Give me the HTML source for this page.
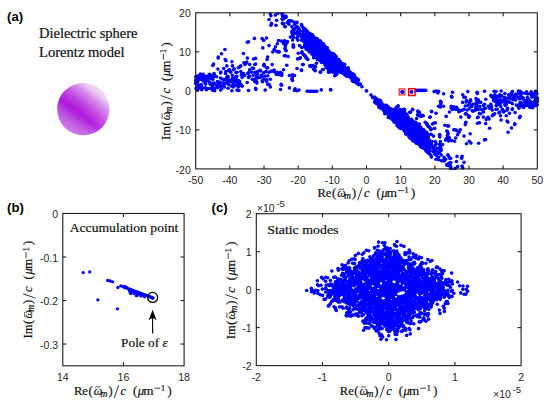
<!DOCTYPE html>
<html><head><meta charset="utf-8">
<style>
html,body{margin:0;padding:0;background:#fff;width:550px;height:406px;overflow:hidden}
svg{position:absolute;left:0;top:0}
.sans{font-family:"Liberation Sans",sans-serif}
.serif{font-family:"Liberation Serif",serif;stroke:#111;stroke-width:0.2px}
</style></head><body>
<svg width="550" height="406" viewBox="0 0 550 406">
<defs>
<linearGradient id="sph" x1="0.2" y1="1" x2="0.8" y2="0.2">
<stop offset="0.08" stop-color="#cd82e6"/>
<stop offset="0.28" stop-color="#c05ce2"/>
<stop offset="0.47" stop-color="#b41ade"/>
<stop offset="0.66" stop-color="#c450e2"/>
<stop offset="0.86" stop-color="#da98ec"/>
<stop offset="1.06" stop-color="#f2dcf5"/>
</linearGradient>
<radialGradient id="sphr" cx="0.3" cy="0.42" r="0.75">
<stop offset="0" stop-color="#9000c0" stop-opacity="0.18"/>
<stop offset="0.5" stop-color="#9000c0" stop-opacity="0.05"/>
<stop offset="1" stop-color="#ffffff" stop-opacity="0.15"/>
</radialGradient>
<clipPath id="clipA"><rect x="193" y="12.6" width="347" height="157.5"/></clipPath>
</defs>
<rect x="0" y="0" width="550" height="406" fill="#fff"/>
<!-- (a) text -->
<text class="sans" x="7" y="21.4" font-size="13.2" font-weight="bold" fill="#000">(a)</text>
<text class="serif" x="39" y="37.5" font-size="13.6" fill="#111" textLength="98.5" lengthAdjust="spacingAndGlyphs">Dielectric sphere</text>
<text class="serif" x="39" y="56.5" font-size="13.6" fill="#111" textLength="85.5" lengthAdjust="spacingAndGlyphs">Lorentz model</text>
<circle cx="83.3" cy="109.1" r="26.2" fill="url(#sph)"/><circle cx="83.3" cy="109.1" r="26.2" fill="url(#sphr)"/>

<!-- Panel (a) axes -->
<g fill="#0000ff" clip-path="url(#clipA)"><path d="M310.0 34.0 L327.3 48.7 L343.2 63.5 L348.7 68.5 L353.0 73.0 L357.0 78.0 L360.0 83.5 L348.7 76.8 L337.3 73.0 L329.1 69.5 L317.6 56.5 L311.0 51.0 L306.0 45.0 L306.0 38.0Z M423.0 147.7 L405.7 133.0 L389.8 118.2 L384.3 113.2 L380.0 108.7 L376.0 103.7 L373.0 98.2 L384.3 104.9 L395.7 108.7 L403.9 112.2 L415.4 125.2 L422.0 130.7 L427.0 136.7 L427.0 143.7Z"/><circle cx="224.9" cy="49.5" r="1.8"/><circle cx="221.5" cy="53.7" r="1.8"/><circle cx="218.3" cy="57.1" r="1.8"/><circle cx="225.2" cy="59.6" r="1.8"/><circle cx="247.4" cy="42.2" r="1.8"/><circle cx="248.5" cy="41.8" r="1.8"/><circle cx="254.4" cy="38.4" r="1.8"/><circle cx="262.1" cy="38.6" r="1.8"/><circle cx="263.7" cy="40.5" r="1.8"/><circle cx="262.8" cy="47.9" r="1.8"/><circle cx="243.4" cy="53.5" r="1.8"/><circle cx="247.4" cy="58.1" r="1.8"/><circle cx="253.5" cy="59.0" r="1.8"/><circle cx="255.5" cy="58.4" r="1.8"/><circle cx="270.3" cy="13.8" r="1.8"/><circle cx="270.9" cy="15.7" r="1.8"/><circle cx="275.4" cy="15.1" r="1.8"/><circle cx="277.9" cy="13.2" r="1.8"/><circle cx="281.7" cy="13.2" r="1.8"/><circle cx="282.4" cy="15.7" r="1.8"/><circle cx="285.5" cy="16.4" r="1.8"/><circle cx="269.0" cy="19.5" r="1.8"/><circle cx="276.6" cy="20.2" r="1.8"/><circle cx="282.4" cy="19.2" r="1.8"/><circle cx="271.5" cy="23.4" r="1.8"/><circle cx="270.9" cy="25.3" r="1.8"/><circle cx="276.0" cy="25.3" r="1.8"/><circle cx="282.4" cy="23.4" r="1.8"/><circle cx="284.9" cy="26.5" r="1.8"/><circle cx="288.7" cy="20.8" r="1.8"/><circle cx="266.5" cy="38.0" r="1.8"/><circle cx="269.0" cy="45.6" r="1.8"/><circle cx="278.5" cy="40.5" r="1.8"/><circle cx="277.3" cy="43.7" r="1.8"/><circle cx="284.3" cy="41.2" r="1.8"/><circle cx="285.5" cy="44.4" r="1.8"/><circle cx="275.4" cy="46.9" r="1.8"/><circle cx="274.1" cy="49.5" r="1.8"/><circle cx="272.8" cy="52.0" r="1.8"/><circle cx="277.9" cy="52.0" r="1.8"/><circle cx="284.9" cy="48.2" r="1.8"/><circle cx="286.2" cy="50.7" r="1.8"/><circle cx="293.2" cy="46.9" r="1.8"/><circle cx="285.5" cy="55.8" r="1.8"/><circle cx="288.1" cy="56.5" r="1.8"/><circle cx="267.7" cy="57.1" r="1.8"/><circle cx="298.3" cy="53.3" r="1.8"/><circle cx="299.5" cy="58.4" r="1.8"/><circle cx="303.4" cy="54.5" r="1.8"/><circle cx="311.3" cy="65.6" r="1.8"/><circle cx="315.1" cy="70.7" r="1.8"/><circle cx="320.2" cy="72.0" r="1.8"/><circle cx="322.7" cy="69.5" r="1.8"/><circle cx="334.8" cy="75.8" r="1.8"/><circle cx="328.3" cy="72.1" r="1.8"/><circle cx="321.3" cy="89.9" r="1.8"/><circle cx="330.8" cy="89.9" r="1.8"/><circle cx="362.0" cy="86.7" r="1.8"/><circle cx="366.4" cy="90.7" r="1.8"/><circle cx="231.9" cy="61.7" r="1.8"/><circle cx="213.5" cy="64.0" r="1.8"/><circle cx="212.8" cy="65.5" r="1.8"/><circle cx="226.8" cy="65.9" r="1.8"/><circle cx="232.5" cy="65.9" r="1.8"/><circle cx="244.0" cy="62.7" r="1.8"/><circle cx="245.9" cy="63.4" r="1.8"/><circle cx="249.7" cy="64.6" r="1.8"/><circle cx="254.8" cy="64.6" r="1.8"/><circle cx="263.7" cy="65.3" r="1.8"/><circle cx="217.9" cy="69.1" r="1.8"/><circle cx="223.6" cy="68.5" r="1.8"/><circle cx="228.7" cy="70.4" r="1.8"/><circle cx="233.2" cy="69.7" r="1.8"/><circle cx="238.3" cy="67.8" r="1.8"/><circle cx="240.8" cy="65.9" r="1.8"/><circle cx="253.5" cy="68.5" r="1.8"/><circle cx="259.9" cy="70.4" r="1.8"/><circle cx="214.1" cy="73.5" r="1.8"/><circle cx="220.5" cy="72.9" r="1.8"/><circle cx="225.5" cy="73.5" r="1.8"/><circle cx="230.6" cy="72.3" r="1.8"/><circle cx="237.0" cy="72.3" r="1.8"/><circle cx="240.8" cy="71.6" r="1.8"/><circle cx="243.4" cy="73.5" r="1.8"/><circle cx="248.5" cy="72.9" r="1.8"/><circle cx="254.8" cy="72.3" r="1.8"/><circle cx="257.4" cy="74.2" r="1.8"/><circle cx="263.7" cy="72.9" r="1.8"/><circle cx="276.6" cy="51.3" r="1.8"/><circle cx="279.2" cy="51.9" r="1.8"/><circle cx="285.5" cy="50.0" r="1.8"/><circle cx="267.1" cy="59.5" r="1.8"/><circle cx="284.3" cy="55.7" r="1.8"/><circle cx="302.1" cy="51.9" r="1.8"/><circle cx="304.6" cy="55.1" r="1.8"/><circle cx="305.9" cy="57.6" r="1.8"/><circle cx="307.8" cy="59.5" r="1.8"/><circle cx="297.6" cy="58.9" r="1.8"/><circle cx="264.5" cy="65.9" r="1.8"/><circle cx="272.2" cy="64.6" r="1.8"/><circle cx="286.8" cy="65.3" r="1.8"/><circle cx="302.7" cy="64.6" r="1.8"/><circle cx="309.7" cy="65.9" r="1.8"/><circle cx="297.0" cy="68.5" r="1.8"/><circle cx="301.5" cy="70.4" r="1.8"/><circle cx="313.5" cy="69.1" r="1.8"/><circle cx="255.6" cy="64.0" r="1.8"/><circle cx="267.7" cy="67.8" r="1.8"/><circle cx="256.3" cy="72.3" r="1.8"/><circle cx="260.7" cy="71.0" r="1.8"/><circle cx="269.0" cy="72.3" r="1.8"/><circle cx="272.8" cy="71.0" r="1.8"/><circle cx="275.4" cy="72.3" r="1.8"/><circle cx="277.9" cy="73.5" r="1.8"/><circle cx="280.5" cy="72.3" r="1.8"/><circle cx="283.6" cy="69.7" r="1.8"/><circle cx="281.7" cy="75.5" r="1.8"/><circle cx="279.2" cy="74.8" r="1.8"/><circle cx="289.4" cy="75.5" r="1.8"/><circle cx="292.5" cy="74.8" r="1.8"/><circle cx="294.5" cy="75.5" r="1.8"/><circle cx="291.9" cy="79.3" r="1.8"/><circle cx="292.5" cy="80.5" r="1.8"/><circle cx="256.3" cy="75.5" r="1.8"/><circle cx="257.5" cy="78.0" r="1.8"/><circle cx="262.0" cy="76.7" r="1.8"/><circle cx="263.9" cy="79.3" r="1.8"/><circle cx="266.5" cy="81.2" r="1.8"/><circle cx="270.3" cy="79.3" r="1.8"/><circle cx="256.3" cy="81.2" r="1.8"/><circle cx="256.9" cy="83.1" r="1.8"/><circle cx="269.0" cy="84.4" r="1.8"/><circle cx="270.3" cy="86.9" r="1.8"/><circle cx="281.1" cy="84.4" r="1.8"/><circle cx="255.6" cy="88.2" r="1.8"/><circle cx="265.2" cy="90.1" r="1.8"/><circle cx="280.5" cy="89.5" r="1.8"/><circle cx="289.4" cy="87.9" r="1.8"/><circle cx="295.1" cy="88.8" r="1.8"/><circle cx="297.0" cy="90.7" r="1.8"/><circle cx="298.9" cy="90.1" r="1.8"/><circle cx="294.5" cy="90.4" r="1.8"/><circle cx="281.5" cy="85.3" r="1.8"/><circle cx="212.8" cy="79.3" r="1.8"/><circle cx="216.6" cy="76.7" r="1.8"/><circle cx="220.5" cy="78.0" r="1.8"/><circle cx="224.3" cy="79.9" r="1.8"/><circle cx="228.1" cy="77.4" r="1.8"/><circle cx="231.9" cy="79.3" r="1.8"/><circle cx="235.7" cy="76.7" r="1.8"/><circle cx="238.3" cy="80.5" r="1.8"/><circle cx="242.1" cy="77.4" r="1.8"/><circle cx="244.6" cy="75.5" r="1.8"/><circle cx="248.5" cy="77.4" r="1.8"/><circle cx="252.3" cy="79.3" r="1.8"/><circle cx="256.1" cy="78.0" r="1.8"/><circle cx="259.9" cy="77.4" r="1.8"/><circle cx="214.1" cy="83.1" r="1.8"/><circle cx="219.2" cy="83.7" r="1.8"/><circle cx="223.0" cy="83.1" r="1.8"/><circle cx="228.1" cy="82.5" r="1.8"/><circle cx="233.2" cy="84.4" r="1.8"/><circle cx="237.0" cy="83.1" r="1.8"/><circle cx="240.8" cy="84.4" r="1.8"/><circle cx="247.2" cy="82.5" r="1.8"/><circle cx="254.8" cy="81.8" r="1.8"/><circle cx="262.5" cy="81.8" r="1.8"/><circle cx="212.8" cy="86.9" r="1.8"/><circle cx="217.9" cy="85.6" r="1.8"/><circle cx="224.3" cy="86.9" r="1.8"/><circle cx="228.1" cy="88.2" r="1.8"/><circle cx="233.2" cy="86.9" r="1.8"/><circle cx="238.3" cy="86.9" r="1.8"/><circle cx="242.1" cy="86.3" r="1.8"/><circle cx="212.8" cy="90.5" r="1.8"/><circle cx="214.7" cy="90.7" r="1.8"/><circle cx="220.5" cy="90.1" r="1.8"/><circle cx="221.7" cy="88.8" r="1.8"/><circle cx="231.9" cy="90.7" r="1.8"/><circle cx="237.0" cy="90.1" r="1.8"/><circle cx="238.9" cy="90.5" r="1.8"/><circle cx="248.5" cy="90.5" r="1.8"/><circle cx="307.2" cy="91.3" r="1.8"/><circle cx="308.8" cy="91.3" r="1.8"/><circle cx="310.4" cy="91.3" r="1.8"/><circle cx="312.0" cy="91.3" r="1.8"/><circle cx="313.6" cy="91.3" r="1.8"/><circle cx="315.2" cy="91.3" r="1.8"/><circle cx="316.8" cy="91.3" r="1.8"/><circle cx="200.6" cy="78.6" r="1.8"/><circle cx="213.4" cy="84.3" r="1.8"/><circle cx="204.3" cy="78.8" r="1.8"/><circle cx="209.0" cy="76.5" r="1.8"/><circle cx="210.6" cy="88.6" r="1.8"/><circle cx="201.1" cy="88.7" r="1.8"/><circle cx="210.5" cy="75.0" r="1.8"/><circle cx="205.4" cy="87.7" r="1.8"/><circle cx="211.2" cy="78.7" r="1.8"/><circle cx="212.0" cy="77.0" r="1.8"/><circle cx="197.3" cy="76.1" r="1.8"/><circle cx="203.2" cy="80.9" r="1.8"/><circle cx="201.5" cy="86.6" r="1.8"/><circle cx="199.8" cy="75.6" r="1.8"/><circle cx="197.6" cy="83.1" r="1.8"/><circle cx="216.5" cy="85.1" r="1.8"/><circle cx="214.9" cy="88.4" r="1.8"/><circle cx="207.8" cy="88.5" r="1.8"/><circle cx="206.6" cy="77.9" r="1.8"/><circle cx="205.7" cy="84.1" r="1.8"/><circle cx="202.9" cy="88.0" r="1.8"/><circle cx="201.3" cy="79.2" r="1.8"/><circle cx="195.6" cy="83.6" r="1.8"/><circle cx="201.9" cy="74.6" r="1.8"/><circle cx="198.9" cy="77.0" r="1.8"/><circle cx="206.2" cy="81.1" r="1.8"/><circle cx="201.8" cy="77.7" r="1.8"/><circle cx="206.4" cy="76.9" r="1.8"/><circle cx="214.4" cy="76.4" r="1.8"/><circle cx="212.4" cy="83.3" r="1.8"/><circle cx="200.2" cy="85.7" r="1.8"/><circle cx="209.4" cy="82.1" r="1.8"/><circle cx="201.1" cy="84.5" r="1.8"/><circle cx="197.3" cy="87.5" r="1.8"/><circle cx="205.1" cy="83.4" r="1.8"/><circle cx="202.5" cy="76.4" r="1.8"/><circle cx="195.7" cy="76.9" r="1.8"/><circle cx="205.4" cy="79.6" r="1.8"/><circle cx="196.8" cy="80.0" r="1.8"/><circle cx="213.1" cy="76.8" r="1.8"/><circle cx="207.9" cy="79.4" r="1.8"/><circle cx="206.9" cy="78.8" r="1.8"/><circle cx="197.4" cy="81.2" r="1.8"/><circle cx="196.1" cy="88.2" r="1.8"/><circle cx="198.2" cy="85.5" r="1.8"/><circle cx="215.7" cy="76.2" r="1.8"/><circle cx="203.0" cy="79.6" r="1.8"/><circle cx="195.7" cy="80.3" r="1.8"/><circle cx="213.1" cy="88.9" r="1.8"/><circle cx="217.5" cy="87.4" r="1.8"/><circle cx="196.5" cy="78.1" r="1.8"/><circle cx="203.2" cy="74.4" r="1.8"/><circle cx="197.6" cy="89.4" r="1.8"/><circle cx="207.5" cy="80.3" r="1.8"/><circle cx="217.7" cy="84.8" r="1.8"/><circle cx="211.8" cy="85.2" r="1.8"/><circle cx="207.1" cy="76.3" r="1.8"/><circle cx="217.5" cy="81.6" r="1.8"/><circle cx="198.1" cy="78.6" r="1.8"/><circle cx="196.0" cy="82.1" r="1.8"/><circle cx="199.2" cy="87.5" r="1.8"/><circle cx="198.7" cy="80.3" r="1.8"/><circle cx="209.4" cy="74.2" r="1.8"/><circle cx="200.4" cy="76.8" r="1.8"/><circle cx="200.3" cy="74.0" r="1.8"/><circle cx="209.9" cy="84.0" r="1.8"/><circle cx="205.3" cy="76.2" r="1.8"/><circle cx="222.9" cy="85.3" r="1.8"/><circle cx="233.2" cy="81.2" r="1.8"/><circle cx="226.8" cy="77.2" r="1.8"/><circle cx="231.3" cy="81.5" r="1.8"/><circle cx="235.8" cy="85.5" r="1.8"/><circle cx="228.9" cy="80.1" r="1.8"/><circle cx="236.0" cy="77.7" r="1.8"/><circle cx="231.2" cy="86.0" r="1.8"/><circle cx="222.9" cy="79.2" r="1.8"/><circle cx="239.2" cy="83.1" r="1.8"/><circle cx="238.9" cy="85.1" r="1.8"/><circle cx="232.8" cy="78.1" r="1.8"/><circle cx="225.3" cy="83.6" r="1.8"/><circle cx="227.6" cy="81.1" r="1.8"/><circle cx="219.6" cy="82.9" r="1.8"/><circle cx="235.1" cy="81.6" r="1.8"/><circle cx="228.5" cy="84.5" r="1.8"/><circle cx="220.1" cy="82.0" r="1.8"/><circle cx="234.5" cy="80.0" r="1.8"/><circle cx="237.3" cy="81.0" r="1.8"/><circle cx="220.5" cy="86.7" r="1.8"/><circle cx="219.7" cy="84.9" r="1.8"/><circle cx="225.9" cy="60.7" r="1.8"/><circle cx="246.8" cy="62.1" r="1.8"/><circle cx="245.0" cy="64.4" r="1.8"/><circle cx="264.1" cy="64.4" r="1.8"/><circle cx="229.5" cy="69.8" r="1.8"/><circle cx="234.1" cy="68.9" r="1.8"/><circle cx="239.5" cy="67.1" r="1.8"/><circle cx="249.5" cy="69.8" r="1.8"/><circle cx="252.3" cy="68.0" r="1.8"/><circle cx="266.8" cy="68.0" r="1.8"/><circle cx="225.9" cy="71.6" r="1.8"/><circle cx="235.9" cy="72.5" r="1.8"/><circle cx="247.7" cy="73.5" r="1.8"/><circle cx="251.4" cy="72.1" r="1.8"/><circle cx="257.7" cy="71.6" r="1.8"/><circle cx="265.9" cy="71.6" r="1.8"/><circle cx="274.1" cy="71.6" r="1.8"/><circle cx="227.7" cy="76.2" r="1.8"/><circle cx="232.3" cy="75.3" r="1.8"/><circle cx="236.8" cy="76.2" r="1.8"/><circle cx="241.4" cy="74.8" r="1.8"/><circle cx="249.5" cy="76.2" r="1.8"/><circle cx="253.2" cy="75.3" r="1.8"/><circle cx="256.8" cy="77.1" r="1.8"/><circle cx="261.4" cy="75.3" r="1.8"/><circle cx="265.0" cy="76.2" r="1.8"/><circle cx="267.7" cy="75.7" r="1.8"/><circle cx="225.9" cy="79.8" r="1.8"/><circle cx="233.2" cy="79.8" r="1.8"/><circle cx="236.8" cy="79.8" r="1.8"/><circle cx="239.5" cy="81.2" r="1.8"/><circle cx="254.1" cy="79.8" r="1.8"/><circle cx="262.3" cy="80.7" r="1.8"/><circle cx="266.8" cy="79.8" r="1.8"/><circle cx="228.6" cy="83.5" r="1.8"/><circle cx="233.2" cy="85.3" r="1.8"/><circle cx="237.7" cy="83.9" r="1.8"/><circle cx="241.4" cy="85.3" r="1.8"/><circle cx="267.7" cy="84.4" r="1.8"/><circle cx="255.9" cy="89.4" r="1.8"/><circle cx="305.5" cy="56.4" r="1.8"/><circle cx="306.8" cy="58.6" r="1.8"/><circle cx="313.6" cy="57.7" r="1.8"/><circle cx="317.3" cy="59.5" r="1.8"/><circle cx="316.4" cy="63.2" r="1.8"/><circle cx="312.7" cy="65.5" r="1.8"/><circle cx="315.5" cy="66.8" r="1.8"/><circle cx="270.9" cy="71.4" r="1.8"/><circle cx="274.1" cy="70.0" r="1.8"/><circle cx="277.3" cy="72.3" r="1.8"/><circle cx="276.4" cy="74.5" r="1.8"/><circle cx="281.8" cy="73.6" r="1.8"/><circle cx="292.3" cy="77.7" r="1.8"/><circle cx="218.2" cy="58.0" r="1.8"/><circle cx="220.9" cy="72.1" r="1.8"/><circle cx="214.1" cy="74.8" r="1.8"/><circle cx="197.3" cy="90.3" r="1.8"/><circle cx="201.8" cy="89.8" r="1.8"/><circle cx="206.4" cy="89.8" r="1.8"/><circle cx="298.4" cy="28.3" r="1.8"/><circle cx="307.7" cy="48.4" r="1.8"/><circle cx="323.3" cy="48.6" r="1.8"/><circle cx="292.0" cy="31.3" r="1.8"/><circle cx="314.5" cy="43.5" r="1.8"/><circle cx="305.2" cy="36.5" r="1.8"/><circle cx="307.6" cy="39.5" r="1.8"/><circle cx="327.1" cy="52.6" r="1.8"/><circle cx="315.9" cy="45.5" r="1.8"/><circle cx="316.8" cy="48.9" r="1.8"/><circle cx="329.5" cy="57.4" r="1.8"/><circle cx="321.4" cy="60.4" r="1.8"/><circle cx="305.9" cy="31.2" r="1.8"/><circle cx="321.2" cy="46.9" r="1.8"/><circle cx="322.0" cy="59.1" r="1.8"/><circle cx="341.5" cy="63.8" r="1.8"/><circle cx="319.0" cy="43.7" r="1.8"/><circle cx="358.6" cy="84.7" r="1.8"/><circle cx="309.4" cy="50.7" r="1.8"/><circle cx="321.6" cy="62.5" r="1.8"/><circle cx="296.9" cy="26.4" r="1.8"/><circle cx="318.0" cy="50.2" r="1.8"/><circle cx="322.1" cy="56.6" r="1.8"/><circle cx="291.5" cy="21.0" r="1.8"/><circle cx="314.1" cy="52.8" r="1.8"/><circle cx="316.8" cy="44.7" r="1.8"/><circle cx="342.8" cy="63.7" r="1.8"/><circle cx="331.7" cy="69.6" r="1.8"/><circle cx="313.4" cy="36.6" r="1.8"/><circle cx="307.0" cy="35.6" r="1.8"/><circle cx="300.0" cy="34.4" r="1.8"/><circle cx="356.9" cy="79.8" r="1.8"/><circle cx="331.7" cy="56.8" r="1.8"/><circle cx="330.0" cy="66.9" r="1.8"/><circle cx="312.2" cy="36.1" r="1.8"/><circle cx="349.0" cy="75.7" r="1.8"/><circle cx="320.7" cy="57.7" r="1.8"/><circle cx="353.9" cy="80.2" r="1.8"/><circle cx="308.3" cy="34.9" r="1.8"/><circle cx="333.1" cy="59.4" r="1.8"/><circle cx="319.4" cy="56.5" r="1.8"/><circle cx="289.0" cy="24.3" r="1.8"/><circle cx="294.5" cy="33.1" r="1.8"/><circle cx="311.7" cy="50.6" r="1.8"/><circle cx="304.2" cy="46.9" r="1.8"/><circle cx="336.0" cy="59.3" r="1.8"/><circle cx="334.2" cy="69.3" r="1.8"/><circle cx="306.0" cy="41.9" r="1.8"/><circle cx="293.3" cy="37.4" r="1.8"/><circle cx="309.1" cy="45.4" r="1.8"/><circle cx="354.2" cy="74.8" r="1.8"/><circle cx="299.3" cy="33.1" r="1.8"/><circle cx="320.6" cy="50.6" r="1.8"/><circle cx="322.8" cy="50.2" r="1.8"/><circle cx="312.2" cy="40.3" r="1.8"/><circle cx="358.5" cy="79.7" r="1.8"/><circle cx="294.5" cy="24.4" r="1.8"/><circle cx="306.3" cy="37.2" r="1.8"/><circle cx="360.4" cy="84.1" r="1.8"/><circle cx="329.6" cy="63.1" r="1.8"/><circle cx="296.8" cy="38.0" r="1.8"/><circle cx="307.3" cy="36.5" r="1.8"/><circle cx="328.8" cy="59.7" r="1.8"/><circle cx="346.5" cy="70.0" r="1.8"/><circle cx="319.7" cy="58.5" r="1.8"/><circle cx="324.7" cy="63.1" r="1.8"/><circle cx="298.9" cy="29.1" r="1.8"/><circle cx="340.5" cy="64.0" r="1.8"/><circle cx="297.6" cy="31.0" r="1.8"/><circle cx="324.5" cy="58.5" r="1.8"/><circle cx="313.7" cy="51.4" r="1.8"/><circle cx="317.2" cy="56.4" r="1.8"/><circle cx="330.4" cy="62.1" r="1.8"/><circle cx="332.0" cy="53.3" r="1.8"/><circle cx="309.4" cy="36.6" r="1.8"/><circle cx="304.9" cy="42.2" r="1.8"/><circle cx="307.2" cy="43.7" r="1.8"/><circle cx="314.4" cy="54.1" r="1.8"/><circle cx="301.1" cy="40.1" r="1.8"/><circle cx="303.1" cy="27.5" r="1.8"/><circle cx="330.6" cy="71.6" r="1.8"/><circle cx="333.2" cy="62.1" r="1.8"/><circle cx="324.1" cy="60.2" r="1.8"/><circle cx="340.5" cy="61.9" r="1.8"/><circle cx="319.7" cy="60.5" r="1.8"/><circle cx="313.2" cy="38.6" r="1.8"/><circle cx="307.7" cy="46.0" r="1.8"/><circle cx="302.8" cy="38.7" r="1.8"/><circle cx="295.8" cy="27.8" r="1.8"/><circle cx="309.3" cy="42.8" r="1.8"/><circle cx="316.1" cy="52.8" r="1.8"/><circle cx="325.6" cy="47.1" r="1.8"/><circle cx="344.6" cy="74.7" r="1.8"/><circle cx="311.7" cy="45.9" r="1.8"/><circle cx="320.5" cy="56.7" r="1.8"/><circle cx="292.7" cy="35.6" r="1.8"/><circle cx="303.0" cy="33.5" r="1.8"/><circle cx="318.5" cy="57.7" r="1.8"/><circle cx="304.5" cy="34.8" r="1.8"/><circle cx="328.0" cy="56.4" r="1.8"/><circle cx="308.0" cy="37.2" r="1.8"/><circle cx="323.5" cy="59.3" r="1.8"/><circle cx="351.2" cy="78.3" r="1.8"/><circle cx="302.9" cy="36.5" r="1.8"/><circle cx="298.9" cy="30.5" r="1.8"/><circle cx="329.7" cy="71.4" r="1.8"/><circle cx="352.3" cy="80.8" r="1.8"/><circle cx="320.8" cy="55.6" r="1.8"/><circle cx="310.4" cy="35.2" r="1.8"/><circle cx="293.0" cy="34.2" r="1.8"/><circle cx="327.9" cy="61.6" r="1.8"/><circle cx="327.0" cy="66.7" r="1.8"/><circle cx="351.7" cy="73.4" r="1.8"/><circle cx="294.2" cy="30.1" r="1.8"/><circle cx="312.6" cy="51.0" r="1.8"/><circle cx="304.0" cy="29.1" r="1.8"/><circle cx="347.6" cy="71.1" r="1.8"/><circle cx="356.9" cy="78.5" r="1.8"/><circle cx="318.4" cy="49.4" r="1.8"/><circle cx="309.9" cy="37.6" r="1.8"/><circle cx="338.4" cy="66.9" r="1.8"/><circle cx="341.9" cy="72.3" r="1.8"/><circle cx="335.5" cy="74.4" r="1.8"/><circle cx="322.4" cy="61.8" r="1.8"/><circle cx="336.8" cy="72.2" r="1.8"/><circle cx="335.9" cy="69.2" r="1.8"/><circle cx="342.7" cy="67.9" r="1.8"/><circle cx="322.4" cy="53.3" r="1.8"/><circle cx="316.7" cy="53.7" r="1.8"/><circle cx="331.4" cy="68.7" r="1.8"/><circle cx="324.2" cy="45.9" r="1.8"/><circle cx="326.6" cy="51.4" r="1.8"/><circle cx="333.8" cy="56.5" r="1.8"/><circle cx="320.2" cy="46.8" r="1.8"/><circle cx="333.2" cy="61.0" r="1.8"/><circle cx="357.6" cy="81.2" r="1.8"/><circle cx="338.0" cy="61.6" r="1.8"/><circle cx="338.0" cy="63.3" r="1.8"/><circle cx="355.8" cy="81.1" r="1.8"/><circle cx="328.1" cy="63.1" r="1.8"/><circle cx="313.5" cy="45.5" r="1.8"/><circle cx="335.9" cy="56.3" r="1.8"/><circle cx="327.3" cy="55.3" r="1.8"/><circle cx="323.5" cy="58.4" r="1.8"/><circle cx="326.0" cy="62.9" r="1.8"/><circle cx="310.3" cy="40.3" r="1.8"/><circle cx="347.2" cy="75.1" r="1.8"/><circle cx="313.0" cy="42.5" r="1.8"/><circle cx="319.7" cy="42.8" r="1.8"/><circle cx="324.3" cy="49.9" r="1.8"/><circle cx="310.1" cy="49.9" r="1.8"/><circle cx="326.9" cy="59.1" r="1.8"/><circle cx="331.1" cy="58.5" r="1.8"/><circle cx="323.1" cy="47.3" r="1.8"/><circle cx="318.9" cy="54.1" r="1.8"/><circle cx="312.1" cy="54.3" r="1.8"/><circle cx="340.6" cy="69.7" r="1.8"/><circle cx="345.0" cy="68.0" r="1.8"/><circle cx="318.2" cy="40.2" r="1.8"/><circle cx="345.8" cy="71.9" r="1.8"/><circle cx="332.2" cy="58.6" r="1.8"/><circle cx="315.7" cy="39.0" r="1.8"/><circle cx="322.5" cy="44.6" r="1.8"/><circle cx="308.2" cy="50.3" r="1.8"/><circle cx="326.0" cy="50.1" r="1.8"/><circle cx="354.8" cy="77.0" r="1.8"/><circle cx="328.8" cy="50.8" r="1.8"/><circle cx="329.8" cy="54.5" r="1.8"/><circle cx="347.9" cy="70.2" r="1.8"/><circle cx="303.5" cy="41.3" r="1.8"/><circle cx="310.1" cy="44.8" r="1.8"/><circle cx="342.7" cy="65.6" r="1.8"/><circle cx="317.7" cy="41.6" r="1.8"/><circle cx="315.0" cy="53.3" r="1.8"/><circle cx="347.5" cy="74.1" r="1.8"/><circle cx="312.2" cy="47.8" r="1.8"/><circle cx="343.5" cy="72.1" r="1.8"/><circle cx="331.5" cy="62.4" r="1.8"/><circle cx="317.5" cy="51.9" r="1.8"/><circle cx="326.6" cy="58.0" r="1.8"/><circle cx="314.1" cy="39.1" r="1.8"/><circle cx="329.8" cy="60.7" r="1.8"/><circle cx="328.3" cy="54.1" r="1.8"/><circle cx="311.8" cy="38.7" r="1.8"/><circle cx="341.3" cy="69.1" r="1.8"/><circle cx="318.5" cy="56.1" r="1.8"/><circle cx="346.4" cy="74.0" r="1.8"/><circle cx="325.4" cy="48.6" r="1.8"/><circle cx="337.0" cy="73.7" r="1.8"/><circle cx="350.5" cy="75.1" r="1.8"/><circle cx="332.6" cy="54.5" r="1.8"/><circle cx="323.9" cy="44.9" r="1.8"/><circle cx="309.9" cy="38.6" r="1.8"/><circle cx="305.3" cy="46.4" r="1.8"/><circle cx="322.7" cy="52.4" r="1.8"/><circle cx="323.4" cy="61.8" r="1.8"/><circle cx="304.7" cy="38.5" r="1.8"/><circle cx="342.4" cy="69.6" r="1.8"/><circle cx="323.0" cy="43.6" r="1.8"/><circle cx="338.7" cy="59.5" r="1.8"/><circle cx="315.8" cy="41.2" r="1.8"/><circle cx="320.8" cy="52.3" r="1.8"/><circle cx="305.4" cy="37.6" r="1.8"/><circle cx="318.9" cy="47.5" r="1.8"/><circle cx="344.7" cy="73.4" r="1.8"/><circle cx="353.3" cy="78.7" r="1.8"/><circle cx="340.9" cy="68.2" r="1.8"/><circle cx="318.5" cy="45.9" r="1.8"/><circle cx="324.8" cy="52.8" r="1.8"/><circle cx="338.7" cy="60.5" r="1.8"/><circle cx="330.5" cy="68.1" r="1.8"/><circle cx="306.3" cy="49.2" r="1.8"/><circle cx="333.8" cy="66.1" r="1.8"/><circle cx="344.5" cy="69.5" r="1.8"/><circle cx="309.4" cy="51.9" r="1.8"/><circle cx="338.8" cy="69.8" r="1.8"/><circle cx="314.1" cy="56.2" r="1.8"/><circle cx="352.3" cy="76.6" r="1.8"/><circle cx="315.6" cy="46.9" r="1.8"/><circle cx="326.6" cy="49.4" r="1.8"/><circle cx="310.3" cy="51.8" r="1.8"/><circle cx="307.2" cy="41.3" r="1.8"/><circle cx="356.8" cy="83.3" r="1.8"/><circle cx="325.3" cy="56.2" r="1.8"/><circle cx="334.7" cy="60.9" r="1.8"/><circle cx="317.3" cy="39.8" r="1.8"/><circle cx="348.2" cy="76.5" r="1.8"/><circle cx="327.3" cy="64.9" r="1.8"/><circle cx="335.0" cy="68.5" r="1.8"/><circle cx="334.3" cy="64.5" r="1.8"/><circle cx="316.6" cy="50.2" r="1.8"/><circle cx="314.9" cy="48.2" r="1.8"/><circle cx="348.7" cy="71.5" r="1.8"/><circle cx="309.0" cy="48.7" r="1.8"/><circle cx="313.9" cy="47.0" r="1.8"/><circle cx="310.7" cy="44.1" r="1.8"/><circle cx="328.7" cy="51.9" r="1.8"/><circle cx="305.9" cy="47.6" r="1.8"/><circle cx="331.0" cy="65.5" r="1.8"/><circle cx="326.3" cy="54.9" r="1.8"/><circle cx="322.1" cy="55.1" r="1.8"/><circle cx="340.0" cy="71.0" r="1.8"/><circle cx="332.1" cy="60.4" r="1.8"/><circle cx="332.9" cy="68.8" r="1.8"/><circle cx="324.1" cy="55.3" r="1.8"/><circle cx="322.4" cy="60.3" r="1.8"/><circle cx="319.9" cy="52.0" r="1.8"/><circle cx="331.6" cy="66.5" r="1.8"/><circle cx="339.6" cy="63.6" r="1.8"/><circle cx="335.5" cy="65.8" r="1.8"/><circle cx="321.5" cy="54.1" r="1.8"/><circle cx="315.1" cy="38.1" r="1.8"/><circle cx="306.9" cy="47.4" r="1.8"/><circle cx="349.6" cy="71.7" r="1.8"/><circle cx="310.7" cy="48.0" r="1.8"/><circle cx="328.1" cy="69.0" r="1.8"/><circle cx="324.1" cy="47.8" r="1.8"/><circle cx="345.7" cy="69.4" r="1.8"/><circle cx="326.6" cy="61.1" r="1.8"/><circle cx="335.7" cy="71.1" r="1.8"/><circle cx="327.7" cy="60.0" r="1.8"/><circle cx="312.4" cy="34.9" r="1.8"/><circle cx="324.1" cy="54.0" r="1.8"/><circle cx="314.9" cy="57.5" r="1.8"/><circle cx="334.9" cy="63.7" r="1.8"/><circle cx="304.6" cy="44.8" r="1.8"/><circle cx="325.0" cy="51.5" r="1.8"/><circle cx="336.4" cy="74.7" r="1.8"/><circle cx="323.8" cy="50.8" r="1.8"/><circle cx="328.8" cy="70.9" r="1.8"/><circle cx="327.3" cy="47.8" r="1.8"/><circle cx="334.7" cy="57.1" r="1.8"/><circle cx="327.4" cy="50.1" r="1.8"/><circle cx="332.3" cy="62.9" r="1.8"/><circle cx="344.7" cy="64.2" r="1.8"/><circle cx="328.1" cy="64.3" r="1.8"/><circle cx="329.2" cy="64.1" r="1.8"/><circle cx="332.5" cy="65.4" r="1.8"/><circle cx="346.9" cy="69.1" r="1.8"/><circle cx="305.9" cy="40.2" r="1.8"/><circle cx="312.1" cy="43.6" r="1.8"/><circle cx="343.8" cy="65.8" r="1.8"/><circle cx="309.1" cy="49.7" r="1.8"/><circle cx="352.7" cy="73.7" r="1.8"/><circle cx="337.9" cy="70.0" r="1.8"/><circle cx="336.0" cy="70.2" r="1.8"/><circle cx="339.5" cy="61.2" r="1.8"/><circle cx="326.2" cy="67.4" r="1.8"/><circle cx="348.2" cy="67.9" r="1.8"/><circle cx="335.6" cy="61.7" r="1.8"/><circle cx="336.4" cy="62.8" r="1.8"/><circle cx="351.1" cy="77.3" r="1.8"/><circle cx="333.4" cy="53.8" r="1.8"/><circle cx="343.7" cy="73.5" r="1.8"/><circle cx="306.5" cy="38.4" r="1.8"/><circle cx="355.3" cy="77.8" r="1.8"/><circle cx="323.0" cy="55.5" r="1.8"/><circle cx="328.9" cy="62.0" r="1.8"/><circle cx="332.2" cy="67.9" r="1.8"/><circle cx="336.1" cy="64.1" r="1.8"/><circle cx="347.9" cy="69.0" r="1.8"/><circle cx="334.6" cy="54.9" r="1.8"/><circle cx="311.0" cy="34.2" r="1.8"/><circle cx="353.2" cy="81.5" r="1.8"/><circle cx="337.3" cy="59.1" r="1.8"/><circle cx="319.2" cy="49.1" r="1.8"/><circle cx="328.4" cy="67.1" r="1.8"/><circle cx="326.0" cy="52.3" r="1.8"/><circle cx="346.5" cy="76.3" r="1.8"/><circle cx="341.5" cy="65.3" r="1.8"/><circle cx="306.5" cy="43.2" r="1.8"/><circle cx="316.6" cy="55.6" r="1.8"/><circle cx="332.9" cy="72.2" r="1.8"/><circle cx="337.2" cy="65.8" r="1.8"/><circle cx="343.7" cy="67.7" r="1.8"/><circle cx="336.3" cy="66.6" r="1.8"/><circle cx="306.2" cy="44.1" r="1.8"/><circle cx="314.6" cy="45.9" r="1.8"/><circle cx="325.0" cy="64.9" r="1.8"/><circle cx="320.9" cy="41.9" r="1.8"/><circle cx="327.9" cy="51.3" r="1.8"/><circle cx="333.1" cy="69.8" r="1.8"/><circle cx="312.8" cy="41.2" r="1.8"/><circle cx="345.8" cy="74.8" r="1.8"/><circle cx="330.4" cy="53.0" r="1.8"/><circle cx="354.3" cy="81.6" r="1.8"/><circle cx="316.3" cy="40.4" r="1.8"/><circle cx="309.1" cy="40.2" r="1.8"/><circle cx="332.1" cy="56.0" r="1.8"/><circle cx="344.8" cy="71.1" r="1.8"/><circle cx="357.6" cy="82.7" r="1.8"/><circle cx="322.9" cy="54.6" r="1.8"/><circle cx="286.0" cy="16.4" r="1.8"/><circle cx="283.7" cy="18.7" r="1.8"/><circle cx="289.7" cy="20.9" r="1.8"/><circle cx="287.4" cy="22.4" r="1.8"/><circle cx="294.1" cy="22.0" r="1.8"/><circle cx="297.0" cy="22.4" r="1.8"/><circle cx="301.5" cy="24.6" r="1.8"/><circle cx="301.9" cy="26.0" r="1.8"/><circle cx="283.7" cy="23.8" r="1.8"/><circle cx="285.2" cy="26.8" r="1.8"/><circle cx="291.9" cy="26.8" r="1.8"/><circle cx="293.4" cy="29.0" r="1.8"/><circle cx="297.8" cy="27.5" r="1.8"/><circle cx="300.0" cy="30.5" r="1.8"/><circle cx="305.2" cy="29.0" r="1.8"/><circle cx="306.7" cy="30.5" r="1.8"/><circle cx="309.6" cy="33.4" r="1.8"/><circle cx="317.0" cy="38.6" r="1.8"/><circle cx="320.0" cy="40.8" r="1.8"/><circle cx="291.9" cy="32.7" r="1.8"/><circle cx="296.3" cy="33.4" r="1.8"/><circle cx="305.2" cy="34.2" r="1.8"/><circle cx="290.4" cy="37.1" r="1.8"/><circle cx="297.8" cy="36.4" r="1.8"/><circle cx="301.5" cy="37.1" r="1.8"/><circle cx="311.1" cy="39.4" r="1.8"/><circle cx="314.1" cy="40.8" r="1.8"/><circle cx="292.6" cy="40.1" r="1.8"/><circle cx="297.8" cy="40.1" r="1.8"/><circle cx="284.5" cy="40.8" r="1.8"/><circle cx="287.4" cy="41.6" r="1.8"/><circle cx="303.0" cy="31.2" r="1.8"/><circle cx="307.4" cy="32.0" r="1.8"/><circle cx="282.3" cy="13.4" r="1.8"/><circle cx="283.2" cy="15.6" r="1.8"/><circle cx="285.9" cy="17.5" r="1.8"/><circle cx="282.3" cy="18.8" r="1.8"/><circle cx="282.7" cy="23.4" r="1.8"/><circle cx="281.4" cy="41.1" r="1.8"/><circle cx="286.8" cy="42.9" r="1.8"/><circle cx="283.6" cy="43.8" r="1.8"/><circle cx="285.5" cy="46.1" r="1.8"/><circle cx="293.2" cy="44.7" r="1.8"/><circle cx="293.6" cy="47.0" r="1.8"/><circle cx="299.5" cy="45.6" r="1.8"/><circle cx="301.8" cy="47.5" r="1.8"/><circle cx="306.4" cy="45.6" r="1.8"/><circle cx="301.8" cy="52.7" r="1.8"/><circle cx="304.5" cy="55.5" r="1.8"/><circle cx="300.5" cy="57.7" r="1.8"/><circle cx="303.2" cy="64.5" r="1.8"/><circle cx="310.9" cy="66.4" r="1.8"/><circle cx="314.5" cy="66.4" r="1.8"/><circle cx="315.0" cy="70.0" r="1.8"/><circle cx="301.4" cy="70.0" r="1.8"/><circle cx="320.5" cy="72.3" r="1.8"/><circle cx="323.2" cy="69.5" r="1.8"/><circle cx="329.1" cy="72.3" r="1.8"/><circle cx="330.5" cy="89.5" r="1.8"/><circle cx="508.1" cy="132.2" r="1.8"/><circle cx="511.5" cy="128.0" r="1.8"/><circle cx="514.7" cy="124.6" r="1.8"/><circle cx="507.8" cy="122.1" r="1.8"/><circle cx="485.6" cy="139.5" r="1.8"/><circle cx="484.5" cy="139.9" r="1.8"/><circle cx="478.6" cy="143.3" r="1.8"/><circle cx="470.9" cy="143.1" r="1.8"/><circle cx="469.3" cy="141.2" r="1.8"/><circle cx="470.2" cy="133.8" r="1.8"/><circle cx="489.6" cy="128.2" r="1.8"/><circle cx="485.6" cy="123.6" r="1.8"/><circle cx="479.5" cy="122.7" r="1.8"/><circle cx="477.5" cy="123.3" r="1.8"/><circle cx="462.7" cy="167.9" r="1.8"/><circle cx="462.1" cy="166.0" r="1.8"/><circle cx="457.6" cy="166.6" r="1.8"/><circle cx="455.1" cy="168.5" r="1.8"/><circle cx="451.3" cy="168.5" r="1.8"/><circle cx="450.6" cy="166.0" r="1.8"/><circle cx="447.5" cy="165.3" r="1.8"/><circle cx="464.0" cy="162.2" r="1.8"/><circle cx="456.4" cy="161.5" r="1.8"/><circle cx="450.6" cy="162.5" r="1.8"/><circle cx="461.5" cy="158.3" r="1.8"/><circle cx="462.1" cy="156.4" r="1.8"/><circle cx="457.0" cy="156.4" r="1.8"/><circle cx="450.6" cy="158.3" r="1.8"/><circle cx="448.1" cy="155.2" r="1.8"/><circle cx="444.3" cy="160.9" r="1.8"/><circle cx="466.5" cy="143.7" r="1.8"/><circle cx="464.0" cy="136.1" r="1.8"/><circle cx="454.5" cy="141.2" r="1.8"/><circle cx="455.7" cy="138.0" r="1.8"/><circle cx="448.7" cy="140.5" r="1.8"/><circle cx="447.5" cy="137.3" r="1.8"/><circle cx="457.6" cy="134.8" r="1.8"/><circle cx="458.9" cy="132.2" r="1.8"/><circle cx="460.2" cy="129.7" r="1.8"/><circle cx="455.1" cy="129.7" r="1.8"/><circle cx="448.1" cy="133.5" r="1.8"/><circle cx="446.8" cy="131.0" r="1.8"/><circle cx="439.8" cy="134.8" r="1.8"/><circle cx="447.5" cy="125.9" r="1.8"/><circle cx="444.9" cy="125.2" r="1.8"/><circle cx="465.3" cy="124.6" r="1.8"/><circle cx="434.7" cy="128.4" r="1.8"/><circle cx="433.5" cy="123.3" r="1.8"/><circle cx="429.6" cy="127.2" r="1.8"/><circle cx="421.7" cy="116.1" r="1.8"/><circle cx="417.9" cy="111.0" r="1.8"/><circle cx="412.8" cy="109.7" r="1.8"/><circle cx="410.3" cy="112.2" r="1.8"/><circle cx="398.2" cy="105.9" r="1.8"/><circle cx="404.7" cy="109.6" r="1.8"/><circle cx="411.7" cy="91.8" r="1.8"/><circle cx="402.2" cy="91.8" r="1.8"/><circle cx="371.0" cy="95.0" r="1.8"/><circle cx="366.6" cy="91.0" r="1.8"/><circle cx="501.1" cy="120.0" r="1.8"/><circle cx="519.5" cy="117.7" r="1.8"/><circle cx="520.2" cy="116.2" r="1.8"/><circle cx="506.2" cy="115.8" r="1.8"/><circle cx="500.5" cy="115.8" r="1.8"/><circle cx="489.0" cy="119.0" r="1.8"/><circle cx="487.1" cy="118.3" r="1.8"/><circle cx="483.3" cy="117.1" r="1.8"/><circle cx="478.2" cy="117.1" r="1.8"/><circle cx="469.3" cy="116.4" r="1.8"/><circle cx="515.1" cy="112.6" r="1.8"/><circle cx="509.4" cy="113.2" r="1.8"/><circle cx="504.3" cy="111.3" r="1.8"/><circle cx="499.8" cy="112.0" r="1.8"/><circle cx="494.7" cy="113.9" r="1.8"/><circle cx="492.2" cy="115.8" r="1.8"/><circle cx="479.5" cy="113.2" r="1.8"/><circle cx="473.1" cy="111.3" r="1.8"/><circle cx="518.9" cy="108.2" r="1.8"/><circle cx="512.5" cy="108.8" r="1.8"/><circle cx="507.5" cy="108.2" r="1.8"/><circle cx="502.4" cy="109.4" r="1.8"/><circle cx="496.0" cy="109.4" r="1.8"/><circle cx="492.2" cy="110.1" r="1.8"/><circle cx="489.6" cy="108.2" r="1.8"/><circle cx="484.5" cy="108.8" r="1.8"/><circle cx="478.2" cy="109.4" r="1.8"/><circle cx="475.6" cy="107.5" r="1.8"/><circle cx="469.3" cy="108.8" r="1.8"/><circle cx="456.4" cy="130.4" r="1.8"/><circle cx="453.8" cy="129.8" r="1.8"/><circle cx="447.5" cy="131.7" r="1.8"/><circle cx="465.9" cy="122.2" r="1.8"/><circle cx="448.7" cy="126.0" r="1.8"/><circle cx="430.9" cy="129.8" r="1.8"/><circle cx="428.4" cy="126.6" r="1.8"/><circle cx="427.1" cy="124.1" r="1.8"/><circle cx="425.2" cy="122.2" r="1.8"/><circle cx="435.4" cy="122.8" r="1.8"/><circle cx="468.5" cy="115.8" r="1.8"/><circle cx="460.8" cy="117.1" r="1.8"/><circle cx="446.2" cy="116.4" r="1.8"/><circle cx="430.3" cy="117.1" r="1.8"/><circle cx="423.3" cy="115.8" r="1.8"/><circle cx="436.0" cy="113.2" r="1.8"/><circle cx="431.5" cy="111.3" r="1.8"/><circle cx="419.5" cy="112.6" r="1.8"/><circle cx="477.4" cy="117.7" r="1.8"/><circle cx="465.3" cy="113.9" r="1.8"/><circle cx="476.7" cy="109.4" r="1.8"/><circle cx="472.3" cy="110.7" r="1.8"/><circle cx="464.0" cy="109.4" r="1.8"/><circle cx="460.2" cy="110.7" r="1.8"/><circle cx="457.6" cy="109.4" r="1.8"/><circle cx="455.1" cy="108.2" r="1.8"/><circle cx="452.5" cy="109.4" r="1.8"/><circle cx="449.4" cy="112.0" r="1.8"/><circle cx="451.3" cy="106.2" r="1.8"/><circle cx="453.8" cy="106.9" r="1.8"/><circle cx="443.6" cy="106.2" r="1.8"/><circle cx="440.5" cy="106.9" r="1.8"/><circle cx="438.5" cy="106.2" r="1.8"/><circle cx="441.1" cy="102.4" r="1.8"/><circle cx="440.5" cy="101.2" r="1.8"/><circle cx="476.7" cy="106.2" r="1.8"/><circle cx="475.5" cy="103.7" r="1.8"/><circle cx="471.0" cy="105.0" r="1.8"/><circle cx="469.1" cy="102.4" r="1.8"/><circle cx="466.5" cy="100.5" r="1.8"/><circle cx="462.7" cy="102.4" r="1.8"/><circle cx="476.7" cy="100.5" r="1.8"/><circle cx="476.1" cy="98.6" r="1.8"/><circle cx="464.0" cy="97.3" r="1.8"/><circle cx="462.7" cy="94.8" r="1.8"/><circle cx="451.9" cy="97.3" r="1.8"/><circle cx="477.4" cy="93.5" r="1.8"/><circle cx="467.8" cy="91.6" r="1.8"/><circle cx="452.5" cy="92.2" r="1.8"/><circle cx="443.6" cy="93.8" r="1.8"/><circle cx="437.9" cy="92.9" r="1.8"/><circle cx="436.0" cy="91.0" r="1.8"/><circle cx="434.1" cy="91.6" r="1.8"/><circle cx="438.5" cy="91.3" r="1.8"/><circle cx="451.5" cy="96.4" r="1.8"/><circle cx="520.2" cy="102.4" r="1.8"/><circle cx="516.4" cy="105.0" r="1.8"/><circle cx="512.5" cy="103.7" r="1.8"/><circle cx="508.7" cy="101.8" r="1.8"/><circle cx="504.9" cy="104.3" r="1.8"/><circle cx="501.1" cy="102.4" r="1.8"/><circle cx="497.3" cy="105.0" r="1.8"/><circle cx="494.7" cy="101.2" r="1.8"/><circle cx="490.9" cy="104.3" r="1.8"/><circle cx="488.4" cy="106.2" r="1.8"/><circle cx="484.5" cy="104.3" r="1.8"/><circle cx="480.7" cy="102.4" r="1.8"/><circle cx="476.9" cy="103.7" r="1.8"/><circle cx="473.1" cy="104.3" r="1.8"/><circle cx="518.9" cy="98.6" r="1.8"/><circle cx="513.8" cy="98.0" r="1.8"/><circle cx="510.0" cy="98.6" r="1.8"/><circle cx="504.9" cy="99.2" r="1.8"/><circle cx="499.8" cy="97.3" r="1.8"/><circle cx="496.0" cy="98.6" r="1.8"/><circle cx="492.2" cy="97.3" r="1.8"/><circle cx="485.8" cy="99.2" r="1.8"/><circle cx="478.2" cy="99.9" r="1.8"/><circle cx="470.5" cy="99.9" r="1.8"/><circle cx="520.2" cy="94.8" r="1.8"/><circle cx="515.1" cy="96.1" r="1.8"/><circle cx="508.7" cy="94.8" r="1.8"/><circle cx="504.9" cy="93.5" r="1.8"/><circle cx="499.8" cy="94.8" r="1.8"/><circle cx="494.7" cy="94.8" r="1.8"/><circle cx="490.9" cy="95.4" r="1.8"/><circle cx="520.2" cy="91.2" r="1.8"/><circle cx="518.3" cy="91.0" r="1.8"/><circle cx="512.5" cy="91.6" r="1.8"/><circle cx="511.3" cy="92.9" r="1.8"/><circle cx="501.1" cy="91.0" r="1.8"/><circle cx="496.0" cy="91.6" r="1.8"/><circle cx="494.1" cy="91.2" r="1.8"/><circle cx="484.5" cy="91.2" r="1.8"/><circle cx="425.8" cy="90.4" r="1.8"/><circle cx="424.2" cy="90.4" r="1.8"/><circle cx="422.6" cy="90.4" r="1.8"/><circle cx="421.0" cy="90.4" r="1.8"/><circle cx="419.4" cy="90.4" r="1.8"/><circle cx="417.8" cy="90.4" r="1.8"/><circle cx="416.2" cy="90.4" r="1.8"/><circle cx="532.4" cy="103.1" r="1.8"/><circle cx="519.6" cy="97.4" r="1.8"/><circle cx="528.7" cy="102.9" r="1.8"/><circle cx="524.0" cy="105.2" r="1.8"/><circle cx="522.4" cy="93.1" r="1.8"/><circle cx="531.9" cy="93.0" r="1.8"/><circle cx="522.5" cy="106.7" r="1.8"/><circle cx="527.6" cy="94.0" r="1.8"/><circle cx="521.8" cy="103.0" r="1.8"/><circle cx="521.0" cy="104.7" r="1.8"/><circle cx="535.7" cy="105.6" r="1.8"/><circle cx="529.8" cy="100.8" r="1.8"/><circle cx="531.5" cy="95.1" r="1.8"/><circle cx="533.2" cy="106.1" r="1.8"/><circle cx="535.4" cy="98.6" r="1.8"/><circle cx="516.5" cy="96.6" r="1.8"/><circle cx="518.1" cy="93.3" r="1.8"/><circle cx="525.2" cy="93.2" r="1.8"/><circle cx="526.4" cy="103.8" r="1.8"/><circle cx="527.3" cy="97.6" r="1.8"/><circle cx="530.1" cy="93.7" r="1.8"/><circle cx="531.7" cy="102.5" r="1.8"/><circle cx="537.4" cy="98.1" r="1.8"/><circle cx="531.1" cy="107.1" r="1.8"/><circle cx="534.1" cy="104.7" r="1.8"/><circle cx="526.8" cy="100.6" r="1.8"/><circle cx="531.2" cy="104.0" r="1.8"/><circle cx="526.6" cy="104.8" r="1.8"/><circle cx="518.6" cy="105.3" r="1.8"/><circle cx="520.6" cy="98.4" r="1.8"/><circle cx="532.8" cy="96.0" r="1.8"/><circle cx="523.6" cy="99.6" r="1.8"/><circle cx="531.9" cy="97.2" r="1.8"/><circle cx="535.7" cy="94.2" r="1.8"/><circle cx="527.9" cy="98.3" r="1.8"/><circle cx="530.5" cy="105.3" r="1.8"/><circle cx="537.3" cy="104.8" r="1.8"/><circle cx="527.6" cy="102.1" r="1.8"/><circle cx="536.2" cy="101.7" r="1.8"/><circle cx="519.9" cy="104.9" r="1.8"/><circle cx="525.1" cy="102.3" r="1.8"/><circle cx="526.1" cy="102.9" r="1.8"/><circle cx="535.6" cy="100.5" r="1.8"/><circle cx="536.9" cy="93.5" r="1.8"/><circle cx="534.8" cy="96.2" r="1.8"/><circle cx="517.3" cy="105.5" r="1.8"/><circle cx="530.0" cy="102.1" r="1.8"/><circle cx="537.3" cy="101.4" r="1.8"/><circle cx="519.9" cy="92.8" r="1.8"/><circle cx="515.5" cy="94.3" r="1.8"/><circle cx="536.5" cy="103.6" r="1.8"/><circle cx="529.8" cy="107.3" r="1.8"/><circle cx="535.4" cy="92.3" r="1.8"/><circle cx="525.5" cy="101.4" r="1.8"/><circle cx="515.3" cy="96.9" r="1.8"/><circle cx="521.2" cy="96.5" r="1.8"/><circle cx="525.9" cy="105.4" r="1.8"/><circle cx="515.5" cy="100.1" r="1.8"/><circle cx="534.9" cy="103.1" r="1.8"/><circle cx="537.0" cy="99.6" r="1.8"/><circle cx="533.8" cy="94.2" r="1.8"/><circle cx="534.3" cy="101.4" r="1.8"/><circle cx="523.6" cy="107.5" r="1.8"/><circle cx="532.6" cy="104.9" r="1.8"/><circle cx="532.7" cy="107.7" r="1.8"/><circle cx="523.1" cy="97.7" r="1.8"/><circle cx="527.7" cy="105.5" r="1.8"/><circle cx="510.1" cy="96.4" r="1.8"/><circle cx="499.8" cy="100.5" r="1.8"/><circle cx="506.2" cy="104.5" r="1.8"/><circle cx="501.7" cy="100.2" r="1.8"/><circle cx="497.2" cy="96.2" r="1.8"/><circle cx="504.1" cy="101.6" r="1.8"/><circle cx="497.0" cy="104.0" r="1.8"/><circle cx="501.8" cy="95.7" r="1.8"/><circle cx="510.1" cy="102.5" r="1.8"/><circle cx="493.8" cy="98.6" r="1.8"/><circle cx="494.1" cy="96.6" r="1.8"/><circle cx="500.2" cy="103.6" r="1.8"/><circle cx="507.7" cy="98.1" r="1.8"/><circle cx="505.4" cy="100.6" r="1.8"/><circle cx="513.4" cy="98.8" r="1.8"/><circle cx="497.9" cy="100.1" r="1.8"/><circle cx="504.5" cy="97.2" r="1.8"/><circle cx="512.9" cy="99.7" r="1.8"/><circle cx="498.5" cy="101.7" r="1.8"/><circle cx="495.7" cy="100.7" r="1.8"/><circle cx="512.5" cy="95.0" r="1.8"/><circle cx="513.3" cy="96.8" r="1.8"/><circle cx="507.1" cy="121.0" r="1.8"/><circle cx="486.2" cy="119.6" r="1.8"/><circle cx="488.0" cy="117.3" r="1.8"/><circle cx="468.9" cy="117.3" r="1.8"/><circle cx="503.5" cy="111.9" r="1.8"/><circle cx="498.9" cy="112.8" r="1.8"/><circle cx="493.5" cy="114.6" r="1.8"/><circle cx="483.5" cy="111.9" r="1.8"/><circle cx="480.7" cy="113.7" r="1.8"/><circle cx="466.2" cy="113.7" r="1.8"/><circle cx="507.1" cy="110.1" r="1.8"/><circle cx="497.1" cy="109.2" r="1.8"/><circle cx="485.3" cy="108.2" r="1.8"/><circle cx="481.6" cy="109.6" r="1.8"/><circle cx="475.3" cy="110.1" r="1.8"/><circle cx="467.1" cy="110.1" r="1.8"/><circle cx="458.9" cy="110.1" r="1.8"/><circle cx="505.3" cy="105.5" r="1.8"/><circle cx="500.7" cy="106.4" r="1.8"/><circle cx="496.2" cy="105.5" r="1.8"/><circle cx="491.6" cy="106.9" r="1.8"/><circle cx="483.5" cy="105.5" r="1.8"/><circle cx="479.8" cy="106.4" r="1.8"/><circle cx="476.2" cy="104.6" r="1.8"/><circle cx="471.6" cy="106.4" r="1.8"/><circle cx="468.0" cy="105.5" r="1.8"/><circle cx="465.3" cy="106.0" r="1.8"/><circle cx="507.1" cy="101.9" r="1.8"/><circle cx="499.8" cy="101.9" r="1.8"/><circle cx="496.2" cy="101.9" r="1.8"/><circle cx="493.5" cy="100.5" r="1.8"/><circle cx="478.9" cy="101.9" r="1.8"/><circle cx="470.7" cy="101.0" r="1.8"/><circle cx="466.2" cy="101.9" r="1.8"/><circle cx="504.4" cy="98.2" r="1.8"/><circle cx="499.8" cy="96.4" r="1.8"/><circle cx="495.3" cy="97.8" r="1.8"/><circle cx="491.6" cy="96.4" r="1.8"/><circle cx="465.3" cy="97.3" r="1.8"/><circle cx="477.1" cy="92.3" r="1.8"/><circle cx="427.5" cy="125.3" r="1.8"/><circle cx="426.2" cy="123.1" r="1.8"/><circle cx="419.4" cy="124.0" r="1.8"/><circle cx="415.7" cy="122.2" r="1.8"/><circle cx="416.6" cy="118.5" r="1.8"/><circle cx="420.3" cy="116.2" r="1.8"/><circle cx="417.5" cy="114.9" r="1.8"/><circle cx="462.1" cy="110.3" r="1.8"/><circle cx="458.9" cy="111.7" r="1.8"/><circle cx="455.7" cy="109.4" r="1.8"/><circle cx="456.6" cy="107.2" r="1.8"/><circle cx="451.2" cy="108.1" r="1.8"/><circle cx="440.7" cy="104.0" r="1.8"/><circle cx="514.8" cy="123.7" r="1.8"/><circle cx="512.1" cy="109.6" r="1.8"/><circle cx="518.9" cy="106.9" r="1.8"/><circle cx="535.7" cy="91.4" r="1.8"/><circle cx="531.2" cy="91.9" r="1.8"/><circle cx="526.6" cy="91.9" r="1.8"/><circle cx="434.6" cy="153.4" r="1.8"/><circle cx="425.3" cy="133.3" r="1.8"/><circle cx="409.7" cy="133.1" r="1.8"/><circle cx="441.0" cy="150.4" r="1.8"/><circle cx="418.5" cy="138.2" r="1.8"/><circle cx="427.8" cy="145.2" r="1.8"/><circle cx="425.4" cy="142.2" r="1.8"/><circle cx="405.9" cy="129.1" r="1.8"/><circle cx="417.1" cy="136.2" r="1.8"/><circle cx="416.2" cy="132.8" r="1.8"/><circle cx="403.5" cy="124.3" r="1.8"/><circle cx="411.6" cy="121.3" r="1.8"/><circle cx="427.1" cy="150.5" r="1.8"/><circle cx="411.8" cy="134.8" r="1.8"/><circle cx="411.0" cy="122.6" r="1.8"/><circle cx="391.5" cy="117.9" r="1.8"/><circle cx="414.0" cy="138.0" r="1.8"/><circle cx="374.4" cy="97.0" r="1.8"/><circle cx="423.6" cy="131.0" r="1.8"/><circle cx="411.4" cy="119.2" r="1.8"/><circle cx="436.1" cy="155.3" r="1.8"/><circle cx="415.0" cy="131.5" r="1.8"/><circle cx="410.9" cy="125.1" r="1.8"/><circle cx="441.5" cy="160.7" r="1.8"/><circle cx="418.9" cy="128.9" r="1.8"/><circle cx="416.2" cy="137.0" r="1.8"/><circle cx="390.2" cy="118.0" r="1.8"/><circle cx="401.3" cy="112.1" r="1.8"/><circle cx="419.6" cy="145.1" r="1.8"/><circle cx="426.0" cy="146.1" r="1.8"/><circle cx="433.0" cy="147.3" r="1.8"/><circle cx="376.1" cy="101.9" r="1.8"/><circle cx="401.3" cy="124.9" r="1.8"/><circle cx="403.0" cy="114.8" r="1.8"/><circle cx="420.8" cy="145.6" r="1.8"/><circle cx="384.0" cy="106.0" r="1.8"/><circle cx="412.3" cy="124.0" r="1.8"/><circle cx="379.1" cy="101.5" r="1.8"/><circle cx="424.7" cy="146.8" r="1.8"/><circle cx="399.9" cy="122.3" r="1.8"/><circle cx="413.6" cy="125.2" r="1.8"/><circle cx="444.0" cy="157.4" r="1.8"/><circle cx="438.5" cy="148.6" r="1.8"/><circle cx="421.3" cy="131.1" r="1.8"/><circle cx="428.8" cy="134.8" r="1.8"/><circle cx="397.0" cy="122.4" r="1.8"/><circle cx="398.8" cy="112.4" r="1.8"/><circle cx="427.0" cy="139.8" r="1.8"/><circle cx="439.7" cy="144.3" r="1.8"/><circle cx="423.9" cy="136.3" r="1.8"/><circle cx="378.8" cy="106.9" r="1.8"/><circle cx="433.7" cy="148.6" r="1.8"/><circle cx="412.4" cy="131.1" r="1.8"/><circle cx="410.2" cy="131.5" r="1.8"/><circle cx="420.8" cy="141.4" r="1.8"/><circle cx="374.5" cy="102.0" r="1.8"/><circle cx="438.5" cy="157.3" r="1.8"/><circle cx="426.7" cy="144.5" r="1.8"/><circle cx="372.6" cy="97.6" r="1.8"/><circle cx="403.4" cy="118.6" r="1.8"/><circle cx="436.2" cy="143.7" r="1.8"/><circle cx="425.7" cy="145.2" r="1.8"/><circle cx="404.2" cy="122.0" r="1.8"/><circle cx="386.5" cy="111.7" r="1.8"/><circle cx="413.3" cy="123.2" r="1.8"/><circle cx="408.3" cy="118.6" r="1.8"/><circle cx="434.1" cy="152.6" r="1.8"/><circle cx="392.5" cy="117.7" r="1.8"/><circle cx="435.4" cy="150.7" r="1.8"/><circle cx="408.5" cy="123.2" r="1.8"/><circle cx="419.3" cy="130.3" r="1.8"/><circle cx="415.8" cy="125.3" r="1.8"/><circle cx="402.6" cy="119.6" r="1.8"/><circle cx="401.0" cy="128.4" r="1.8"/><circle cx="423.6" cy="145.1" r="1.8"/><circle cx="428.1" cy="139.5" r="1.8"/><circle cx="425.8" cy="138.0" r="1.8"/><circle cx="418.6" cy="127.6" r="1.8"/><circle cx="431.9" cy="141.6" r="1.8"/><circle cx="429.9" cy="154.2" r="1.8"/><circle cx="402.4" cy="110.1" r="1.8"/><circle cx="399.8" cy="119.6" r="1.8"/><circle cx="408.9" cy="121.5" r="1.8"/><circle cx="392.5" cy="119.8" r="1.8"/><circle cx="413.3" cy="121.2" r="1.8"/><circle cx="419.8" cy="143.1" r="1.8"/><circle cx="425.3" cy="135.7" r="1.8"/><circle cx="430.2" cy="143.0" r="1.8"/><circle cx="437.2" cy="153.9" r="1.8"/><circle cx="423.7" cy="138.9" r="1.8"/><circle cx="416.9" cy="128.9" r="1.8"/><circle cx="407.4" cy="134.6" r="1.8"/><circle cx="388.4" cy="107.0" r="1.8"/><circle cx="421.3" cy="135.8" r="1.8"/><circle cx="412.5" cy="125.0" r="1.8"/><circle cx="440.3" cy="146.1" r="1.8"/><circle cx="430.0" cy="148.2" r="1.8"/><circle cx="414.5" cy="124.0" r="1.8"/><circle cx="428.5" cy="146.9" r="1.8"/><circle cx="405.0" cy="125.3" r="1.8"/><circle cx="425.0" cy="144.5" r="1.8"/><circle cx="409.5" cy="122.4" r="1.8"/><circle cx="381.8" cy="103.4" r="1.8"/><circle cx="430.1" cy="145.2" r="1.8"/><circle cx="434.1" cy="151.2" r="1.8"/><circle cx="403.3" cy="110.3" r="1.8"/><circle cx="380.7" cy="100.9" r="1.8"/><circle cx="412.2" cy="126.1" r="1.8"/><circle cx="422.6" cy="146.5" r="1.8"/><circle cx="440.0" cy="147.5" r="1.8"/><circle cx="405.1" cy="120.1" r="1.8"/><circle cx="406.0" cy="115.0" r="1.8"/><circle cx="381.3" cy="108.3" r="1.8"/><circle cx="438.8" cy="151.6" r="1.8"/><circle cx="420.4" cy="130.7" r="1.8"/><circle cx="429.0" cy="152.6" r="1.8"/><circle cx="385.4" cy="110.6" r="1.8"/><circle cx="376.1" cy="103.2" r="1.8"/><circle cx="414.6" cy="132.3" r="1.8"/><circle cx="423.1" cy="144.1" r="1.8"/><circle cx="394.6" cy="114.8" r="1.8"/><circle cx="391.1" cy="109.4" r="1.8"/><circle cx="397.5" cy="107.3" r="1.8"/><circle cx="410.6" cy="119.9" r="1.8"/><circle cx="396.2" cy="109.5" r="1.8"/><circle cx="397.1" cy="112.5" r="1.8"/><circle cx="390.3" cy="113.8" r="1.8"/><circle cx="410.6" cy="128.4" r="1.8"/><circle cx="416.3" cy="128.0" r="1.8"/><circle cx="401.6" cy="113.0" r="1.8"/><circle cx="408.8" cy="135.8" r="1.8"/><circle cx="406.4" cy="130.3" r="1.8"/><circle cx="399.2" cy="125.2" r="1.8"/><circle cx="412.8" cy="134.9" r="1.8"/><circle cx="399.8" cy="120.7" r="1.8"/><circle cx="375.4" cy="100.5" r="1.8"/><circle cx="395.0" cy="120.1" r="1.8"/><circle cx="395.0" cy="118.4" r="1.8"/><circle cx="377.2" cy="100.6" r="1.8"/><circle cx="404.9" cy="118.6" r="1.8"/><circle cx="419.5" cy="136.2" r="1.8"/><circle cx="397.1" cy="125.4" r="1.8"/><circle cx="405.7" cy="126.4" r="1.8"/><circle cx="409.5" cy="123.3" r="1.8"/><circle cx="407.0" cy="118.8" r="1.8"/><circle cx="422.7" cy="141.4" r="1.8"/><circle cx="385.8" cy="106.6" r="1.8"/><circle cx="420.0" cy="139.2" r="1.8"/><circle cx="413.3" cy="138.9" r="1.8"/><circle cx="408.7" cy="131.8" r="1.8"/><circle cx="422.9" cy="131.8" r="1.8"/><circle cx="406.1" cy="122.6" r="1.8"/><circle cx="401.9" cy="123.2" r="1.8"/><circle cx="409.9" cy="134.4" r="1.8"/><circle cx="414.1" cy="127.6" r="1.8"/><circle cx="420.9" cy="127.4" r="1.8"/><circle cx="392.4" cy="112.0" r="1.8"/><circle cx="388.0" cy="113.7" r="1.8"/><circle cx="414.8" cy="141.5" r="1.8"/><circle cx="387.2" cy="109.8" r="1.8"/><circle cx="400.8" cy="123.1" r="1.8"/><circle cx="417.3" cy="142.7" r="1.8"/><circle cx="410.5" cy="137.1" r="1.8"/><circle cx="424.8" cy="131.4" r="1.8"/><circle cx="407.0" cy="131.6" r="1.8"/><circle cx="378.2" cy="104.7" r="1.8"/><circle cx="404.2" cy="130.9" r="1.8"/><circle cx="403.2" cy="127.2" r="1.8"/><circle cx="385.1" cy="111.5" r="1.8"/><circle cx="429.5" cy="140.4" r="1.8"/><circle cx="422.9" cy="136.9" r="1.8"/><circle cx="390.3" cy="116.1" r="1.8"/><circle cx="415.3" cy="140.1" r="1.8"/><circle cx="418.0" cy="128.4" r="1.8"/><circle cx="385.5" cy="107.6" r="1.8"/><circle cx="420.8" cy="133.9" r="1.8"/><circle cx="389.5" cy="109.6" r="1.8"/><circle cx="401.5" cy="119.3" r="1.8"/><circle cx="415.5" cy="129.8" r="1.8"/><circle cx="406.4" cy="123.7" r="1.8"/><circle cx="418.9" cy="142.6" r="1.8"/><circle cx="403.2" cy="121.0" r="1.8"/><circle cx="404.7" cy="127.6" r="1.8"/><circle cx="421.2" cy="143.0" r="1.8"/><circle cx="391.7" cy="112.6" r="1.8"/><circle cx="414.5" cy="125.6" r="1.8"/><circle cx="386.6" cy="107.7" r="1.8"/><circle cx="407.6" cy="133.1" r="1.8"/><circle cx="396.0" cy="108.0" r="1.8"/><circle cx="382.5" cy="106.6" r="1.8"/><circle cx="400.4" cy="127.2" r="1.8"/><circle cx="409.1" cy="136.8" r="1.8"/><circle cx="423.1" cy="143.1" r="1.8"/><circle cx="427.7" cy="135.3" r="1.8"/><circle cx="410.3" cy="129.3" r="1.8"/><circle cx="409.6" cy="119.9" r="1.8"/><circle cx="428.3" cy="143.2" r="1.8"/><circle cx="390.6" cy="112.1" r="1.8"/><circle cx="410.0" cy="138.1" r="1.8"/><circle cx="394.3" cy="122.2" r="1.8"/><circle cx="417.2" cy="140.5" r="1.8"/><circle cx="412.2" cy="129.4" r="1.8"/><circle cx="427.6" cy="144.1" r="1.8"/><circle cx="414.1" cy="134.2" r="1.8"/><circle cx="388.3" cy="108.3" r="1.8"/><circle cx="379.7" cy="103.0" r="1.8"/><circle cx="392.1" cy="113.5" r="1.8"/><circle cx="414.5" cy="135.8" r="1.8"/><circle cx="408.2" cy="128.9" r="1.8"/><circle cx="394.3" cy="121.2" r="1.8"/><circle cx="402.5" cy="113.6" r="1.8"/><circle cx="426.7" cy="132.5" r="1.8"/><circle cx="399.2" cy="115.6" r="1.8"/><circle cx="388.5" cy="112.2" r="1.8"/><circle cx="423.6" cy="129.8" r="1.8"/><circle cx="394.2" cy="111.9" r="1.8"/><circle cx="418.9" cy="125.5" r="1.8"/><circle cx="380.7" cy="105.1" r="1.8"/><circle cx="417.4" cy="134.8" r="1.8"/><circle cx="406.4" cy="132.3" r="1.8"/><circle cx="422.7" cy="129.9" r="1.8"/><circle cx="425.8" cy="140.4" r="1.8"/><circle cx="376.2" cy="98.4" r="1.8"/><circle cx="407.7" cy="125.5" r="1.8"/><circle cx="398.3" cy="120.8" r="1.8"/><circle cx="415.7" cy="141.9" r="1.8"/><circle cx="384.8" cy="105.2" r="1.8"/><circle cx="405.7" cy="116.8" r="1.8"/><circle cx="398.0" cy="113.2" r="1.8"/><circle cx="398.7" cy="117.2" r="1.8"/><circle cx="416.4" cy="131.5" r="1.8"/><circle cx="418.1" cy="133.5" r="1.8"/><circle cx="384.3" cy="110.2" r="1.8"/><circle cx="424.0" cy="133.0" r="1.8"/><circle cx="419.1" cy="134.7" r="1.8"/><circle cx="422.3" cy="137.6" r="1.8"/><circle cx="404.3" cy="129.8" r="1.8"/><circle cx="427.1" cy="134.1" r="1.8"/><circle cx="402.0" cy="116.2" r="1.8"/><circle cx="406.7" cy="126.8" r="1.8"/><circle cx="410.9" cy="126.6" r="1.8"/><circle cx="393.0" cy="110.7" r="1.8"/><circle cx="400.9" cy="121.3" r="1.8"/><circle cx="400.1" cy="112.9" r="1.8"/><circle cx="408.9" cy="126.4" r="1.8"/><circle cx="410.6" cy="121.4" r="1.8"/><circle cx="413.1" cy="129.7" r="1.8"/><circle cx="401.4" cy="115.2" r="1.8"/><circle cx="393.4" cy="118.1" r="1.8"/><circle cx="397.5" cy="115.9" r="1.8"/><circle cx="411.5" cy="127.6" r="1.8"/><circle cx="417.9" cy="143.6" r="1.8"/><circle cx="426.1" cy="134.3" r="1.8"/><circle cx="383.4" cy="110.0" r="1.8"/><circle cx="422.3" cy="133.7" r="1.8"/><circle cx="404.9" cy="112.7" r="1.8"/><circle cx="408.9" cy="133.9" r="1.8"/><circle cx="387.3" cy="112.3" r="1.8"/><circle cx="406.4" cy="120.6" r="1.8"/><circle cx="397.3" cy="110.6" r="1.8"/><circle cx="405.3" cy="121.7" r="1.8"/><circle cx="420.6" cy="146.8" r="1.8"/><circle cx="408.9" cy="127.7" r="1.8"/><circle cx="418.1" cy="124.2" r="1.8"/><circle cx="398.1" cy="118.0" r="1.8"/><circle cx="428.4" cy="136.9" r="1.8"/><circle cx="408.0" cy="130.2" r="1.8"/><circle cx="396.6" cy="107.0" r="1.8"/><circle cx="409.2" cy="130.9" r="1.8"/><circle cx="404.2" cy="110.8" r="1.8"/><circle cx="405.7" cy="133.9" r="1.8"/><circle cx="398.3" cy="124.6" r="1.8"/><circle cx="405.6" cy="131.6" r="1.8"/><circle cx="400.7" cy="118.8" r="1.8"/><circle cx="388.3" cy="117.5" r="1.8"/><circle cx="404.9" cy="117.4" r="1.8"/><circle cx="403.8" cy="117.6" r="1.8"/><circle cx="400.5" cy="116.3" r="1.8"/><circle cx="386.1" cy="112.6" r="1.8"/><circle cx="427.1" cy="141.5" r="1.8"/><circle cx="420.9" cy="138.1" r="1.8"/><circle cx="389.2" cy="115.9" r="1.8"/><circle cx="423.9" cy="132.0" r="1.8"/><circle cx="380.3" cy="108.0" r="1.8"/><circle cx="395.1" cy="111.7" r="1.8"/><circle cx="397.0" cy="111.5" r="1.8"/><circle cx="393.5" cy="120.5" r="1.8"/><circle cx="406.8" cy="114.3" r="1.8"/><circle cx="384.8" cy="113.8" r="1.8"/><circle cx="397.4" cy="120.0" r="1.8"/><circle cx="396.6" cy="118.9" r="1.8"/><circle cx="381.9" cy="104.4" r="1.8"/><circle cx="399.6" cy="127.9" r="1.8"/><circle cx="389.3" cy="108.2" r="1.8"/><circle cx="426.5" cy="143.3" r="1.8"/><circle cx="377.7" cy="103.9" r="1.8"/><circle cx="410.0" cy="126.2" r="1.8"/><circle cx="404.1" cy="119.7" r="1.8"/><circle cx="400.8" cy="113.8" r="1.8"/><circle cx="396.9" cy="117.6" r="1.8"/><circle cx="385.1" cy="112.7" r="1.8"/><circle cx="398.4" cy="126.8" r="1.8"/><circle cx="422.0" cy="147.5" r="1.8"/><circle cx="379.8" cy="100.2" r="1.8"/><circle cx="395.7" cy="122.6" r="1.8"/><circle cx="413.8" cy="132.6" r="1.8"/><circle cx="404.6" cy="114.6" r="1.8"/><circle cx="407.0" cy="129.4" r="1.8"/><circle cx="386.5" cy="105.4" r="1.8"/><circle cx="391.5" cy="116.4" r="1.8"/><circle cx="426.5" cy="138.5" r="1.8"/><circle cx="416.4" cy="126.1" r="1.8"/><circle cx="400.1" cy="109.5" r="1.8"/><circle cx="395.8" cy="115.9" r="1.8"/><circle cx="389.3" cy="114.0" r="1.8"/><circle cx="396.7" cy="115.1" r="1.8"/><circle cx="426.8" cy="137.6" r="1.8"/><circle cx="418.4" cy="135.8" r="1.8"/><circle cx="408.0" cy="116.8" r="1.8"/><circle cx="412.1" cy="139.8" r="1.8"/><circle cx="405.1" cy="130.4" r="1.8"/><circle cx="399.9" cy="111.9" r="1.8"/><circle cx="420.2" cy="140.5" r="1.8"/><circle cx="387.2" cy="106.9" r="1.8"/><circle cx="402.6" cy="128.7" r="1.8"/><circle cx="378.7" cy="100.1" r="1.8"/><circle cx="416.7" cy="141.3" r="1.8"/><circle cx="423.9" cy="141.5" r="1.8"/><circle cx="400.9" cy="125.7" r="1.8"/><circle cx="388.2" cy="110.6" r="1.8"/><circle cx="375.4" cy="99.0" r="1.8"/><circle cx="410.1" cy="127.1" r="1.8"/><circle cx="447.0" cy="165.3" r="1.8"/><circle cx="449.3" cy="163.0" r="1.8"/><circle cx="443.3" cy="160.8" r="1.8"/><circle cx="445.6" cy="159.3" r="1.8"/><circle cx="438.9" cy="159.7" r="1.8"/><circle cx="436.0" cy="159.3" r="1.8"/><circle cx="431.5" cy="157.1" r="1.8"/><circle cx="431.1" cy="155.7" r="1.8"/><circle cx="449.3" cy="157.9" r="1.8"/><circle cx="447.8" cy="154.9" r="1.8"/><circle cx="441.1" cy="154.9" r="1.8"/><circle cx="439.6" cy="152.7" r="1.8"/><circle cx="435.2" cy="154.2" r="1.8"/><circle cx="433.0" cy="151.2" r="1.8"/><circle cx="427.8" cy="152.7" r="1.8"/><circle cx="426.3" cy="151.2" r="1.8"/><circle cx="423.4" cy="148.3" r="1.8"/><circle cx="416.0" cy="143.1" r="1.8"/><circle cx="413.0" cy="140.9" r="1.8"/><circle cx="441.1" cy="149.0" r="1.8"/><circle cx="436.7" cy="148.3" r="1.8"/><circle cx="427.8" cy="147.5" r="1.8"/><circle cx="442.6" cy="144.6" r="1.8"/><circle cx="435.2" cy="145.3" r="1.8"/><circle cx="431.5" cy="144.6" r="1.8"/><circle cx="421.9" cy="142.3" r="1.8"/><circle cx="418.9" cy="140.9" r="1.8"/><circle cx="440.4" cy="141.6" r="1.8"/><circle cx="435.2" cy="141.6" r="1.8"/><circle cx="448.5" cy="140.9" r="1.8"/><circle cx="445.6" cy="140.1" r="1.8"/><circle cx="430.0" cy="150.5" r="1.8"/><circle cx="425.6" cy="149.7" r="1.8"/><circle cx="450.7" cy="168.3" r="1.8"/><circle cx="449.8" cy="166.1" r="1.8"/><circle cx="447.1" cy="164.2" r="1.8"/><circle cx="450.7" cy="162.9" r="1.8"/><circle cx="450.3" cy="158.3" r="1.8"/><circle cx="451.6" cy="140.6" r="1.8"/><circle cx="446.2" cy="138.8" r="1.8"/><circle cx="449.4" cy="137.9" r="1.8"/><circle cx="447.5" cy="135.6" r="1.8"/><circle cx="439.8" cy="137.0" r="1.8"/><circle cx="439.4" cy="134.7" r="1.8"/><circle cx="433.5" cy="136.1" r="1.8"/><circle cx="431.2" cy="134.2" r="1.8"/><circle cx="426.6" cy="136.1" r="1.8"/><circle cx="431.2" cy="129.0" r="1.8"/><circle cx="428.5" cy="126.2" r="1.8"/><circle cx="432.5" cy="124.0" r="1.8"/><circle cx="429.8" cy="117.2" r="1.8"/><circle cx="422.1" cy="115.3" r="1.8"/><circle cx="418.5" cy="115.3" r="1.8"/><circle cx="418.0" cy="111.7" r="1.8"/><circle cx="431.6" cy="111.7" r="1.8"/><circle cx="412.5" cy="109.4" r="1.8"/><circle cx="409.8" cy="112.2" r="1.8"/><circle cx="403.9" cy="109.4" r="1.8"/><circle cx="402.5" cy="92.2" r="1.8"/></g>
<rect x="399.1" y="88.9" width="5.8" height="6.0" fill="none" stroke="#ff0000" stroke-width="1.05"/>
<rect x="408.7" y="88.7" width="6.4" height="6.8" fill="none" stroke="#ff0000" stroke-width="1.5"/>
<circle cx="401.9" cy="91.9" r="1.6" fill="#0000ff"/><circle cx="411.4" cy="92.1" r="1.8" fill="#0000ff"/>
<g fill="none" stroke="#1c1c1c" stroke-width="1.1">
<rect x="195.7" y="12.8" width="341.6" height="156.1"/>
<line x1="229.86" y1="168.9" x2="229.86" y2="165.4"/><line x1="229.86" y1="12.8" x2="229.86" y2="16.3"/><line x1="264.02" y1="168.9" x2="264.02" y2="165.4"/><line x1="264.02" y1="12.8" x2="264.02" y2="16.3"/><line x1="298.18" y1="168.9" x2="298.18" y2="165.4"/><line x1="298.18" y1="12.8" x2="298.18" y2="16.3"/><line x1="332.34" y1="168.9" x2="332.34" y2="165.4"/><line x1="332.34" y1="12.8" x2="332.34" y2="16.3"/><line x1="366.50" y1="168.9" x2="366.50" y2="165.4"/><line x1="366.50" y1="12.8" x2="366.50" y2="16.3"/><line x1="400.66" y1="168.9" x2="400.66" y2="165.4"/><line x1="400.66" y1="12.8" x2="400.66" y2="16.3"/><line x1="434.82" y1="168.9" x2="434.82" y2="165.4"/><line x1="434.82" y1="12.8" x2="434.82" y2="16.3"/><line x1="468.98" y1="168.9" x2="468.98" y2="165.4"/><line x1="468.98" y1="12.8" x2="468.98" y2="16.3"/><line x1="503.14" y1="168.9" x2="503.14" y2="165.4"/><line x1="503.14" y1="12.8" x2="503.14" y2="16.3"/><line x1="195.7" y1="51.83" x2="199.2" y2="51.83"/><line x1="537.3" y1="51.83" x2="533.8" y2="51.83"/><line x1="195.7" y1="90.85" x2="199.2" y2="90.85"/><line x1="537.3" y1="90.85" x2="533.8" y2="90.85"/><line x1="195.7" y1="129.88" x2="199.2" y2="129.88"/><line x1="537.3" y1="129.88" x2="533.8" y2="129.88"/>
</g>
<g class="sans" font-size="10.5" fill="#262626">
<text x="195.70" y="184.2" text-anchor="middle">-50</text><text x="229.86" y="184.2" text-anchor="middle">-40</text><text x="264.02" y="184.2" text-anchor="middle">-30</text><text x="298.18" y="184.2" text-anchor="middle">-20</text><text x="332.34" y="184.2" text-anchor="middle">-10</text><text x="366.50" y="184.2" text-anchor="middle">0</text><text x="400.66" y="184.2" text-anchor="middle">10</text><text x="434.82" y="184.2" text-anchor="middle">20</text><text x="468.98" y="184.2" text-anchor="middle">30</text><text x="503.14" y="184.2" text-anchor="middle">40</text><text x="537.30" y="184.2" text-anchor="middle">50</text><text x="190.8" y="17.40" text-anchor="end">20</text><text x="190.8" y="56.43" text-anchor="end">10</text><text x="190.8" y="95.45" text-anchor="end">0</text><text x="190.8" y="134.47" text-anchor="end">-10</text><text x="190.8" y="173.50" text-anchor="end">-20</text>
</g>
<g class="serif" fill="#111">
<g transform="translate(317.5,197) rotate(0)"><text x="0" y="0" font-size="12.5">Re</text><text x="14.5" y="0" font-size="12.5">(</text><text x="19.8" y="0" font-size="12.0" font-style="italic">ω</text><text x="26.6" y="2.0" font-size="9.6" font-style="italic">m</text><text x="34.5" y="0" font-size="12.5">)</text><text x="46.4" y="0" font-size="12.5" font-style="italic">c</text><text x="59.0" y="0" font-size="12.5">(</text><text x="63.8" y="0" font-size="12.5" font-style="italic">μ</text><text x="69.3" y="0" font-size="13.2">m</text><text x="86.8" y="-3.8" font-size="9.0">1</text><text x="93.5" y="0" font-size="12.5">)</text><path d="M21.2 -7.0 Q22.5 -8.6 24.0 -7.7 Q25.5 -6.8 26.6 -8.3" fill="none" stroke="#111" stroke-width="0.75"/><path d="M80.3 -6.4 H86.3" stroke="#111" stroke-width="0.8"/><path d="M40.2 3.3 L44.6 -9.3" stroke="#111" stroke-width="0.85"/></g><g transform="translate(169.8,140) rotate(-90)"><text x="0" y="0" font-size="12.5">Im</text><text x="14.5" y="0" font-size="12.5">(</text><text x="19.8" y="0" font-size="12.0" font-style="italic">ω</text><text x="26.6" y="2.0" font-size="9.6" font-style="italic">m</text><text x="34.5" y="0" font-size="12.5">)</text><text x="46.4" y="0" font-size="12.5" font-style="italic">c</text><text x="59.0" y="0" font-size="12.5">(</text><text x="63.8" y="0" font-size="12.5" font-style="italic">μ</text><text x="69.3" y="0" font-size="13.2">m</text><text x="86.8" y="-3.8" font-size="9.0">1</text><text x="93.5" y="0" font-size="12.5">)</text><path d="M21.2 -7.0 Q22.5 -8.6 24.0 -7.7 Q25.5 -6.8 26.6 -8.3" fill="none" stroke="#111" stroke-width="0.75"/><path d="M80.3 -6.4 H86.3" stroke="#111" stroke-width="0.8"/><path d="M40.2 3.3 L44.6 -9.3" stroke="#111" stroke-width="0.85"/></g>
</g>

<!-- Panel (b) -->
<text class="sans" x="7" y="212.3" font-size="13.2" font-weight="bold" fill="#000">(b)</text>
<g fill="#0000ff"><circle cx="83.2" cy="272.6" r="1.65"/><circle cx="89.7" cy="271.9" r="1.65"/><circle cx="107.7" cy="280.5" r="1.65"/><circle cx="110.2" cy="281.0" r="1.65"/><circle cx="112.6" cy="281.8" r="1.65"/><circle cx="117.9" cy="287.5" r="1.65"/><circle cx="120.8" cy="285.9" r="1.65"/><circle cx="123.3" cy="286.7" r="1.65"/><circle cx="124.9" cy="287.8" r="1.65"/><circle cx="129.0" cy="289.5" r="1.65"/><circle cx="131.5" cy="290.3" r="1.65"/><circle cx="130.6" cy="293.5" r="1.65"/><circle cx="133.1" cy="291.9" r="1.65"/><circle cx="136.4" cy="292.7" r="1.65"/><circle cx="136.4" cy="295.7" r="1.65"/><circle cx="139.6" cy="293.5" r="1.65"/><circle cx="142.1" cy="294.9" r="1.65"/><circle cx="145.4" cy="295.7" r="1.65"/><circle cx="148.6" cy="296.8" r="1.65"/><circle cx="151.1" cy="297.6" r="1.65"/><circle cx="152.7" cy="298.0" r="1.65"/><circle cx="97.9" cy="299.8" r="1.65"/><circle cx="117.4" cy="308.8" r="1.65"/><circle cx="127.3" cy="288.2" r="1.65"/><circle cx="129.0" cy="288.8" r="1.65"/><circle cx="130.7" cy="289.5" r="1.65"/><circle cx="132.4" cy="290.1" r="1.65"/><circle cx="134.2" cy="290.8" r="1.65"/><circle cx="135.9" cy="291.4" r="1.65"/><circle cx="137.6" cy="292.0" r="1.65"/><circle cx="139.3" cy="292.7" r="1.65"/><circle cx="141.0" cy="293.3" r="1.65"/><circle cx="142.7" cy="294.0" r="1.65"/><circle cx="144.4" cy="294.6" r="1.65"/><circle cx="146.1" cy="295.2" r="1.65"/><circle cx="147.9" cy="295.9" r="1.65"/><circle cx="149.6" cy="296.5" r="1.65"/><circle cx="151.3" cy="297.2" r="1.65"/><circle cx="153.0" cy="297.8" r="1.65"/><circle cx="129.8" cy="291.6" r="1.65"/><circle cx="131.2" cy="292.6" r="1.65"/><circle cx="134.0" cy="293.6" r="1.65"/><circle cx="137.5" cy="295.2" r="1.65"/><circle cx="141.0" cy="296.0" r="1.65"/><circle cx="144.5" cy="296.8" r="1.65"/><circle cx="126.0" cy="287.0" r="1.65"/><circle cx="124.0" cy="286.5" r="1.65"/></g>
<g fill="none" stroke="#1c1c1c" stroke-width="1.1">
<rect x="62.8" y="213.5" width="121.3" height="152.3"/>
<line x1="123.45" y1="365.8" x2="123.45" y2="362.3"/><line x1="123.45" y1="213.5" x2="123.45" y2="217.0"/><line x1="62.8" y1="257.01" x2="66.3" y2="257.01"/><line x1="184.1" y1="257.01" x2="180.6" y2="257.01"/><line x1="62.8" y1="300.53" x2="66.3" y2="300.53"/><line x1="184.1" y1="300.53" x2="180.6" y2="300.53"/><line x1="62.8" y1="344.04" x2="66.3" y2="344.04"/><line x1="184.1" y1="344.04" x2="180.6" y2="344.04"/>
</g>
<g class="sans" font-size="10.5" fill="#262626">
<text x="62.80" y="380.5" text-anchor="middle">14</text><text x="123.45" y="380.5" text-anchor="middle">16</text><text x="184.10" y="380.5" text-anchor="middle">18</text><text x="58" y="218.10" text-anchor="end">0</text><text x="58" y="261.61" text-anchor="end">-0.1</text><text x="58" y="305.13" text-anchor="end">-0.2</text><text x="58" y="348.64" text-anchor="end">-0.3</text>
</g>
<text class="serif" x="69.7" y="231.9" font-size="12.8" fill="#111" textLength="108.7" lengthAdjust="spacingAndGlyphs">Accumulation point</text>
<circle cx="152.6" cy="297.4" r="5" fill="none" stroke="#000" stroke-width="1.3"/>
<line x1="152.6" y1="316" x2="152.6" y2="333.6" stroke="#000" stroke-width="1.1"/>
<path d="M152.6 309.8 L156.6 320.3 L152.6 317.8 L148.6 320.3 Z" fill="#000"/>
<text class="serif" x="121.1" y="347.4" font-size="12.8" fill="#111" textLength="46.6" lengthAdjust="spacingAndGlyphs">Pole of <tspan font-style="italic">ε</tspan></text>
<g class="serif" fill="#111">
<g transform="translate(74,394.6) rotate(0)"><text x="0" y="0" font-size="12.5">Re</text><text x="14.5" y="0" font-size="12.5">(</text><text x="19.8" y="0" font-size="12.0" font-style="italic">ω</text><text x="26.6" y="2.0" font-size="9.6" font-style="italic">m</text><text x="34.5" y="0" font-size="12.5">)</text><text x="46.4" y="0" font-size="12.5" font-style="italic">c</text><text x="59.0" y="0" font-size="12.5">(</text><text x="63.8" y="0" font-size="12.5" font-style="italic">μ</text><text x="69.3" y="0" font-size="13.2">m</text><text x="86.8" y="-3.8" font-size="9.0">1</text><text x="93.5" y="0" font-size="12.5">)</text><path d="M21.2 -7.0 Q22.5 -8.6 24.0 -7.7 Q25.5 -6.8 26.6 -8.3" fill="none" stroke="#111" stroke-width="0.75"/><path d="M80.3 -6.4 H86.3" stroke="#111" stroke-width="0.8"/><path d="M40.2 3.3 L44.6 -9.3" stroke="#111" stroke-width="0.85"/></g><g transform="translate(32.4,338.4) rotate(-90)"><text x="0" y="0" font-size="12.5">Im</text><text x="14.5" y="0" font-size="12.5">(</text><text x="19.8" y="0" font-size="12.0" font-style="italic">ω</text><text x="26.6" y="2.0" font-size="9.6" font-style="italic">m</text><text x="34.5" y="0" font-size="12.5">)</text><text x="46.4" y="0" font-size="12.5" font-style="italic">c</text><text x="59.0" y="0" font-size="12.5">(</text><text x="63.8" y="0" font-size="12.5" font-style="italic">μ</text><text x="69.3" y="0" font-size="13.2">m</text><text x="86.8" y="-3.8" font-size="9.0">1</text><text x="93.5" y="0" font-size="12.5">)</text><path d="M21.2 -7.0 Q22.5 -8.6 24.0 -7.7 Q25.5 -6.8 26.6 -8.3" fill="none" stroke="#111" stroke-width="0.75"/><path d="M80.3 -6.4 H86.3" stroke="#111" stroke-width="0.8"/><path d="M40.2 3.3 L44.6 -9.3" stroke="#111" stroke-width="0.85"/></g>
</g>

<!-- Panel (c) -->
<text class="sans" x="211.5" y="212.3" font-size="13.2" font-weight="bold" fill="#000">(c)</text>
<g fill="#0000ff"><path d="M420.7 289.6 L420.7 289.8 L420.4 290.1 L420.1 290.6 L419.6 291.2 L418.9 291.8 L418.2 292.6 L417.3 293.4 L416.2 294.3 L415.1 295.2 L413.9 296.2 L412.6 297.2 L411.2 298.2 L409.7 299.3 L408.2 300.3 L406.6 301.3 L405.0 302.3 L403.4 303.3 L401.9 304.3 L400.3 305.2 L398.7 306.0 L397.2 306.8 L395.8 307.5 L394.4 308.2 L393.1 308.8 L392.0 309.3 L390.9 309.7 L390.1 310.0 L389.3 310.3 L388.8 310.4 L388.6 310.4 L388.4 310.4 L387.9 310.3 L387.1 310.0 L386.3 309.7 L385.2 309.3 L384.1 308.8 L382.8 308.2 L381.4 307.5 L380.0 306.8 L378.5 306.0 L376.9 305.2 L375.3 304.3 L373.8 303.3 L372.2 302.3 L370.6 301.3 L369.0 300.3 L367.5 299.3 L366.0 298.2 L364.6 297.2 L363.3 296.2 L362.1 295.2 L361.0 294.3 L359.9 293.4 L359.0 292.6 L358.3 291.8 L357.6 291.2 L357.1 290.6 L356.8 290.1 L356.5 289.8 L356.5 289.6 L356.5 289.5 L356.8 289.2 L357.1 288.7 L357.6 288.1 L358.3 287.5 L359.0 286.7 L359.9 285.9 L361.0 285.0 L362.1 284.1 L363.3 283.1 L364.6 282.1 L366.0 281.1 L367.5 280.0 L369.0 279.0 L370.6 278.0 L372.2 277.0 L373.8 276.0 L375.3 275.0 L376.9 274.1 L378.5 273.3 L380.0 272.5 L381.4 271.8 L382.8 271.1 L384.1 270.5 L385.2 270.0 L386.3 269.6 L387.1 269.3 L387.9 269.0 L388.4 268.9 L388.6 268.9 L388.8 268.9 L389.3 269.0 L390.1 269.3 L390.9 269.6 L392.0 270.0 L393.1 270.5 L394.4 271.1 L395.8 271.8 L397.2 272.5 L398.7 273.3 L400.3 274.1 L401.9 275.0 L403.4 276.0 L405.0 277.0 L406.6 278.0 L408.2 279.0 L409.7 280.0 L411.2 281.1 L412.6 282.1 L413.9 283.1 L415.1 284.1 L416.2 285.0 L417.3 285.9 L418.2 286.7 L418.9 287.5 L419.6 288.1 L420.1 288.7 L420.4 289.2 L420.7 289.5 L420.7 289.6Z"/><circle cx="427.9" cy="283.4" r="1.8"/><circle cx="362.3" cy="260.5" r="1.8"/><circle cx="427.9" cy="268.7" r="1.8"/><circle cx="395.7" cy="261.6" r="1.8"/><circle cx="387.0" cy="261.6" r="1.8"/><circle cx="381.6" cy="271.8" r="1.8"/><circle cx="345.2" cy="290.1" r="1.8"/><circle cx="408.0" cy="300.3" r="1.8"/><circle cx="359.4" cy="282.7" r="1.8"/><circle cx="328.0" cy="295.0" r="1.8"/><circle cx="425.4" cy="284.6" r="1.8"/><circle cx="409.4" cy="308.7" r="1.8"/><circle cx="398.1" cy="310.7" r="1.8"/><circle cx="364.4" cy="266.6" r="1.8"/><circle cx="379.0" cy="259.9" r="1.8"/><circle cx="394.9" cy="308.3" r="1.8"/><circle cx="349.5" cy="295.4" r="1.8"/><circle cx="332.9" cy="291.5" r="1.8"/><circle cx="411.0" cy="266.7" r="1.8"/><circle cx="354.0" cy="291.5" r="1.8"/><circle cx="437.4" cy="284.7" r="1.8"/><circle cx="371.0" cy="275.1" r="1.8"/><circle cx="348.6" cy="286.8" r="1.8"/><circle cx="375.1" cy="303.9" r="1.8"/><circle cx="358.9" cy="291.3" r="1.8"/><circle cx="370.3" cy="274.9" r="1.8"/><circle cx="393.9" cy="262.5" r="1.8"/><circle cx="366.5" cy="323.0" r="1.8"/><circle cx="444.2" cy="297.2" r="1.8"/><circle cx="348.7" cy="308.9" r="1.8"/><circle cx="403.4" cy="302.8" r="1.8"/><circle cx="392.6" cy="314.5" r="1.8"/><circle cx="410.9" cy="259.6" r="1.8"/><circle cx="350.3" cy="298.7" r="1.8"/><circle cx="385.9" cy="248.9" r="1.8"/><circle cx="400.6" cy="263.1" r="1.8"/><circle cx="338.1" cy="287.1" r="1.8"/><circle cx="366.0" cy="297.4" r="1.8"/><circle cx="355.8" cy="300.4" r="1.8"/><circle cx="395.2" cy="307.1" r="1.8"/><circle cx="380.5" cy="314.7" r="1.8"/><circle cx="412.8" cy="312.0" r="1.8"/><circle cx="374.1" cy="274.0" r="1.8"/><circle cx="371.3" cy="273.8" r="1.8"/><circle cx="335.4" cy="307.9" r="1.8"/><circle cx="335.3" cy="285.2" r="1.8"/><circle cx="343.4" cy="268.8" r="1.8"/><circle cx="352.4" cy="283.4" r="1.8"/><circle cx="379.2" cy="267.3" r="1.8"/><circle cx="439.6" cy="285.3" r="1.8"/><circle cx="327.9" cy="290.6" r="1.8"/><circle cx="343.7" cy="280.0" r="1.8"/><circle cx="361.4" cy="312.2" r="1.8"/><circle cx="366.3" cy="278.4" r="1.8"/><circle cx="368.9" cy="328.1" r="1.8"/><circle cx="408.5" cy="263.4" r="1.8"/><circle cx="395.1" cy="270.8" r="1.8"/><circle cx="397.8" cy="322.5" r="1.8"/><circle cx="394.5" cy="309.1" r="1.8"/><circle cx="428.0" cy="306.7" r="1.8"/><circle cx="338.2" cy="301.6" r="1.8"/><circle cx="357.2" cy="277.2" r="1.8"/><circle cx="391.2" cy="265.4" r="1.8"/><circle cx="415.4" cy="283.5" r="1.8"/><circle cx="364.7" cy="274.0" r="1.8"/><circle cx="357.3" cy="267.5" r="1.8"/><circle cx="339.2" cy="290.0" r="1.8"/><circle cx="453.8" cy="293.2" r="1.8"/><circle cx="407.7" cy="322.8" r="1.8"/><circle cx="439.2" cy="280.9" r="1.8"/><circle cx="391.4" cy="257.6" r="1.8"/><circle cx="398.3" cy="314.0" r="1.8"/><circle cx="361.3" cy="301.9" r="1.8"/><circle cx="379.0" cy="265.0" r="1.8"/><circle cx="466.0" cy="294.1" r="1.8"/><circle cx="379.6" cy="262.7" r="1.8"/><circle cx="380.6" cy="320.1" r="1.8"/><circle cx="452.4" cy="284.0" r="1.8"/><circle cx="430.6" cy="287.2" r="1.8"/><circle cx="435.8" cy="271.5" r="1.8"/><circle cx="368.2" cy="310.9" r="1.8"/><circle cx="431.6" cy="291.3" r="1.8"/><circle cx="375.3" cy="306.0" r="1.8"/><circle cx="383.8" cy="323.9" r="1.8"/><circle cx="420.1" cy="299.4" r="1.8"/><circle cx="379.7" cy="253.9" r="1.8"/><circle cx="355.4" cy="290.0" r="1.8"/><circle cx="429.5" cy="280.3" r="1.8"/><circle cx="369.9" cy="256.7" r="1.8"/><circle cx="440.1" cy="296.8" r="1.8"/><circle cx="370.0" cy="303.1" r="1.8"/><circle cx="350.3" cy="272.9" r="1.8"/><circle cx="325.5" cy="292.0" r="1.8"/><circle cx="440.5" cy="297.6" r="1.8"/><circle cx="440.1" cy="299.4" r="1.8"/><circle cx="366.5" cy="262.8" r="1.8"/><circle cx="389.6" cy="324.5" r="1.8"/><circle cx="418.0" cy="291.5" r="1.8"/><circle cx="370.0" cy="316.6" r="1.8"/><circle cx="398.0" cy="256.6" r="1.8"/><circle cx="394.2" cy="309.6" r="1.8"/><circle cx="418.6" cy="308.4" r="1.8"/><circle cx="392.7" cy="315.2" r="1.8"/><circle cx="359.6" cy="286.3" r="1.8"/><circle cx="412.9" cy="308.1" r="1.8"/><circle cx="410.1" cy="265.7" r="1.8"/><circle cx="400.8" cy="321.2" r="1.8"/><circle cx="385.2" cy="308.3" r="1.8"/><circle cx="344.8" cy="288.7" r="1.8"/><circle cx="444.2" cy="308.3" r="1.8"/><circle cx="372.1" cy="319.1" r="1.8"/><circle cx="350.8" cy="298.9" r="1.8"/><circle cx="367.7" cy="304.6" r="1.8"/><circle cx="335.0" cy="296.9" r="1.8"/><circle cx="426.9" cy="276.1" r="1.8"/><circle cx="368.0" cy="314.8" r="1.8"/><circle cx="402.5" cy="260.9" r="1.8"/><circle cx="338.4" cy="296.9" r="1.8"/><circle cx="345.5" cy="289.0" r="1.8"/><circle cx="362.8" cy="273.9" r="1.8"/><circle cx="447.8" cy="290.3" r="1.8"/><circle cx="408.4" cy="267.6" r="1.8"/><circle cx="407.4" cy="271.6" r="1.8"/><circle cx="424.6" cy="304.9" r="1.8"/><circle cx="362.2" cy="254.2" r="1.8"/><circle cx="338.1" cy="298.2" r="1.8"/><circle cx="345.6" cy="280.4" r="1.8"/><circle cx="350.6" cy="303.4" r="1.8"/><circle cx="398.9" cy="267.0" r="1.8"/><circle cx="393.6" cy="313.3" r="1.8"/><circle cx="367.5" cy="269.4" r="1.8"/><circle cx="389.9" cy="263.3" r="1.8"/><circle cx="359.3" cy="295.2" r="1.8"/><circle cx="406.5" cy="262.2" r="1.8"/><circle cx="411.0" cy="320.8" r="1.8"/><circle cx="416.9" cy="316.1" r="1.8"/><circle cx="375.2" cy="314.9" r="1.8"/><circle cx="431.7" cy="272.9" r="1.8"/><circle cx="441.8" cy="270.9" r="1.8"/><circle cx="433.1" cy="278.5" r="1.8"/><circle cx="422.2" cy="272.5" r="1.8"/><circle cx="387.6" cy="253.3" r="1.8"/><circle cx="358.9" cy="306.1" r="1.8"/><circle cx="424.9" cy="309.0" r="1.8"/><circle cx="410.7" cy="313.0" r="1.8"/><circle cx="432.4" cy="288.9" r="1.8"/><circle cx="342.0" cy="280.3" r="1.8"/><circle cx="405.7" cy="330.3" r="1.8"/><circle cx="393.0" cy="265.9" r="1.8"/><circle cx="388.4" cy="316.2" r="1.8"/><circle cx="407.9" cy="306.3" r="1.8"/><circle cx="346.7" cy="307.0" r="1.8"/><circle cx="418.8" cy="283.5" r="1.8"/><circle cx="439.2" cy="296.3" r="1.8"/><circle cx="367.7" cy="272.8" r="1.8"/><circle cx="443.3" cy="306.3" r="1.8"/><circle cx="384.1" cy="317.7" r="1.8"/><circle cx="385.9" cy="249.1" r="1.8"/><circle cx="392.6" cy="323.3" r="1.8"/><circle cx="364.9" cy="279.8" r="1.8"/><circle cx="391.0" cy="322.5" r="1.8"/><circle cx="389.1" cy="309.4" r="1.8"/><circle cx="365.9" cy="277.4" r="1.8"/><circle cx="370.0" cy="264.0" r="1.8"/><circle cx="399.1" cy="326.1" r="1.8"/><circle cx="351.5" cy="283.1" r="1.8"/><circle cx="370.2" cy="306.7" r="1.8"/><circle cx="418.7" cy="299.9" r="1.8"/><circle cx="374.4" cy="265.4" r="1.8"/><circle cx="367.2" cy="278.9" r="1.8"/><circle cx="389.3" cy="314.8" r="1.8"/><circle cx="414.7" cy="280.0" r="1.8"/><circle cx="346.1" cy="281.0" r="1.8"/><circle cx="383.1" cy="312.5" r="1.8"/><circle cx="343.6" cy="292.1" r="1.8"/><circle cx="386.7" cy="265.0" r="1.8"/><circle cx="358.4" cy="291.6" r="1.8"/><circle cx="338.4" cy="270.3" r="1.8"/><circle cx="438.5" cy="294.6" r="1.8"/><circle cx="365.8" cy="319.6" r="1.8"/><circle cx="421.0" cy="302.7" r="1.8"/><circle cx="349.5" cy="300.6" r="1.8"/><circle cx="413.8" cy="323.8" r="1.8"/><circle cx="343.8" cy="301.5" r="1.8"/><circle cx="368.3" cy="312.4" r="1.8"/><circle cx="399.0" cy="264.3" r="1.8"/><circle cx="409.4" cy="269.0" r="1.8"/><circle cx="392.4" cy="258.9" r="1.8"/><circle cx="434.8" cy="278.4" r="1.8"/><circle cx="427.2" cy="296.8" r="1.8"/><circle cx="409.4" cy="279.6" r="1.8"/><circle cx="388.4" cy="313.5" r="1.8"/><circle cx="434.0" cy="286.2" r="1.8"/><circle cx="337.1" cy="291.0" r="1.8"/><circle cx="413.2" cy="253.7" r="1.8"/><circle cx="379.6" cy="260.4" r="1.8"/><circle cx="420.5" cy="292.7" r="1.8"/><circle cx="361.1" cy="265.4" r="1.8"/><circle cx="329.6" cy="285.8" r="1.8"/><circle cx="409.1" cy="267.6" r="1.8"/><circle cx="355.3" cy="281.9" r="1.8"/><circle cx="334.3" cy="291.0" r="1.8"/><circle cx="344.6" cy="279.9" r="1.8"/><circle cx="414.7" cy="278.1" r="1.8"/><circle cx="438.9" cy="283.2" r="1.8"/><circle cx="339.6" cy="288.0" r="1.8"/><circle cx="343.2" cy="308.3" r="1.8"/><circle cx="331.9" cy="291.1" r="1.8"/><circle cx="356.3" cy="278.1" r="1.8"/><circle cx="338.4" cy="292.1" r="1.8"/><circle cx="398.0" cy="261.8" r="1.8"/><circle cx="356.0" cy="290.7" r="1.8"/><circle cx="430.4" cy="281.9" r="1.8"/><circle cx="374.9" cy="321.0" r="1.8"/><circle cx="434.3" cy="281.1" r="1.8"/><circle cx="350.7" cy="299.0" r="1.8"/><circle cx="419.1" cy="286.7" r="1.8"/><circle cx="442.5" cy="273.4" r="1.8"/><circle cx="415.6" cy="303.3" r="1.8"/><circle cx="383.6" cy="262.9" r="1.8"/><circle cx="392.4" cy="328.9" r="1.8"/><circle cx="432.4" cy="297.2" r="1.8"/><circle cx="396.0" cy="261.8" r="1.8"/><circle cx="399.2" cy="311.8" r="1.8"/><circle cx="343.9" cy="287.3" r="1.8"/><circle cx="360.2" cy="263.3" r="1.8"/><circle cx="350.1" cy="279.5" r="1.8"/><circle cx="420.0" cy="286.7" r="1.8"/><circle cx="400.8" cy="257.7" r="1.8"/><circle cx="424.1" cy="291.4" r="1.8"/><circle cx="464.1" cy="294.3" r="1.8"/><circle cx="386.3" cy="263.4" r="1.8"/><circle cx="428.7" cy="270.7" r="1.8"/><circle cx="314.2" cy="292.9" r="1.8"/><circle cx="331.9" cy="301.3" r="1.8"/><circle cx="369.7" cy="314.3" r="1.8"/><circle cx="340.1" cy="301.9" r="1.8"/><circle cx="381.7" cy="265.8" r="1.8"/><circle cx="354.1" cy="279.1" r="1.8"/><circle cx="381.5" cy="309.6" r="1.8"/><circle cx="359.0" cy="297.7" r="1.8"/><circle cx="359.2" cy="276.8" r="1.8"/><circle cx="344.5" cy="289.6" r="1.8"/><circle cx="393.9" cy="328.3" r="1.8"/><circle cx="350.7" cy="316.3" r="1.8"/><circle cx="419.0" cy="305.9" r="1.8"/><circle cx="407.0" cy="310.9" r="1.8"/><circle cx="389.4" cy="266.3" r="1.8"/><circle cx="398.9" cy="315.0" r="1.8"/><circle cx="463.0" cy="286.0" r="1.8"/><circle cx="349.0" cy="289.1" r="1.8"/><circle cx="400.2" cy="314.9" r="1.8"/><circle cx="389.6" cy="321.9" r="1.8"/><circle cx="401.0" cy="307.1" r="1.8"/><circle cx="366.8" cy="262.9" r="1.8"/><circle cx="341.8" cy="289.0" r="1.8"/><circle cx="415.7" cy="306.1" r="1.8"/><circle cx="346.6" cy="293.8" r="1.8"/><circle cx="419.1" cy="299.5" r="1.8"/><circle cx="417.8" cy="284.4" r="1.8"/><circle cx="414.0" cy="262.7" r="1.8"/><circle cx="406.4" cy="305.3" r="1.8"/><circle cx="349.8" cy="299.3" r="1.8"/><circle cx="342.5" cy="274.8" r="1.8"/><circle cx="382.1" cy="258.6" r="1.8"/><circle cx="311.5" cy="291.7" r="1.8"/><circle cx="381.2" cy="314.5" r="1.8"/><circle cx="349.0" cy="287.6" r="1.8"/><circle cx="439.9" cy="293.9" r="1.8"/><circle cx="390.2" cy="248.5" r="1.8"/><circle cx="345.9" cy="277.1" r="1.8"/><circle cx="383.7" cy="317.9" r="1.8"/><circle cx="365.9" cy="270.0" r="1.8"/><circle cx="374.9" cy="303.9" r="1.8"/><circle cx="409.5" cy="252.9" r="1.8"/><circle cx="358.9" cy="273.1" r="1.8"/><circle cx="434.3" cy="284.1" r="1.8"/><circle cx="392.6" cy="321.5" r="1.8"/><circle cx="346.8" cy="312.8" r="1.8"/><circle cx="364.1" cy="304.0" r="1.8"/><circle cx="397.4" cy="328.8" r="1.8"/><circle cx="366.4" cy="260.9" r="1.8"/><circle cx="418.3" cy="302.6" r="1.8"/><circle cx="354.5" cy="300.3" r="1.8"/><circle cx="328.6" cy="292.4" r="1.8"/><circle cx="395.9" cy="325.0" r="1.8"/><circle cx="378.7" cy="312.4" r="1.8"/><circle cx="338.3" cy="286.0" r="1.8"/><circle cx="406.5" cy="271.3" r="1.8"/><circle cx="394.6" cy="244.5" r="1.8"/><circle cx="366.8" cy="305.1" r="1.8"/><circle cx="395.7" cy="313.7" r="1.8"/><circle cx="379.5" cy="264.5" r="1.8"/><circle cx="378.7" cy="254.6" r="1.8"/><circle cx="378.3" cy="257.2" r="1.8"/><circle cx="411.5" cy="273.9" r="1.8"/><circle cx="396.4" cy="246.2" r="1.8"/><circle cx="412.6" cy="317.8" r="1.8"/><circle cx="352.3" cy="292.1" r="1.8"/><circle cx="381.7" cy="260.8" r="1.8"/><circle cx="357.6" cy="314.4" r="1.8"/><circle cx="433.7" cy="300.3" r="1.8"/><circle cx="421.2" cy="297.8" r="1.8"/><circle cx="353.0" cy="303.6" r="1.8"/><circle cx="405.3" cy="275.9" r="1.8"/><circle cx="377.2" cy="260.2" r="1.8"/><circle cx="400.2" cy="261.2" r="1.8"/><circle cx="353.7" cy="295.4" r="1.8"/><circle cx="382.1" cy="309.3" r="1.8"/><circle cx="368.4" cy="310.3" r="1.8"/><circle cx="381.6" cy="328.5" r="1.8"/><circle cx="419.6" cy="271.3" r="1.8"/><circle cx="366.8" cy="304.8" r="1.8"/><circle cx="327.8" cy="296.8" r="1.8"/><circle cx="349.1" cy="290.1" r="1.8"/><circle cx="393.9" cy="260.0" r="1.8"/><circle cx="376.7" cy="271.6" r="1.8"/><circle cx="426.5" cy="297.5" r="1.8"/><circle cx="386.8" cy="310.9" r="1.8"/><circle cx="349.1" cy="288.4" r="1.8"/><circle cx="430.3" cy="261.5" r="1.8"/><circle cx="410.8" cy="305.7" r="1.8"/><circle cx="413.7" cy="311.0" r="1.8"/><circle cx="367.1" cy="299.4" r="1.8"/><circle cx="342.0" cy="289.2" r="1.8"/><circle cx="367.7" cy="260.7" r="1.8"/><circle cx="368.6" cy="270.7" r="1.8"/><circle cx="348.3" cy="275.9" r="1.8"/><circle cx="405.8" cy="303.8" r="1.8"/><circle cx="335.9" cy="292.2" r="1.8"/><circle cx="431.9" cy="280.3" r="1.8"/><circle cx="408.8" cy="280.5" r="1.8"/><circle cx="363.3" cy="298.0" r="1.8"/><circle cx="432.7" cy="269.8" r="1.8"/><circle cx="414.6" cy="307.8" r="1.8"/><circle cx="339.0" cy="284.4" r="1.8"/><circle cx="391.4" cy="262.4" r="1.8"/><circle cx="349.3" cy="283.4" r="1.8"/><circle cx="413.7" cy="308.3" r="1.8"/><circle cx="398.9" cy="309.1" r="1.8"/><circle cx="366.5" cy="265.5" r="1.8"/><circle cx="355.9" cy="295.0" r="1.8"/><circle cx="426.6" cy="306.4" r="1.8"/><circle cx="354.2" cy="285.6" r="1.8"/><circle cx="401.8" cy="318.4" r="1.8"/><circle cx="379.8" cy="314.3" r="1.8"/><circle cx="424.4" cy="302.8" r="1.8"/><circle cx="411.9" cy="307.6" r="1.8"/><circle cx="405.0" cy="254.6" r="1.8"/><circle cx="376.6" cy="321.7" r="1.8"/><circle cx="361.4" cy="274.2" r="1.8"/><circle cx="388.4" cy="264.5" r="1.8"/><circle cx="334.1" cy="286.0" r="1.8"/><circle cx="377.5" cy="266.9" r="1.8"/><circle cx="430.1" cy="296.7" r="1.8"/><circle cx="379.7" cy="255.3" r="1.8"/><circle cx="353.4" cy="315.3" r="1.8"/><circle cx="333.4" cy="289.2" r="1.8"/><circle cx="347.8" cy="268.1" r="1.8"/><circle cx="422.1" cy="262.5" r="1.8"/><circle cx="351.7" cy="274.5" r="1.8"/><circle cx="343.8" cy="286.3" r="1.8"/><circle cx="390.9" cy="311.7" r="1.8"/><circle cx="435.4" cy="296.8" r="1.8"/><circle cx="364.7" cy="299.3" r="1.8"/><circle cx="370.0" cy="315.4" r="1.8"/><circle cx="377.3" cy="330.4" r="1.8"/><circle cx="406.0" cy="276.6" r="1.8"/><circle cx="387.5" cy="251.8" r="1.8"/><circle cx="442.1" cy="291.1" r="1.8"/><circle cx="385.2" cy="318.0" r="1.8"/><circle cx="440.1" cy="274.6" r="1.8"/><circle cx="398.8" cy="258.2" r="1.8"/><circle cx="358.9" cy="287.1" r="1.8"/><circle cx="357.7" cy="277.4" r="1.8"/><circle cx="397.5" cy="314.8" r="1.8"/><circle cx="427.4" cy="298.3" r="1.8"/><circle cx="424.5" cy="288.9" r="1.8"/><circle cx="411.6" cy="297.0" r="1.8"/><circle cx="371.0" cy="275.8" r="1.8"/><circle cx="382.5" cy="309.2" r="1.8"/><circle cx="374.5" cy="328.6" r="1.8"/><circle cx="345.9" cy="269.1" r="1.8"/><circle cx="371.6" cy="317.0" r="1.8"/><circle cx="425.9" cy="287.9" r="1.8"/><circle cx="375.1" cy="265.6" r="1.8"/><circle cx="311.3" cy="288.4" r="1.8"/><circle cx="381.7" cy="258.8" r="1.8"/><circle cx="408.7" cy="265.1" r="1.8"/><circle cx="436.8" cy="275.5" r="1.8"/><circle cx="325.7" cy="277.2" r="1.8"/><circle cx="444.4" cy="311.4" r="1.8"/><circle cx="411.5" cy="305.6" r="1.8"/><circle cx="425.9" cy="284.7" r="1.8"/><circle cx="415.3" cy="298.1" r="1.8"/><circle cx="393.8" cy="309.5" r="1.8"/><circle cx="375.6" cy="253.0" r="1.8"/><circle cx="431.9" cy="303.5" r="1.8"/><circle cx="347.0" cy="316.0" r="1.8"/><circle cx="425.5" cy="288.5" r="1.8"/><circle cx="372.5" cy="271.3" r="1.8"/><circle cx="432.6" cy="294.5" r="1.8"/><circle cx="383.8" cy="321.7" r="1.8"/><circle cx="414.7" cy="294.9" r="1.8"/><circle cx="416.0" cy="258.1" r="1.8"/><circle cx="369.8" cy="317.0" r="1.8"/><circle cx="380.2" cy="261.1" r="1.8"/><circle cx="402.3" cy="274.9" r="1.8"/><circle cx="407.2" cy="277.3" r="1.8"/><circle cx="402.4" cy="274.1" r="1.8"/><circle cx="406.3" cy="276.2" r="1.8"/><circle cx="420.6" cy="290.4" r="1.8"/><circle cx="421.5" cy="257.7" r="1.8"/><circle cx="382.3" cy="269.3" r="1.8"/><circle cx="334.1" cy="289.7" r="1.8"/><circle cx="340.6" cy="283.3" r="1.8"/><circle cx="371.0" cy="264.4" r="1.8"/><circle cx="389.9" cy="261.6" r="1.8"/><circle cx="367.5" cy="260.4" r="1.8"/><circle cx="352.4" cy="290.9" r="1.8"/><circle cx="351.5" cy="304.5" r="1.8"/><circle cx="386.2" cy="261.4" r="1.8"/><circle cx="433.6" cy="287.1" r="1.8"/><circle cx="410.3" cy="276.2" r="1.8"/><circle cx="430.5" cy="285.6" r="1.8"/><circle cx="371.4" cy="261.5" r="1.8"/><circle cx="413.7" cy="268.7" r="1.8"/><circle cx="374.0" cy="319.0" r="1.8"/><circle cx="435.3" cy="299.5" r="1.8"/><circle cx="467.5" cy="286.2" r="1.8"/><circle cx="360.2" cy="297.7" r="1.8"/><circle cx="371.1" cy="301.1" r="1.8"/><circle cx="395.3" cy="333.5" r="1.8"/><circle cx="413.1" cy="308.8" r="1.8"/><circle cx="366.7" cy="264.9" r="1.8"/><circle cx="340.4" cy="291.6" r="1.8"/><circle cx="403.4" cy="317.4" r="1.8"/><circle cx="355.2" cy="306.0" r="1.8"/><circle cx="399.1" cy="265.2" r="1.8"/><circle cx="396.0" cy="339.6" r="1.8"/><circle cx="368.8" cy="308.9" r="1.8"/><circle cx="423.2" cy="289.3" r="1.8"/><circle cx="387.0" cy="312.4" r="1.8"/><circle cx="338.5" cy="294.9" r="1.8"/><circle cx="434.3" cy="294.7" r="1.8"/><circle cx="355.1" cy="305.3" r="1.8"/><circle cx="365.1" cy="270.7" r="1.8"/><circle cx="343.7" cy="267.0" r="1.8"/><circle cx="403.1" cy="267.0" r="1.8"/><circle cx="367.1" cy="319.8" r="1.8"/><circle cx="346.7" cy="301.3" r="1.8"/><circle cx="352.7" cy="298.4" r="1.8"/><circle cx="382.1" cy="307.9" r="1.8"/><circle cx="371.4" cy="316.9" r="1.8"/><circle cx="353.9" cy="301.6" r="1.8"/><circle cx="445.0" cy="295.6" r="1.8"/><circle cx="363.8" cy="279.0" r="1.8"/><circle cx="386.0" cy="267.2" r="1.8"/><circle cx="408.3" cy="264.4" r="1.8"/><circle cx="409.1" cy="257.1" r="1.8"/><circle cx="398.4" cy="316.3" r="1.8"/><circle cx="370.5" cy="301.4" r="1.8"/><circle cx="385.4" cy="260.7" r="1.8"/><circle cx="434.4" cy="295.4" r="1.8"/><circle cx="407.5" cy="276.0" r="1.8"/><circle cx="335.4" cy="277.0" r="1.8"/><circle cx="440.3" cy="297.4" r="1.8"/><circle cx="411.7" cy="300.2" r="1.8"/><circle cx="353.9" cy="284.6" r="1.8"/><circle cx="346.3" cy="303.0" r="1.8"/><circle cx="398.9" cy="321.1" r="1.8"/><circle cx="387.6" cy="329.9" r="1.8"/><circle cx="335.3" cy="290.8" r="1.8"/><circle cx="388.0" cy="325.2" r="1.8"/><circle cx="378.3" cy="316.9" r="1.8"/><circle cx="365.4" cy="309.2" r="1.8"/><circle cx="394.8" cy="270.9" r="1.8"/><circle cx="343.3" cy="292.8" r="1.8"/><circle cx="349.7" cy="298.9" r="1.8"/><circle cx="379.5" cy="309.1" r="1.8"/><circle cx="429.2" cy="281.5" r="1.8"/><circle cx="362.9" cy="258.6" r="1.8"/><circle cx="437.4" cy="290.4" r="1.8"/><circle cx="340.4" cy="279.2" r="1.8"/><circle cx="424.4" cy="278.3" r="1.8"/><circle cx="371.4" cy="325.9" r="1.8"/><circle cx="441.8" cy="278.3" r="1.8"/><circle cx="338.4" cy="300.5" r="1.8"/><circle cx="375.8" cy="273.8" r="1.8"/><circle cx="374.6" cy="268.2" r="1.8"/><circle cx="379.2" cy="258.8" r="1.8"/><circle cx="404.2" cy="276.0" r="1.8"/><circle cx="424.7" cy="287.4" r="1.8"/><circle cx="411.3" cy="264.1" r="1.8"/><circle cx="413.5" cy="309.1" r="1.8"/><circle cx="349.6" cy="267.9" r="1.8"/><circle cx="450.4" cy="287.5" r="1.8"/><circle cx="366.6" cy="269.1" r="1.8"/><circle cx="430.0" cy="281.1" r="1.8"/><circle cx="441.4" cy="288.7" r="1.8"/><circle cx="369.9" cy="322.7" r="1.8"/><circle cx="355.1" cy="259.6" r="1.8"/><circle cx="387.3" cy="325.6" r="1.8"/><circle cx="359.6" cy="276.7" r="1.8"/><circle cx="391.9" cy="323.5" r="1.8"/><circle cx="351.6" cy="299.4" r="1.8"/><circle cx="347.3" cy="291.2" r="1.8"/><circle cx="386.4" cy="260.2" r="1.8"/><circle cx="398.4" cy="318.7" r="1.8"/><circle cx="396.2" cy="264.5" r="1.8"/><circle cx="400.9" cy="317.8" r="1.8"/><circle cx="406.9" cy="307.1" r="1.8"/><circle cx="317.4" cy="290.9" r="1.8"/><circle cx="364.9" cy="327.8" r="1.8"/><circle cx="351.0" cy="290.9" r="1.8"/><circle cx="387.5" cy="263.4" r="1.8"/><circle cx="337.9" cy="288.2" r="1.8"/><circle cx="424.3" cy="320.1" r="1.8"/><circle cx="351.3" cy="282.1" r="1.8"/><circle cx="362.5" cy="314.8" r="1.8"/><circle cx="416.0" cy="304.2" r="1.8"/><circle cx="354.9" cy="284.8" r="1.8"/><circle cx="405.6" cy="303.7" r="1.8"/><circle cx="361.8" cy="305.0" r="1.8"/><circle cx="431.0" cy="273.9" r="1.8"/><circle cx="390.0" cy="316.7" r="1.8"/><circle cx="377.2" cy="255.6" r="1.8"/><circle cx="410.5" cy="268.5" r="1.8"/><circle cx="401.7" cy="322.0" r="1.8"/><circle cx="351.3" cy="285.4" r="1.8"/><circle cx="360.0" cy="275.2" r="1.8"/><circle cx="414.7" cy="257.2" r="1.8"/><circle cx="351.5" cy="298.9" r="1.8"/><circle cx="427.1" cy="278.4" r="1.8"/><circle cx="358.7" cy="265.6" r="1.8"/><circle cx="378.3" cy="315.5" r="1.8"/><circle cx="404.8" cy="307.6" r="1.8"/><circle cx="395.6" cy="270.7" r="1.8"/><circle cx="377.3" cy="268.9" r="1.8"/><circle cx="428.1" cy="278.6" r="1.8"/><circle cx="375.1" cy="312.0" r="1.8"/><circle cx="343.9" cy="295.2" r="1.8"/><circle cx="330.6" cy="284.7" r="1.8"/><circle cx="364.6" cy="303.0" r="1.8"/><circle cx="368.6" cy="313.3" r="1.8"/><circle cx="447.6" cy="293.2" r="1.8"/><circle cx="334.1" cy="291.2" r="1.8"/><circle cx="343.6" cy="283.5" r="1.8"/><circle cx="408.0" cy="271.8" r="1.8"/><circle cx="357.2" cy="274.0" r="1.8"/><circle cx="326.2" cy="285.3" r="1.8"/><circle cx="385.3" cy="254.7" r="1.8"/><circle cx="389.2" cy="266.0" r="1.8"/><circle cx="338.4" cy="292.2" r="1.8"/><circle cx="429.2" cy="281.7" r="1.8"/><circle cx="414.5" cy="305.8" r="1.8"/><circle cx="404.4" cy="264.4" r="1.8"/><circle cx="388.8" cy="309.8" r="1.8"/><circle cx="367.3" cy="312.2" r="1.8"/><circle cx="449.3" cy="297.6" r="1.8"/><circle cx="339.2" cy="285.7" r="1.8"/><circle cx="421.7" cy="269.0" r="1.8"/><circle cx="401.6" cy="331.4" r="1.8"/><circle cx="336.3" cy="300.5" r="1.8"/><circle cx="378.6" cy="311.5" r="1.8"/><circle cx="362.1" cy="303.1" r="1.8"/><circle cx="397.4" cy="318.0" r="1.8"/><circle cx="407.0" cy="252.8" r="1.8"/><circle cx="330.5" cy="284.3" r="1.8"/><circle cx="388.6" cy="313.4" r="1.8"/><circle cx="420.4" cy="266.9" r="1.8"/><circle cx="397.0" cy="312.8" r="1.8"/><circle cx="370.8" cy="273.8" r="1.8"/><circle cx="408.7" cy="307.2" r="1.8"/><circle cx="431.2" cy="289.9" r="1.8"/><circle cx="384.0" cy="314.6" r="1.8"/><circle cx="388.1" cy="320.8" r="1.8"/><circle cx="342.2" cy="287.8" r="1.8"/><circle cx="410.6" cy="303.2" r="1.8"/><circle cx="426.9" cy="308.4" r="1.8"/><circle cx="351.0" cy="273.9" r="1.8"/><circle cx="364.8" cy="300.6" r="1.8"/><circle cx="438.6" cy="278.4" r="1.8"/><circle cx="345.3" cy="277.3" r="1.8"/><circle cx="391.9" cy="317.6" r="1.8"/><circle cx="399.6" cy="269.0" r="1.8"/><circle cx="447.0" cy="295.0" r="1.8"/><circle cx="372.9" cy="311.7" r="1.8"/><circle cx="371.4" cy="319.8" r="1.8"/><circle cx="358.3" cy="272.0" r="1.8"/><circle cx="409.9" cy="310.2" r="1.8"/><circle cx="430.4" cy="278.9" r="1.8"/><circle cx="429.1" cy="289.2" r="1.8"/><circle cx="365.8" cy="310.9" r="1.8"/><circle cx="397.5" cy="319.7" r="1.8"/><circle cx="441.1" cy="287.7" r="1.8"/><circle cx="354.0" cy="285.8" r="1.8"/><circle cx="419.9" cy="279.6" r="1.8"/><circle cx="382.2" cy="309.9" r="1.8"/><circle cx="366.8" cy="267.2" r="1.8"/><circle cx="344.0" cy="298.9" r="1.8"/><circle cx="424.4" cy="273.5" r="1.8"/><circle cx="359.7" cy="287.5" r="1.8"/><circle cx="401.1" cy="325.3" r="1.8"/><circle cx="355.7" cy="308.5" r="1.8"/><circle cx="424.7" cy="273.2" r="1.8"/><circle cx="334.9" cy="293.6" r="1.8"/><circle cx="363.6" cy="271.9" r="1.8"/><circle cx="364.4" cy="273.8" r="1.8"/><circle cx="405.9" cy="278.5" r="1.8"/><circle cx="339.6" cy="287.1" r="1.8"/><circle cx="416.5" cy="286.3" r="1.8"/><circle cx="350.5" cy="285.9" r="1.8"/><circle cx="353.9" cy="281.3" r="1.8"/><circle cx="420.7" cy="299.8" r="1.8"/><circle cx="370.5" cy="301.4" r="1.8"/><circle cx="354.4" cy="271.1" r="1.8"/><circle cx="402.2" cy="273.0" r="1.8"/><circle cx="390.1" cy="259.0" r="1.8"/><circle cx="360.8" cy="294.1" r="1.8"/><circle cx="420.1" cy="291.6" r="1.8"/><circle cx="438.9" cy="293.8" r="1.8"/><circle cx="406.1" cy="274.9" r="1.8"/><circle cx="399.0" cy="327.4" r="1.8"/><circle cx="385.0" cy="317.8" r="1.8"/><circle cx="439.5" cy="294.4" r="1.8"/><circle cx="345.2" cy="297.4" r="1.8"/><circle cx="383.6" cy="309.0" r="1.8"/><circle cx="389.6" cy="319.8" r="1.8"/><circle cx="393.0" cy="257.4" r="1.8"/><circle cx="322.6" cy="295.4" r="1.8"/><circle cx="406.1" cy="262.9" r="1.8"/><circle cx="344.4" cy="296.1" r="1.8"/><circle cx="363.0" cy="297.6" r="1.8"/><circle cx="391.6" cy="327.0" r="1.8"/><circle cx="398.4" cy="320.3" r="1.8"/><circle cx="371.1" cy="265.8" r="1.8"/><circle cx="410.3" cy="313.0" r="1.8"/><circle cx="379.5" cy="251.1" r="1.8"/><circle cx="371.7" cy="260.2" r="1.8"/><circle cx="421.6" cy="281.8" r="1.8"/><circle cx="431.9" cy="260.5" r="1.8"/><circle cx="402.3" cy="269.5" r="1.8"/><circle cx="330.2" cy="296.5" r="1.8"/><circle cx="425.3" cy="275.7" r="1.8"/><circle cx="397.9" cy="312.9" r="1.8"/><circle cx="378.1" cy="311.6" r="1.8"/><circle cx="402.2" cy="266.6" r="1.8"/><circle cx="414.9" cy="277.7" r="1.8"/><circle cx="393.2" cy="323.2" r="1.8"/><circle cx="347.5" cy="284.6" r="1.8"/><circle cx="405.5" cy="320.2" r="1.8"/><circle cx="362.3" cy="305.1" r="1.8"/><circle cx="413.4" cy="315.9" r="1.8"/><circle cx="401.5" cy="313.2" r="1.8"/><circle cx="363.3" cy="310.6" r="1.8"/><circle cx="396.1" cy="322.0" r="1.8"/><circle cx="398.2" cy="263.6" r="1.8"/><circle cx="406.7" cy="316.3" r="1.8"/><circle cx="409.0" cy="314.3" r="1.8"/><circle cx="422.5" cy="285.5" r="1.8"/><circle cx="354.3" cy="294.0" r="1.8"/><circle cx="427.1" cy="280.3" r="1.8"/><circle cx="421.6" cy="299.3" r="1.8"/><circle cx="449.1" cy="296.4" r="1.8"/><circle cx="380.9" cy="339.3" r="1.8"/><circle cx="462.9" cy="289.3" r="1.8"/><circle cx="366.2" cy="298.2" r="1.8"/><circle cx="427.8" cy="259.5" r="1.8"/><circle cx="421.8" cy="292.0" r="1.8"/><circle cx="432.1" cy="276.8" r="1.8"/><circle cx="368.4" cy="312.2" r="1.8"/><circle cx="378.4" cy="329.4" r="1.8"/><circle cx="418.3" cy="258.9" r="1.8"/><circle cx="425.1" cy="299.5" r="1.8"/><circle cx="371.3" cy="304.0" r="1.8"/><circle cx="380.3" cy="315.8" r="1.8"/><circle cx="388.2" cy="250.0" r="1.8"/><circle cx="341.9" cy="268.8" r="1.8"/><circle cx="407.5" cy="318.0" r="1.8"/><circle cx="388.5" cy="316.5" r="1.8"/><circle cx="398.2" cy="256.6" r="1.8"/><circle cx="402.0" cy="266.2" r="1.8"/><circle cx="386.8" cy="329.4" r="1.8"/><circle cx="333.2" cy="299.9" r="1.8"/><circle cx="377.0" cy="265.5" r="1.8"/><circle cx="436.3" cy="277.2" r="1.8"/><circle cx="354.9" cy="308.6" r="1.8"/><circle cx="434.5" cy="281.7" r="1.8"/><circle cx="394.3" cy="308.2" r="1.8"/><circle cx="447.3" cy="285.2" r="1.8"/><circle cx="331.8" cy="271.0" r="1.8"/><circle cx="370.3" cy="304.7" r="1.8"/><circle cx="429.3" cy="288.9" r="1.8"/><circle cx="340.5" cy="289.9" r="1.8"/><circle cx="448.8" cy="279.3" r="1.8"/><circle cx="406.3" cy="276.8" r="1.8"/><circle cx="340.0" cy="288.6" r="1.8"/><circle cx="419.9" cy="317.2" r="1.8"/><circle cx="429.0" cy="280.6" r="1.8"/><circle cx="425.2" cy="298.5" r="1.8"/><circle cx="350.5" cy="295.7" r="1.8"/><circle cx="329.0" cy="305.4" r="1.8"/><circle cx="439.3" cy="310.1" r="1.8"/><circle cx="443.3" cy="294.1" r="1.8"/><circle cx="335.7" cy="283.8" r="1.8"/><circle cx="361.7" cy="303.8" r="1.8"/><circle cx="334.1" cy="306.8" r="1.8"/><circle cx="428.8" cy="284.3" r="1.8"/><circle cx="404.0" cy="310.4" r="1.8"/><circle cx="386.5" cy="319.4" r="1.8"/><circle cx="341.6" cy="275.3" r="1.8"/><circle cx="341.3" cy="293.0" r="1.8"/><circle cx="432.5" cy="302.4" r="1.8"/><circle cx="393.4" cy="266.4" r="1.8"/><circle cx="350.7" cy="288.5" r="1.8"/><circle cx="423.5" cy="282.8" r="1.8"/><circle cx="395.8" cy="262.1" r="1.8"/><circle cx="422.2" cy="293.1" r="1.8"/><circle cx="414.3" cy="262.2" r="1.8"/><circle cx="457.6" cy="282.0" r="1.8"/><circle cx="436.4" cy="287.4" r="1.8"/><circle cx="393.5" cy="264.6" r="1.8"/><circle cx="374.6" cy="247.9" r="1.8"/><circle cx="412.0" cy="277.4" r="1.8"/><circle cx="344.1" cy="285.4" r="1.8"/><circle cx="417.7" cy="268.7" r="1.8"/><circle cx="419.3" cy="257.1" r="1.8"/><circle cx="376.2" cy="330.9" r="1.8"/><circle cx="404.9" cy="274.9" r="1.8"/><circle cx="431.2" cy="290.5" r="1.8"/><circle cx="383.9" cy="324.8" r="1.8"/><circle cx="385.2" cy="326.3" r="1.8"/><circle cx="351.3" cy="272.3" r="1.8"/><circle cx="409.8" cy="311.3" r="1.8"/><circle cx="331.7" cy="285.4" r="1.8"/><circle cx="418.2" cy="286.4" r="1.8"/><circle cx="388.3" cy="269.0" r="1.8"/><circle cx="362.8" cy="309.6" r="1.8"/><circle cx="432.9" cy="291.6" r="1.8"/><circle cx="358.2" cy="266.8" r="1.8"/><circle cx="336.9" cy="288.9" r="1.8"/><circle cx="419.4" cy="307.4" r="1.8"/><circle cx="423.2" cy="287.5" r="1.8"/><circle cx="435.4" cy="292.8" r="1.8"/><circle cx="417.9" cy="282.8" r="1.8"/><circle cx="362.9" cy="308.3" r="1.8"/><circle cx="395.8" cy="266.9" r="1.8"/><circle cx="388.5" cy="328.1" r="1.8"/><circle cx="416.2" cy="271.9" r="1.8"/><circle cx="408.1" cy="275.7" r="1.8"/><circle cx="419.6" cy="267.5" r="1.8"/><circle cx="405.7" cy="277.1" r="1.8"/><circle cx="327.8" cy="284.8" r="1.8"/><circle cx="396.9" cy="316.0" r="1.8"/><circle cx="368.3" cy="268.7" r="1.8"/><circle cx="368.5" cy="266.2" r="1.8"/><circle cx="416.5" cy="280.1" r="1.8"/><circle cx="358.0" cy="275.8" r="1.8"/><circle cx="373.9" cy="312.5" r="1.8"/><circle cx="419.7" cy="307.9" r="1.8"/><circle cx="395.3" cy="325.7" r="1.8"/><circle cx="435.7" cy="294.4" r="1.8"/><circle cx="398.6" cy="321.9" r="1.8"/><circle cx="388.1" cy="263.8" r="1.8"/><circle cx="361.4" cy="304.5" r="1.8"/><circle cx="337.6" cy="280.7" r="1.8"/><circle cx="370.3" cy="306.4" r="1.8"/><circle cx="437.1" cy="298.1" r="1.8"/><circle cx="388.8" cy="325.9" r="1.8"/><circle cx="384.1" cy="249.3" r="1.8"/><circle cx="418.3" cy="271.5" r="1.8"/><circle cx="330.9" cy="284.8" r="1.8"/><circle cx="437.5" cy="267.1" r="1.8"/><circle cx="420.1" cy="271.2" r="1.8"/><circle cx="340.4" cy="291.9" r="1.8"/><circle cx="415.1" cy="299.6" r="1.8"/><circle cx="410.0" cy="306.1" r="1.8"/><circle cx="388.4" cy="315.5" r="1.8"/><circle cx="336.3" cy="288.0" r="1.8"/><circle cx="356.5" cy="271.3" r="1.8"/><circle cx="409.0" cy="271.1" r="1.8"/><circle cx="424.5" cy="314.3" r="1.8"/><circle cx="391.0" cy="314.4" r="1.8"/><circle cx="445.3" cy="303.7" r="1.8"/><circle cx="412.7" cy="273.1" r="1.8"/><circle cx="349.2" cy="260.7" r="1.8"/><circle cx="346.1" cy="287.2" r="1.8"/><circle cx="390.0" cy="323.9" r="1.8"/><circle cx="357.2" cy="276.5" r="1.8"/><circle cx="412.4" cy="301.7" r="1.8"/><circle cx="371.8" cy="271.3" r="1.8"/><circle cx="381.6" cy="270.2" r="1.8"/><circle cx="384.9" cy="242.8" r="1.8"/><circle cx="324.1" cy="299.4" r="1.8"/><circle cx="392.0" cy="326.4" r="1.8"/><circle cx="403.3" cy="310.6" r="1.8"/><circle cx="383.5" cy="265.2" r="1.8"/><circle cx="393.9" cy="266.1" r="1.8"/><circle cx="389.8" cy="326.2" r="1.8"/><circle cx="390.9" cy="265.2" r="1.8"/><circle cx="350.0" cy="271.5" r="1.8"/><circle cx="365.7" cy="299.2" r="1.8"/><circle cx="449.1" cy="281.5" r="1.8"/><circle cx="421.4" cy="275.8" r="1.8"/><circle cx="375.9" cy="321.6" r="1.8"/><circle cx="318.6" cy="285.7" r="1.8"/><circle cx="441.2" cy="274.0" r="1.8"/><circle cx="369.0" cy="268.0" r="1.8"/><circle cx="424.0" cy="303.2" r="1.8"/><circle cx="398.5" cy="319.9" r="1.8"/><circle cx="373.7" cy="255.5" r="1.8"/><circle cx="370.7" cy="270.7" r="1.8"/><circle cx="355.8" cy="289.4" r="1.8"/><circle cx="354.9" cy="293.3" r="1.8"/><circle cx="414.3" cy="312.3" r="1.8"/><circle cx="338.0" cy="268.6" r="1.8"/><circle cx="452.3" cy="290.6" r="1.8"/><circle cx="344.9" cy="287.6" r="1.8"/><circle cx="420.8" cy="321.7" r="1.8"/><circle cx="446.3" cy="301.5" r="1.8"/><circle cx="332.7" cy="293.8" r="1.8"/><circle cx="354.7" cy="270.5" r="1.8"/><circle cx="416.0" cy="255.3" r="1.8"/><circle cx="418.0" cy="301.7" r="1.8"/><circle cx="434.1" cy="283.0" r="1.8"/><circle cx="406.1" cy="309.5" r="1.8"/><circle cx="406.3" cy="319.8" r="1.8"/><circle cx="379.6" cy="309.7" r="1.8"/><circle cx="411.2" cy="301.1" r="1.8"/><circle cx="338.9" cy="282.1" r="1.8"/><circle cx="431.1" cy="301.7" r="1.8"/><circle cx="418.9" cy="298.5" r="1.8"/><circle cx="407.0" cy="302.5" r="1.8"/><circle cx="317.8" cy="290.6" r="1.8"/><circle cx="364.1" cy="278.9" r="1.8"/><circle cx="369.0" cy="301.8" r="1.8"/><circle cx="363.8" cy="275.6" r="1.8"/><circle cx="383.3" cy="260.3" r="1.8"/><circle cx="405.0" cy="252.9" r="1.8"/><circle cx="339.9" cy="290.9" r="1.8"/><circle cx="418.2" cy="314.9" r="1.8"/><circle cx="346.3" cy="291.3" r="1.8"/><circle cx="429.9" cy="284.7" r="1.8"/><circle cx="350.1" cy="304.3" r="1.8"/><circle cx="369.1" cy="304.9" r="1.8"/><circle cx="413.5" cy="279.6" r="1.8"/><circle cx="343.8" cy="283.9" r="1.8"/><circle cx="334.3" cy="299.3" r="1.8"/><circle cx="427.2" cy="278.1" r="1.8"/><circle cx="413.2" cy="307.3" r="1.8"/><circle cx="432.4" cy="296.2" r="1.8"/><circle cx="409.4" cy="314.6" r="1.8"/><circle cx="390.0" cy="331.1" r="1.8"/><circle cx="423.0" cy="319.6" r="1.8"/><circle cx="371.8" cy="276.8" r="1.8"/><circle cx="414.9" cy="308.3" r="1.8"/><circle cx="362.7" cy="306.5" r="1.8"/><circle cx="395.6" cy="264.0" r="1.8"/><circle cx="390.8" cy="323.5" r="1.8"/><circle cx="388.9" cy="266.6" r="1.8"/><circle cx="371.3" cy="307.0" r="1.8"/><circle cx="372.3" cy="265.5" r="1.8"/><circle cx="430.6" cy="296.0" r="1.8"/><circle cx="374.8" cy="269.5" r="1.8"/><circle cx="348.2" cy="290.5" r="1.8"/><circle cx="351.7" cy="300.5" r="1.8"/><circle cx="415.7" cy="271.3" r="1.8"/><circle cx="421.3" cy="305.8" r="1.8"/><circle cx="417.9" cy="287.0" r="1.8"/><circle cx="446.1" cy="284.6" r="1.8"/><circle cx="441.6" cy="293.9" r="1.8"/><circle cx="347.8" cy="293.3" r="1.8"/><circle cx="359.7" cy="309.4" r="1.8"/><circle cx="426.3" cy="288.5" r="1.8"/><circle cx="387.7" cy="255.2" r="1.8"/><circle cx="419.8" cy="293.2" r="1.8"/><circle cx="357.4" cy="277.2" r="1.8"/><circle cx="407.6" cy="308.0" r="1.8"/><circle cx="406.9" cy="322.5" r="1.8"/><circle cx="354.9" cy="298.3" r="1.8"/><circle cx="423.9" cy="274.5" r="1.8"/><circle cx="395.5" cy="309.0" r="1.8"/><circle cx="437.8" cy="285.3" r="1.8"/><circle cx="446.5" cy="283.0" r="1.8"/><circle cx="452.0" cy="296.4" r="1.8"/><circle cx="346.2" cy="315.4" r="1.8"/><circle cx="342.1" cy="264.7" r="1.8"/><circle cx="353.5" cy="305.7" r="1.8"/><circle cx="396.8" cy="263.4" r="1.8"/><circle cx="330.5" cy="290.5" r="1.8"/><circle cx="386.7" cy="270.0" r="1.8"/><circle cx="354.5" cy="273.3" r="1.8"/><circle cx="355.4" cy="314.3" r="1.8"/><circle cx="363.7" cy="297.3" r="1.8"/><circle cx="380.2" cy="324.7" r="1.8"/><circle cx="432.7" cy="302.2" r="1.8"/><circle cx="336.9" cy="282.4" r="1.8"/><circle cx="403.3" cy="309.8" r="1.8"/><circle cx="404.9" cy="310.9" r="1.8"/><circle cx="420.2" cy="312.5" r="1.8"/><circle cx="365.4" cy="301.7" r="1.8"/><circle cx="377.2" cy="266.0" r="1.8"/><circle cx="366.1" cy="301.2" r="1.8"/><circle cx="347.6" cy="302.3" r="1.8"/><circle cx="390.3" cy="257.0" r="1.8"/><circle cx="439.9" cy="295.8" r="1.8"/><circle cx="330.8" cy="290.8" r="1.8"/><circle cx="413.1" cy="296.4" r="1.8"/><circle cx="387.4" cy="257.6" r="1.8"/><circle cx="430.1" cy="289.5" r="1.8"/><circle cx="329.5" cy="297.2" r="1.8"/><circle cx="335.8" cy="299.0" r="1.8"/><circle cx="372.4" cy="274.1" r="1.8"/><circle cx="386.9" cy="251.9" r="1.8"/><circle cx="443.5" cy="290.3" r="1.8"/><circle cx="363.3" cy="302.8" r="1.8"/><circle cx="397.1" cy="268.1" r="1.8"/><circle cx="366.7" cy="327.9" r="1.8"/><circle cx="348.4" cy="285.1" r="1.8"/><circle cx="346.4" cy="272.2" r="1.8"/><circle cx="417.9" cy="274.1" r="1.8"/><circle cx="430.8" cy="285.9" r="1.8"/><circle cx="418.7" cy="286.9" r="1.8"/><circle cx="460.7" cy="292.9" r="1.8"/><circle cx="382.6" cy="314.9" r="1.8"/><circle cx="427.3" cy="314.2" r="1.8"/><circle cx="448.9" cy="295.5" r="1.8"/><circle cx="360.1" cy="298.0" r="1.8"/><circle cx="429.4" cy="294.2" r="1.8"/><circle cx="409.3" cy="313.9" r="1.8"/><circle cx="364.5" cy="269.3" r="1.8"/><circle cx="392.7" cy="317.4" r="1.8"/><circle cx="387.4" cy="321.5" r="1.8"/><circle cx="382.2" cy="265.5" r="1.8"/><circle cx="423.5" cy="272.8" r="1.8"/><circle cx="389.4" cy="254.0" r="1.8"/><circle cx="388.3" cy="320.1" r="1.8"/><circle cx="418.6" cy="328.6" r="1.8"/><circle cx="390.5" cy="324.0" r="1.8"/><circle cx="362.0" cy="296.6" r="1.8"/><circle cx="404.0" cy="269.3" r="1.8"/><circle cx="386.5" cy="339.8" r="1.8"/><circle cx="423.9" cy="317.8" r="1.8"/><circle cx="370.4" cy="310.3" r="1.8"/><circle cx="419.8" cy="267.7" r="1.8"/><circle cx="350.6" cy="292.8" r="1.8"/><circle cx="398.4" cy="272.4" r="1.8"/><circle cx="408.7" cy="276.4" r="1.8"/><circle cx="427.3" cy="290.9" r="1.8"/><circle cx="424.8" cy="301.8" r="1.8"/><circle cx="366.8" cy="262.8" r="1.8"/><circle cx="382.1" cy="310.8" r="1.8"/><circle cx="343.8" cy="276.8" r="1.8"/><circle cx="414.1" cy="301.3" r="1.8"/><circle cx="431.8" cy="293.0" r="1.8"/><circle cx="418.4" cy="309.6" r="1.8"/><circle cx="384.9" cy="312.2" r="1.8"/><circle cx="361.8" cy="315.8" r="1.8"/><circle cx="432.0" cy="287.2" r="1.8"/><circle cx="376.3" cy="269.8" r="1.8"/><circle cx="364.4" cy="323.2" r="1.8"/><circle cx="395.7" cy="260.0" r="1.8"/><circle cx="385.8" cy="315.4" r="1.8"/><circle cx="415.4" cy="255.7" r="1.8"/><circle cx="365.0" cy="275.3" r="1.8"/><circle cx="388.4" cy="314.3" r="1.8"/><circle cx="396.7" cy="334.4" r="1.8"/><circle cx="374.5" cy="247.8" r="1.8"/><circle cx="383.2" cy="260.7" r="1.8"/><circle cx="435.5" cy="283.2" r="1.8"/><circle cx="425.5" cy="308.4" r="1.8"/><circle cx="389.0" cy="316.0" r="1.8"/><circle cx="418.1" cy="278.8" r="1.8"/><circle cx="349.7" cy="311.0" r="1.8"/><circle cx="395.4" cy="266.5" r="1.8"/><circle cx="398.0" cy="272.0" r="1.8"/><circle cx="421.8" cy="262.7" r="1.8"/><circle cx="423.7" cy="284.2" r="1.8"/><circle cx="378.0" cy="246.3" r="1.8"/><circle cx="360.6" cy="264.6" r="1.8"/><circle cx="333.8" cy="277.4" r="1.8"/><circle cx="370.5" cy="258.7" r="1.8"/><circle cx="351.9" cy="290.3" r="1.8"/><circle cx="390.2" cy="252.5" r="1.8"/><circle cx="410.1" cy="301.3" r="1.8"/><circle cx="339.0" cy="285.8" r="1.8"/><circle cx="335.5" cy="284.4" r="1.8"/><circle cx="376.1" cy="311.5" r="1.8"/><circle cx="402.3" cy="305.9" r="1.8"/><circle cx="369.4" cy="308.9" r="1.8"/><circle cx="421.1" cy="298.0" r="1.8"/><circle cx="402.6" cy="309.7" r="1.8"/><circle cx="396.0" cy="309.1" r="1.8"/><circle cx="387.0" cy="320.6" r="1.8"/><circle cx="391.2" cy="329.4" r="1.8"/><circle cx="352.7" cy="277.0" r="1.8"/><circle cx="375.5" cy="261.4" r="1.8"/><circle cx="396.7" cy="251.1" r="1.8"/><circle cx="441.9" cy="274.3" r="1.8"/><circle cx="361.6" cy="303.0" r="1.8"/><circle cx="387.3" cy="328.9" r="1.8"/><circle cx="345.4" cy="286.0" r="1.8"/><circle cx="369.1" cy="268.3" r="1.8"/><circle cx="407.4" cy="319.5" r="1.8"/><circle cx="418.0" cy="298.1" r="1.8"/><circle cx="421.2" cy="286.6" r="1.8"/><circle cx="440.2" cy="288.6" r="1.8"/><circle cx="406.3" cy="308.4" r="1.8"/><circle cx="373.3" cy="263.0" r="1.8"/><circle cx="367.7" cy="266.9" r="1.8"/><circle cx="405.6" cy="316.7" r="1.8"/><circle cx="368.2" cy="260.7" r="1.8"/><circle cx="388.6" cy="320.7" r="1.8"/><circle cx="389.5" cy="321.1" r="1.8"/><circle cx="378.9" cy="316.5" r="1.8"/><circle cx="375.4" cy="269.7" r="1.8"/><circle cx="335.8" cy="290.0" r="1.8"/><circle cx="439.7" cy="291.7" r="1.8"/><circle cx="378.4" cy="315.4" r="1.8"/><circle cx="397.5" cy="331.5" r="1.8"/><circle cx="344.9" cy="265.6" r="1.8"/><circle cx="419.4" cy="293.4" r="1.8"/><circle cx="335.4" cy="281.9" r="1.8"/><circle cx="360.4" cy="268.4" r="1.8"/><circle cx="360.6" cy="281.6" r="1.8"/><circle cx="340.4" cy="292.8" r="1.8"/><circle cx="390.3" cy="317.7" r="1.8"/><circle cx="419.0" cy="283.7" r="1.8"/><circle cx="368.4" cy="271.1" r="1.8"/><circle cx="358.4" cy="253.4" r="1.8"/><circle cx="373.5" cy="322.3" r="1.8"/><circle cx="390.1" cy="254.7" r="1.8"/><circle cx="325.6" cy="281.2" r="1.8"/><circle cx="370.0" cy="265.9" r="1.8"/><circle cx="398.5" cy="310.0" r="1.8"/><circle cx="335.7" cy="293.9" r="1.8"/><circle cx="421.6" cy="298.3" r="1.8"/><circle cx="346.1" cy="292.0" r="1.8"/><circle cx="357.9" cy="283.0" r="1.8"/><circle cx="412.3" cy="277.6" r="1.8"/><circle cx="412.0" cy="264.3" r="1.8"/><circle cx="380.5" cy="311.0" r="1.8"/><circle cx="423.7" cy="289.9" r="1.8"/><circle cx="354.3" cy="295.8" r="1.8"/><circle cx="367.7" cy="317.1" r="1.8"/><circle cx="350.1" cy="278.8" r="1.8"/><circle cx="351.3" cy="291.9" r="1.8"/><circle cx="422.2" cy="292.4" r="1.8"/><circle cx="363.8" cy="321.5" r="1.8"/><circle cx="376.4" cy="314.7" r="1.8"/><circle cx="426.7" cy="289.4" r="1.8"/><circle cx="342.1" cy="306.7" r="1.8"/><circle cx="425.8" cy="283.4" r="1.8"/><circle cx="368.6" cy="266.9" r="1.8"/><circle cx="414.8" cy="276.2" r="1.8"/><circle cx="389.6" cy="254.3" r="1.8"/><circle cx="343.7" cy="287.1" r="1.8"/><circle cx="403.7" cy="325.9" r="1.8"/><circle cx="441.8" cy="289.9" r="1.8"/><circle cx="397.1" cy="325.3" r="1.8"/><circle cx="423.8" cy="269.9" r="1.8"/><circle cx="423.9" cy="288.5" r="1.8"/><circle cx="394.4" cy="253.8" r="1.8"/><circle cx="423.8" cy="303.5" r="1.8"/><circle cx="377.9" cy="307.0" r="1.8"/><circle cx="439.9" cy="295.0" r="1.8"/><circle cx="377.6" cy="309.0" r="1.8"/><circle cx="412.7" cy="304.5" r="1.8"/><circle cx="386.4" cy="325.3" r="1.8"/><circle cx="398.6" cy="259.7" r="1.8"/><circle cx="426.4" cy="293.3" r="1.8"/><circle cx="427.7" cy="315.9" r="1.8"/><circle cx="410.3" cy="333.9" r="1.8"/><circle cx="438.7" cy="279.5" r="1.8"/><circle cx="382.2" cy="319.1" r="1.8"/><circle cx="426.3" cy="300.6" r="1.8"/><circle cx="377.6" cy="268.3" r="1.8"/><circle cx="365.8" cy="273.2" r="1.8"/><circle cx="344.1" cy="274.4" r="1.8"/><circle cx="365.3" cy="261.1" r="1.8"/><circle cx="349.8" cy="292.7" r="1.8"/><circle cx="403.9" cy="311.6" r="1.8"/><circle cx="371.1" cy="306.5" r="1.8"/><circle cx="354.9" cy="302.6" r="1.8"/><circle cx="376.1" cy="260.4" r="1.8"/><circle cx="371.6" cy="260.9" r="1.8"/><circle cx="360.8" cy="285.3" r="1.8"/><circle cx="327.6" cy="277.8" r="1.8"/><circle cx="416.9" cy="286.4" r="1.8"/><circle cx="391.5" cy="318.3" r="1.8"/><circle cx="330.1" cy="291.4" r="1.8"/><circle cx="403.9" cy="246.4" r="1.8"/><circle cx="376.8" cy="309.8" r="1.8"/><circle cx="414.7" cy="263.6" r="1.8"/><circle cx="357.3" cy="290.7" r="1.8"/><circle cx="373.6" cy="264.8" r="1.8"/><circle cx="434.5" cy="299.0" r="1.8"/><circle cx="338.1" cy="280.3" r="1.8"/><circle cx="338.2" cy="302.0" r="1.8"/><circle cx="407.3" cy="309.1" r="1.8"/><circle cx="406.7" cy="278.0" r="1.8"/><circle cx="467.6" cy="291.3" r="1.8"/><circle cx="333.1" cy="285.7" r="1.8"/><circle cx="325.8" cy="288.2" r="1.8"/><circle cx="346.6" cy="297.7" r="1.8"/><circle cx="446.0" cy="279.6" r="1.8"/><circle cx="358.3" cy="316.2" r="1.8"/><circle cx="362.9" cy="321.1" r="1.8"/><circle cx="401.1" cy="268.7" r="1.8"/><circle cx="370.7" cy="308.0" r="1.8"/><circle cx="432.5" cy="290.1" r="1.8"/><circle cx="367.9" cy="261.4" r="1.8"/><circle cx="376.3" cy="313.2" r="1.8"/><circle cx="359.0" cy="286.0" r="1.8"/><circle cx="412.1" cy="281.5" r="1.8"/><circle cx="414.1" cy="295.0" r="1.8"/><circle cx="402.0" cy="261.3" r="1.8"/><circle cx="430.8" cy="282.1" r="1.8"/><circle cx="397.5" cy="316.4" r="1.8"/><circle cx="440.0" cy="269.1" r="1.8"/><circle cx="409.7" cy="267.8" r="1.8"/><circle cx="420.0" cy="297.0" r="1.8"/><circle cx="367.4" cy="312.2" r="1.8"/><circle cx="376.6" cy="265.6" r="1.8"/><circle cx="348.7" cy="289.1" r="1.8"/><circle cx="380.5" cy="271.8" r="1.8"/><circle cx="385.5" cy="248.3" r="1.8"/><circle cx="401.5" cy="270.3" r="1.8"/><circle cx="369.0" cy="323.5" r="1.8"/><circle cx="389.8" cy="309.4" r="1.8"/><circle cx="439.5" cy="288.0" r="1.8"/><circle cx="362.0" cy="297.3" r="1.8"/><circle cx="334.7" cy="287.3" r="1.8"/><circle cx="346.8" cy="298.7" r="1.8"/><circle cx="315.7" cy="290.4" r="1.8"/><circle cx="403.4" cy="314.1" r="1.8"/><circle cx="442.7" cy="288.6" r="1.8"/><circle cx="335.8" cy="292.5" r="1.8"/><circle cx="451.1" cy="291.4" r="1.8"/><circle cx="366.2" cy="263.7" r="1.8"/><circle cx="349.0" cy="298.8" r="1.8"/><circle cx="367.2" cy="300.7" r="1.8"/><circle cx="373.0" cy="302.5" r="1.8"/><circle cx="419.8" cy="289.4" r="1.8"/><circle cx="425.8" cy="278.9" r="1.8"/><circle cx="345.3" cy="284.9" r="1.8"/><circle cx="438.6" cy="289.7" r="1.8"/><circle cx="396.4" cy="309.9" r="1.8"/><circle cx="408.9" cy="259.6" r="1.8"/><circle cx="390.1" cy="320.5" r="1.8"/><circle cx="434.3" cy="293.7" r="1.8"/><circle cx="429.2" cy="299.3" r="1.8"/><circle cx="419.3" cy="298.4" r="1.8"/><circle cx="447.7" cy="284.4" r="1.8"/><circle cx="392.7" cy="309.5" r="1.8"/><circle cx="441.0" cy="294.7" r="1.8"/><circle cx="402.8" cy="274.2" r="1.8"/><circle cx="389.8" cy="323.0" r="1.8"/><circle cx="366.7" cy="277.4" r="1.8"/><circle cx="378.6" cy="307.5" r="1.8"/><circle cx="395.0" cy="258.5" r="1.8"/><circle cx="361.9" cy="296.9" r="1.8"/><circle cx="348.8" cy="294.4" r="1.8"/><circle cx="416.2" cy="272.5" r="1.8"/><circle cx="409.5" cy="277.5" r="1.8"/><circle cx="425.4" cy="280.5" r="1.8"/><circle cx="422.7" cy="285.4" r="1.8"/><circle cx="424.3" cy="291.1" r="1.8"/><circle cx="409.9" cy="251.7" r="1.8"/><circle cx="408.5" cy="313.2" r="1.8"/><circle cx="402.9" cy="330.6" r="1.8"/><circle cx="376.0" cy="269.3" r="1.8"/><circle cx="363.9" cy="271.8" r="1.8"/><circle cx="354.8" cy="277.8" r="1.8"/><circle cx="377.7" cy="324.9" r="1.8"/><circle cx="397.1" cy="272.1" r="1.8"/><circle cx="351.1" cy="304.5" r="1.8"/><circle cx="413.4" cy="302.4" r="1.8"/><circle cx="441.1" cy="285.5" r="1.8"/><circle cx="414.5" cy="273.6" r="1.8"/><circle cx="358.0" cy="275.9" r="1.8"/><circle cx="378.2" cy="324.2" r="1.8"/><circle cx="431.9" cy="287.8" r="1.8"/><circle cx="377.8" cy="318.4" r="1.8"/><circle cx="387.4" cy="321.5" r="1.8"/><circle cx="412.9" cy="257.1" r="1.8"/><circle cx="384.9" cy="263.8" r="1.8"/><circle cx="428.3" cy="313.6" r="1.8"/><circle cx="437.1" cy="295.9" r="1.8"/><circle cx="408.4" cy="306.0" r="1.8"/><circle cx="378.6" cy="242.1" r="1.8"/><circle cx="354.5" cy="263.6" r="1.8"/><circle cx="416.3" cy="275.8" r="1.8"/><circle cx="381.2" cy="268.3" r="1.8"/><circle cx="451.6" cy="282.1" r="1.8"/><circle cx="340.6" cy="286.1" r="1.8"/><circle cx="418.6" cy="279.3" r="1.8"/><circle cx="417.7" cy="315.9" r="1.8"/><circle cx="390.9" cy="259.0" r="1.8"/><circle cx="382.2" cy="312.3" r="1.8"/><circle cx="437.2" cy="296.7" r="1.8"/><circle cx="377.1" cy="315.0" r="1.8"/><circle cx="369.5" cy="304.2" r="1.8"/><circle cx="377.5" cy="273.6" r="1.8"/><circle cx="368.1" cy="312.1" r="1.8"/><circle cx="364.9" cy="302.2" r="1.8"/><circle cx="409.9" cy="329.7" r="1.8"/><circle cx="459.6" cy="285.7" r="1.8"/><circle cx="423.3" cy="305.7" r="1.8"/><circle cx="387.9" cy="310.3" r="1.8"/><circle cx="404.1" cy="261.9" r="1.8"/><circle cx="420.8" cy="299.9" r="1.8"/><circle cx="445.7" cy="281.4" r="1.8"/><circle cx="382.2" cy="321.0" r="1.8"/><circle cx="435.3" cy="274.9" r="1.8"/><circle cx="380.8" cy="323.4" r="1.8"/><circle cx="420.1" cy="273.0" r="1.8"/><circle cx="370.2" cy="306.5" r="1.8"/><circle cx="356.7" cy="315.2" r="1.8"/><circle cx="353.5" cy="291.0" r="1.8"/><circle cx="420.7" cy="281.5" r="1.8"/><circle cx="321.6" cy="277.4" r="1.8"/><circle cx="398.2" cy="270.7" r="1.8"/><circle cx="387.7" cy="318.0" r="1.8"/><circle cx="354.6" cy="293.5" r="1.8"/><circle cx="342.4" cy="300.1" r="1.8"/><circle cx="354.0" cy="308.8" r="1.8"/><circle cx="419.9" cy="266.9" r="1.8"/><circle cx="410.8" cy="305.7" r="1.8"/><circle cx="408.0" cy="302.0" r="1.8"/><circle cx="395.3" cy="321.2" r="1.8"/><circle cx="383.0" cy="321.7" r="1.8"/><circle cx="406.8" cy="321.5" r="1.8"/><circle cx="421.4" cy="300.9" r="1.8"/><circle cx="366.4" cy="312.2" r="1.8"/><circle cx="356.3" cy="314.0" r="1.8"/><circle cx="386.5" cy="267.4" r="1.8"/><circle cx="369.0" cy="268.3" r="1.8"/><circle cx="351.6" cy="259.2" r="1.8"/><circle cx="431.9" cy="271.9" r="1.8"/><circle cx="422.7" cy="298.1" r="1.8"/><circle cx="420.7" cy="304.1" r="1.8"/><circle cx="402.9" cy="269.7" r="1.8"/><circle cx="444.8" cy="291.0" r="1.8"/><circle cx="436.8" cy="299.6" r="1.8"/><circle cx="366.0" cy="308.1" r="1.8"/><circle cx="361.3" cy="267.6" r="1.8"/><circle cx="348.3" cy="272.8" r="1.8"/><circle cx="424.3" cy="300.9" r="1.8"/><circle cx="358.1" cy="298.6" r="1.8"/><circle cx="393.2" cy="324.9" r="1.8"/><circle cx="390.1" cy="253.0" r="1.8"/><circle cx="391.3" cy="326.6" r="1.8"/><circle cx="466.4" cy="289.4" r="1.8"/><circle cx="349.6" cy="286.9" r="1.8"/><circle cx="399.8" cy="312.0" r="1.8"/><circle cx="370.7" cy="270.3" r="1.8"/><circle cx="370.5" cy="306.9" r="1.8"/><circle cx="312.9" cy="291.5" r="1.8"/><circle cx="398.5" cy="270.3" r="1.8"/><circle cx="398.5" cy="257.2" r="1.8"/><circle cx="419.6" cy="294.0" r="1.8"/><circle cx="432.4" cy="298.6" r="1.8"/><circle cx="360.3" cy="275.9" r="1.8"/><circle cx="402.1" cy="266.5" r="1.8"/><circle cx="426.9" cy="282.9" r="1.8"/><circle cx="393.6" cy="250.9" r="1.8"/><circle cx="377.5" cy="250.3" r="1.8"/><circle cx="395.3" cy="334.4" r="1.8"/><circle cx="376.0" cy="258.3" r="1.8"/><circle cx="359.0" cy="303.0" r="1.8"/><circle cx="377.9" cy="260.2" r="1.8"/><circle cx="351.7" cy="298.0" r="1.8"/><circle cx="335.5" cy="309.1" r="1.8"/><circle cx="369.9" cy="320.4" r="1.8"/><circle cx="440.1" cy="313.4" r="1.8"/><circle cx="352.3" cy="275.4" r="1.8"/><circle cx="400.9" cy="270.4" r="1.8"/><circle cx="394.2" cy="269.3" r="1.8"/><circle cx="394.4" cy="262.9" r="1.8"/><circle cx="402.5" cy="260.1" r="1.8"/><circle cx="420.4" cy="314.0" r="1.8"/><circle cx="357.1" cy="297.4" r="1.8"/><circle cx="359.4" cy="280.3" r="1.8"/><circle cx="436.0" cy="299.6" r="1.8"/><circle cx="399.1" cy="255.1" r="1.8"/><circle cx="381.5" cy="334.9" r="1.8"/><circle cx="390.8" cy="260.1" r="1.8"/><circle cx="404.0" cy="307.1" r="1.8"/><circle cx="432.8" cy="284.4" r="1.8"/><circle cx="377.4" cy="273.1" r="1.8"/><circle cx="426.5" cy="279.6" r="1.8"/><circle cx="419.9" cy="270.8" r="1.8"/><circle cx="381.9" cy="253.0" r="1.8"/><circle cx="372.2" cy="273.1" r="1.8"/><circle cx="356.6" cy="281.9" r="1.8"/><circle cx="424.7" cy="314.0" r="1.8"/><circle cx="353.3" cy="296.0" r="1.8"/><circle cx="383.7" cy="271.4" r="1.8"/><circle cx="401.0" cy="245.3" r="1.8"/><circle cx="396.4" cy="316.7" r="1.8"/><circle cx="424.4" cy="278.5" r="1.8"/><circle cx="440.6" cy="281.3" r="1.8"/><circle cx="363.5" cy="314.5" r="1.8"/><circle cx="420.1" cy="303.8" r="1.8"/><circle cx="442.8" cy="284.8" r="1.8"/><circle cx="382.4" cy="242.7" r="1.8"/><circle cx="410.1" cy="274.5" r="1.8"/><circle cx="417.5" cy="278.3" r="1.8"/><circle cx="415.5" cy="296.5" r="1.8"/><circle cx="386.1" cy="258.8" r="1.8"/><circle cx="373.7" cy="304.0" r="1.8"/><circle cx="377.2" cy="256.0" r="1.8"/><circle cx="394.9" cy="323.2" r="1.8"/><circle cx="375.1" cy="261.9" r="1.8"/><circle cx="348.1" cy="262.9" r="1.8"/><circle cx="427.8" cy="314.4" r="1.8"/><circle cx="441.8" cy="293.5" r="1.8"/><circle cx="393.5" cy="271.1" r="1.8"/><circle cx="364.4" cy="270.1" r="1.8"/><circle cx="353.7" cy="258.8" r="1.8"/><circle cx="317.5" cy="284.8" r="1.8"/><circle cx="382.1" cy="308.3" r="1.8"/><circle cx="386.1" cy="255.1" r="1.8"/><circle cx="418.8" cy="275.2" r="1.8"/><circle cx="400.6" cy="312.2" r="1.8"/><circle cx="352.6" cy="263.3" r="1.8"/><circle cx="405.6" cy="277.2" r="1.8"/><circle cx="393.7" cy="320.0" r="1.8"/><circle cx="403.2" cy="327.0" r="1.8"/><circle cx="376.7" cy="304.9" r="1.8"/><circle cx="345.3" cy="265.5" r="1.8"/><circle cx="398.4" cy="315.6" r="1.8"/><circle cx="451.6" cy="273.1" r="1.8"/><circle cx="419.5" cy="266.8" r="1.8"/><circle cx="445.6" cy="292.8" r="1.8"/><circle cx="397.5" cy="314.9" r="1.8"/><circle cx="417.5" cy="267.9" r="1.8"/><circle cx="357.3" cy="276.1" r="1.8"/><circle cx="434.8" cy="273.5" r="1.8"/><circle cx="337.9" cy="295.3" r="1.8"/><circle cx="394.6" cy="322.4" r="1.8"/><circle cx="361.7" cy="310.6" r="1.8"/><circle cx="377.3" cy="273.8" r="1.8"/><circle cx="405.2" cy="301.3" r="1.8"/><circle cx="414.0" cy="278.6" r="1.8"/><circle cx="424.3" cy="307.3" r="1.8"/><circle cx="419.0" cy="316.5" r="1.8"/><circle cx="411.5" cy="303.4" r="1.8"/><circle cx="397.0" cy="241.5" r="1.8"/><circle cx="428.1" cy="273.7" r="1.8"/><circle cx="387.0" cy="313.4" r="1.8"/><circle cx="418.2" cy="277.6" r="1.8"/><circle cx="333.2" cy="300.6" r="1.8"/><circle cx="399.6" cy="313.7" r="1.8"/><circle cx="358.9" cy="279.7" r="1.8"/><circle cx="377.1" cy="262.6" r="1.8"/><circle cx="353.7" cy="295.2" r="1.8"/><circle cx="342.6" cy="293.3" r="1.8"/><circle cx="405.5" cy="328.5" r="1.8"/><circle cx="385.2" cy="323.6" r="1.8"/><circle cx="375.9" cy="317.4" r="1.8"/><circle cx="321.0" cy="285.2" r="1.8"/><circle cx="382.7" cy="336.9" r="1.8"/><circle cx="339.4" cy="292.7" r="1.8"/><circle cx="345.7" cy="298.1" r="1.8"/><circle cx="412.8" cy="308.1" r="1.8"/><circle cx="392.3" cy="267.8" r="1.8"/><circle cx="370.3" cy="319.5" r="1.8"/><circle cx="391.5" cy="265.6" r="1.8"/><circle cx="449.4" cy="285.5" r="1.8"/><circle cx="432.3" cy="281.4" r="1.8"/><circle cx="348.1" cy="288.7" r="1.8"/><circle cx="362.8" cy="262.1" r="1.8"/><circle cx="409.7" cy="301.0" r="1.8"/><circle cx="402.9" cy="320.8" r="1.8"/><circle cx="388.6" cy="257.4" r="1.8"/><circle cx="380.2" cy="267.3" r="1.8"/><circle cx="437.3" cy="304.3" r="1.8"/><circle cx="437.7" cy="274.9" r="1.8"/><circle cx="405.9" cy="274.6" r="1.8"/><circle cx="380.3" cy="309.9" r="1.8"/><circle cx="349.3" cy="281.2" r="1.8"/><circle cx="365.6" cy="319.8" r="1.8"/><circle cx="369.8" cy="300.2" r="1.8"/><circle cx="370.1" cy="267.2" r="1.8"/><circle cx="412.5" cy="265.3" r="1.8"/><circle cx="444.2" cy="270.7" r="1.8"/><circle cx="439.8" cy="295.0" r="1.8"/><circle cx="417.8" cy="316.6" r="1.8"/><circle cx="366.3" cy="309.5" r="1.8"/><circle cx="373.5" cy="263.5" r="1.8"/><circle cx="402.6" cy="313.1" r="1.8"/><circle cx="399.8" cy="305.7" r="1.8"/><circle cx="407.1" cy="274.5" r="1.8"/><circle cx="349.1" cy="314.4" r="1.8"/><circle cx="429.4" cy="294.3" r="1.8"/><circle cx="387.2" cy="247.9" r="1.8"/><circle cx="342.6" cy="273.2" r="1.8"/><circle cx="420.4" cy="264.7" r="1.8"/><circle cx="425.8" cy="307.8" r="1.8"/><circle cx="424.9" cy="295.3" r="1.8"/><circle cx="399.5" cy="304.6" r="1.8"/><circle cx="358.1" cy="276.1" r="1.8"/><circle cx="400.1" cy="310.4" r="1.8"/><circle cx="376.0" cy="306.9" r="1.8"/><circle cx="379.3" cy="256.6" r="1.8"/><circle cx="379.0" cy="333.0" r="1.8"/><circle cx="381.0" cy="317.6" r="1.8"/><circle cx="416.2" cy="304.4" r="1.8"/><circle cx="361.3" cy="278.4" r="1.8"/><circle cx="431.5" cy="292.1" r="1.8"/><circle cx="362.6" cy="270.6" r="1.8"/><circle cx="380.0" cy="311.1" r="1.8"/><circle cx="348.4" cy="269.9" r="1.8"/><circle cx="443.2" cy="287.5" r="1.8"/><circle cx="353.4" cy="279.3" r="1.8"/><circle cx="404.4" cy="306.1" r="1.8"/><circle cx="381.5" cy="311.4" r="1.8"/><circle cx="366.5" cy="266.1" r="1.8"/><circle cx="346.6" cy="308.1" r="1.8"/><circle cx="388.6" cy="331.6" r="1.8"/><circle cx="371.0" cy="275.2" r="1.8"/><circle cx="350.9" cy="299.9" r="1.8"/><circle cx="323.2" cy="279.0" r="1.8"/><circle cx="418.4" cy="291.3" r="1.8"/><circle cx="419.1" cy="281.2" r="1.8"/><circle cx="383.6" cy="271.5" r="1.8"/><circle cx="398.7" cy="265.1" r="1.8"/><circle cx="351.1" cy="271.6" r="1.8"/><circle cx="429.9" cy="280.3" r="1.8"/><circle cx="325.6" cy="288.5" r="1.8"/><circle cx="408.4" cy="304.8" r="1.8"/><circle cx="346.6" cy="285.5" r="1.8"/><circle cx="391.9" cy="316.6" r="1.8"/><circle cx="383.4" cy="259.5" r="1.8"/><circle cx="353.0" cy="302.6" r="1.8"/><circle cx="371.5" cy="267.9" r="1.8"/><circle cx="383.7" cy="260.5" r="1.8"/><circle cx="387.9" cy="258.2" r="1.8"/><circle cx="427.1" cy="290.2" r="1.8"/><circle cx="351.9" cy="276.5" r="1.8"/><circle cx="367.9" cy="304.8" r="1.8"/><circle cx="419.8" cy="272.3" r="1.8"/><circle cx="362.8" cy="300.7" r="1.8"/><circle cx="344.4" cy="292.4" r="1.8"/><circle cx="336.0" cy="287.0" r="1.8"/><circle cx="333.9" cy="289.8" r="1.8"/><circle cx="441.1" cy="285.0" r="1.8"/><circle cx="395.8" cy="321.5" r="1.8"/><circle cx="399.3" cy="309.8" r="1.8"/><circle cx="353.0" cy="309.7" r="1.8"/><circle cx="343.9" cy="286.7" r="1.8"/><circle cx="374.4" cy="308.5" r="1.8"/><circle cx="404.8" cy="263.5" r="1.8"/><circle cx="387.2" cy="311.2" r="1.8"/><circle cx="402.2" cy="308.7" r="1.8"/><circle cx="343.4" cy="293.9" r="1.8"/><circle cx="357.4" cy="275.0" r="1.8"/><circle cx="421.6" cy="313.2" r="1.8"/><circle cx="394.9" cy="330.9" r="1.8"/><circle cx="358.2" cy="277.2" r="1.8"/><circle cx="416.1" cy="303.7" r="1.8"/><circle cx="413.8" cy="273.3" r="1.8"/><circle cx="394.7" cy="265.5" r="1.8"/><circle cx="391.3" cy="313.8" r="1.8"/><circle cx="447.2" cy="301.5" r="1.8"/><circle cx="348.7" cy="303.7" r="1.8"/><circle cx="341.6" cy="293.2" r="1.8"/><circle cx="328.3" cy="306.1" r="1.8"/><circle cx="376.1" cy="269.7" r="1.8"/><circle cx="411.0" cy="275.8" r="1.8"/><circle cx="348.2" cy="274.8" r="1.8"/><circle cx="412.3" cy="280.9" r="1.8"/><circle cx="350.6" cy="297.2" r="1.8"/><circle cx="352.3" cy="315.0" r="1.8"/><circle cx="322.3" cy="289.1" r="1.8"/><circle cx="380.9" cy="316.1" r="1.8"/><circle cx="361.2" cy="311.3" r="1.8"/><circle cx="375.8" cy="322.7" r="1.8"/><circle cx="358.5" cy="284.4" r="1.8"/><circle cx="370.8" cy="306.3" r="1.8"/><circle cx="363.6" cy="330.2" r="1.8"/><circle cx="400.1" cy="308.9" r="1.8"/><circle cx="394.4" cy="265.3" r="1.8"/><circle cx="377.9" cy="259.7" r="1.8"/><circle cx="337.9" cy="278.9" r="1.8"/><circle cx="381.6" cy="256.1" r="1.8"/><circle cx="410.9" cy="305.1" r="1.8"/><circle cx="427.2" cy="283.7" r="1.8"/><circle cx="397.4" cy="268.4" r="1.8"/><circle cx="350.6" cy="312.0" r="1.8"/><circle cx="355.0" cy="302.5" r="1.8"/><circle cx="414.1" cy="306.5" r="1.8"/><circle cx="381.2" cy="271.3" r="1.8"/><circle cx="434.5" cy="286.7" r="1.8"/><circle cx="359.5" cy="312.3" r="1.8"/><circle cx="375.6" cy="327.3" r="1.8"/><circle cx="409.6" cy="318.1" r="1.8"/><circle cx="410.2" cy="271.5" r="1.8"/><circle cx="435.2" cy="272.4" r="1.8"/><circle cx="447.9" cy="303.4" r="1.8"/><circle cx="426.0" cy="321.3" r="1.8"/><circle cx="391.5" cy="268.2" r="1.8"/><circle cx="384.5" cy="317.6" r="1.8"/><circle cx="336.2" cy="294.2" r="1.8"/><circle cx="410.7" cy="297.8" r="1.8"/><circle cx="355.3" cy="290.9" r="1.8"/><circle cx="423.1" cy="272.9" r="1.8"/><circle cx="405.8" cy="254.2" r="1.8"/><circle cx="335.3" cy="283.2" r="1.8"/><circle cx="444.6" cy="283.7" r="1.8"/><circle cx="345.6" cy="301.9" r="1.8"/><circle cx="379.3" cy="326.6" r="1.8"/><circle cx="347.7" cy="271.6" r="1.8"/><circle cx="425.3" cy="277.4" r="1.8"/><circle cx="428.0" cy="270.1" r="1.8"/><circle cx="330.5" cy="303.6" r="1.8"/><circle cx="352.1" cy="277.3" r="1.8"/><circle cx="368.1" cy="311.2" r="1.8"/><circle cx="338.3" cy="293.5" r="1.8"/><circle cx="325.5" cy="299.1" r="1.8"/><circle cx="425.7" cy="286.1" r="1.8"/><circle cx="426.6" cy="300.9" r="1.8"/><circle cx="355.6" cy="295.6" r="1.8"/><circle cx="436.7" cy="298.8" r="1.8"/><circle cx="306.7" cy="290.5" r="1.8"/><circle cx="343.8" cy="269.3" r="1.8"/><circle cx="361.0" cy="283.1" r="1.8"/><circle cx="400.5" cy="320.5" r="1.8"/><circle cx="366.0" cy="318.4" r="1.8"/><circle cx="340.1" cy="295.2" r="1.8"/><circle cx="386.5" cy="319.1" r="1.8"/><circle cx="374.2" cy="272.5" r="1.8"/><circle cx="432.5" cy="290.8" r="1.8"/><circle cx="414.0" cy="282.5" r="1.8"/><circle cx="377.4" cy="273.3" r="1.8"/><circle cx="398.7" cy="313.8" r="1.8"/><circle cx="409.8" cy="314.7" r="1.8"/><circle cx="431.9" cy="283.3" r="1.8"/><circle cx="397.4" cy="253.4" r="1.8"/><circle cx="399.5" cy="258.5" r="1.8"/><circle cx="429.8" cy="279.1" r="1.8"/><circle cx="387.7" cy="323.1" r="1.8"/><circle cx="421.2" cy="267.3" r="1.8"/><circle cx="373.3" cy="308.1" r="1.8"/><circle cx="346.2" cy="286.6" r="1.8"/><circle cx="434.7" cy="285.9" r="1.8"/><circle cx="379.1" cy="306.1" r="1.8"/><circle cx="395.4" cy="307.6" r="1.8"/><circle cx="427.3" cy="313.9" r="1.8"/><circle cx="416.7" cy="298.2" r="1.8"/><circle cx="390.1" cy="322.3" r="1.8"/><circle cx="428.8" cy="309.5" r="1.8"/><circle cx="354.9" cy="283.1" r="1.8"/><circle cx="365.3" cy="307.3" r="1.8"/><circle cx="397.2" cy="319.2" r="1.8"/><circle cx="348.7" cy="289.9" r="1.8"/><circle cx="379.5" cy="258.5" r="1.8"/><circle cx="330.9" cy="294.8" r="1.8"/><circle cx="352.5" cy="292.6" r="1.8"/><circle cx="378.8" cy="311.1" r="1.8"/><circle cx="342.5" cy="282.5" r="1.8"/><circle cx="366.8" cy="272.7" r="1.8"/><circle cx="395.8" cy="271.3" r="1.8"/><circle cx="347.8" cy="290.4" r="1.8"/><circle cx="344.2" cy="289.1" r="1.8"/><circle cx="363.8" cy="305.3" r="1.8"/><circle cx="427.7" cy="270.6" r="1.8"/><circle cx="363.8" cy="276.6" r="1.8"/><circle cx="373.9" cy="302.6" r="1.8"/><circle cx="393.3" cy="265.7" r="1.8"/><circle cx="417.7" cy="287.0" r="1.8"/><circle cx="430.9" cy="300.9" r="1.8"/><circle cx="336.3" cy="310.5" r="1.8"/><circle cx="362.1" cy="308.8" r="1.8"/><circle cx="388.7" cy="257.1" r="1.8"/><circle cx="424.1" cy="281.2" r="1.8"/><circle cx="350.3" cy="292.7" r="1.8"/><circle cx="430.5" cy="300.1" r="1.8"/><circle cx="355.4" cy="280.0" r="1.8"/><circle cx="431.1" cy="307.1" r="1.8"/><circle cx="338.0" cy="291.5" r="1.8"/><circle cx="348.0" cy="301.5" r="1.8"/><circle cx="379.5" cy="263.0" r="1.8"/><circle cx="405.7" cy="260.5" r="1.8"/><circle cx="379.2" cy="271.3" r="1.8"/><circle cx="404.2" cy="315.5" r="1.8"/><circle cx="399.6" cy="307.6" r="1.8"/><circle cx="420.6" cy="297.3" r="1.8"/><circle cx="424.0" cy="304.2" r="1.8"/><circle cx="380.0" cy="327.6" r="1.8"/><circle cx="356.5" cy="276.4" r="1.8"/><circle cx="409.2" cy="328.6" r="1.8"/><circle cx="374.3" cy="307.3" r="1.8"/><circle cx="428.2" cy="284.4" r="1.8"/><circle cx="406.7" cy="302.4" r="1.8"/><circle cx="396.5" cy="264.3" r="1.8"/><circle cx="426.9" cy="273.1" r="1.8"/><circle cx="347.8" cy="281.9" r="1.8"/><circle cx="421.2" cy="289.2" r="1.8"/><circle cx="369.6" cy="270.2" r="1.8"/><circle cx="394.0" cy="324.8" r="1.8"/><circle cx="414.3" cy="269.9" r="1.8"/><circle cx="416.1" cy="315.4" r="1.8"/><circle cx="390.9" cy="313.4" r="1.8"/><circle cx="377.2" cy="320.9" r="1.8"/><circle cx="437.9" cy="292.2" r="1.8"/><circle cx="394.4" cy="266.8" r="1.8"/><circle cx="426.7" cy="303.1" r="1.8"/><circle cx="382.3" cy="256.0" r="1.8"/><circle cx="418.2" cy="309.4" r="1.8"/><circle cx="359.4" cy="308.5" r="1.8"/><circle cx="404.3" cy="302.2" r="1.8"/><circle cx="401.2" cy="262.9" r="1.8"/><circle cx="350.2" cy="297.7" r="1.8"/><circle cx="413.9" cy="304.3" r="1.8"/><circle cx="377.0" cy="317.9" r="1.8"/><circle cx="405.7" cy="305.2" r="1.8"/><circle cx="414.0" cy="272.7" r="1.8"/><circle cx="420.1" cy="303.1" r="1.8"/><circle cx="412.7" cy="297.0" r="1.8"/><circle cx="395.1" cy="272.3" r="1.8"/><circle cx="423.1" cy="284.4" r="1.8"/><circle cx="419.0" cy="307.4" r="1.8"/><circle cx="376.1" cy="271.7" r="1.8"/><circle cx="387.0" cy="255.1" r="1.8"/><circle cx="375.8" cy="260.4" r="1.8"/><circle cx="404.0" cy="314.1" r="1.8"/><circle cx="372.9" cy="269.9" r="1.8"/><circle cx="354.9" cy="295.6" r="1.8"/><circle cx="355.5" cy="277.9" r="1.8"/><circle cx="388.4" cy="267.2" r="1.8"/><circle cx="451.9" cy="280.8" r="1.8"/><circle cx="440.8" cy="295.9" r="1.8"/><circle cx="431.0" cy="305.2" r="1.8"/><circle cx="421.0" cy="268.2" r="1.8"/><circle cx="356.6" cy="274.1" r="1.8"/><circle cx="422.6" cy="278.0" r="1.8"/><circle cx="395.6" cy="259.9" r="1.8"/><circle cx="354.1" cy="271.1" r="1.8"/><circle cx="348.5" cy="311.7" r="1.8"/><circle cx="385.3" cy="261.1" r="1.8"/><circle cx="312.0" cy="289.8" r="1.8"/><circle cx="375.2" cy="264.5" r="1.8"/><circle cx="413.2" cy="271.1" r="1.8"/><circle cx="421.9" cy="271.6" r="1.8"/><circle cx="349.9" cy="297.2" r="1.8"/><circle cx="365.9" cy="268.6" r="1.8"/><circle cx="428.1" cy="288.8" r="1.8"/><circle cx="420.2" cy="285.0" r="1.8"/><circle cx="428.6" cy="319.3" r="1.8"/><circle cx="339.6" cy="306.9" r="1.8"/><circle cx="390.7" cy="251.8" r="1.8"/><circle cx="363.4" cy="275.6" r="1.8"/><circle cx="436.4" cy="267.4" r="1.8"/><circle cx="442.2" cy="270.7" r="1.8"/><circle cx="433.1" cy="279.8" r="1.8"/><circle cx="423.5" cy="291.3" r="1.8"/><circle cx="363.7" cy="273.2" r="1.8"/><circle cx="423.9" cy="273.0" r="1.8"/><circle cx="317.4" cy="280.8" r="1.8"/><circle cx="402.3" cy="324.9" r="1.8"/><circle cx="377.6" cy="270.6" r="1.8"/><circle cx="442.8" cy="282.7" r="1.8"/><circle cx="431.2" cy="300.2" r="1.8"/><circle cx="366.4" cy="250.3" r="1.8"/><circle cx="346.0" cy="288.2" r="1.8"/><circle cx="417.8" cy="298.4" r="1.8"/><circle cx="417.3" cy="299.0" r="1.8"/><circle cx="355.8" cy="279.4" r="1.8"/><circle cx="359.6" cy="262.6" r="1.8"/><circle cx="368.5" cy="280.3" r="1.8"/><circle cx="349.6" cy="307.9" r="1.8"/><circle cx="374.0" cy="308.7" r="1.8"/><circle cx="442.8" cy="284.7" r="1.8"/><circle cx="348.7" cy="295.6" r="1.8"/><circle cx="356.2" cy="283.7" r="1.8"/><circle cx="412.7" cy="268.9" r="1.8"/><circle cx="387.0" cy="265.6" r="1.8"/><circle cx="362.2" cy="304.1" r="1.8"/><circle cx="393.9" cy="325.1" r="1.8"/><circle cx="418.0" cy="279.5" r="1.8"/><circle cx="389.9" cy="253.4" r="1.8"/><circle cx="356.2" cy="282.4" r="1.8"/><circle cx="333.5" cy="286.9" r="1.8"/><circle cx="379.7" cy="318.2" r="1.8"/><circle cx="420.5" cy="308.6" r="1.8"/><circle cx="413.4" cy="282.7" r="1.8"/><circle cx="368.2" cy="272.2" r="1.8"/><circle cx="432.2" cy="278.6" r="1.8"/><circle cx="422.3" cy="306.0" r="1.8"/><circle cx="320.3" cy="294.7" r="1.8"/><circle cx="386.6" cy="254.5" r="1.8"/><circle cx="393.7" cy="256.9" r="1.8"/><circle cx="417.6" cy="307.1" r="1.8"/><circle cx="394.4" cy="254.1" r="1.8"/><circle cx="428.1" cy="304.9" r="1.8"/><circle cx="335.0" cy="296.0" r="1.8"/><circle cx="382.3" cy="260.9" r="1.8"/><circle cx="369.0" cy="275.8" r="1.8"/><circle cx="388.7" cy="335.8" r="1.8"/><circle cx="375.1" cy="316.0" r="1.8"/><circle cx="346.6" cy="292.7" r="1.8"/><circle cx="407.0" cy="319.0" r="1.8"/><circle cx="359.0" cy="276.5" r="1.8"/><circle cx="398.1" cy="263.9" r="1.8"/><circle cx="396.4" cy="319.3" r="1.8"/><circle cx="362.7" cy="265.1" r="1.8"/><circle cx="374.8" cy="306.0" r="1.8"/><circle cx="379.5" cy="305.7" r="1.8"/><circle cx="347.2" cy="296.7" r="1.8"/><circle cx="357.7" cy="291.8" r="1.8"/><circle cx="355.9" cy="291.9" r="1.8"/><circle cx="419.2" cy="321.9" r="1.8"/><circle cx="378.9" cy="259.1" r="1.8"/><circle cx="428.8" cy="304.2" r="1.8"/><circle cx="386.1" cy="258.9" r="1.8"/><circle cx="436.1" cy="286.3" r="1.8"/><circle cx="425.7" cy="292.7" r="1.8"/><circle cx="358.6" cy="305.4" r="1.8"/><circle cx="371.2" cy="311.3" r="1.8"/><circle cx="357.2" cy="288.3" r="1.8"/><circle cx="349.0" cy="286.2" r="1.8"/><circle cx="379.4" cy="329.0" r="1.8"/><circle cx="379.1" cy="253.9" r="1.8"/><circle cx="376.6" cy="319.1" r="1.8"/><circle cx="375.6" cy="263.0" r="1.8"/><circle cx="354.4" cy="268.1" r="1.8"/><circle cx="394.9" cy="245.5" r="1.8"/><circle cx="426.7" cy="289.2" r="1.8"/><circle cx="420.2" cy="321.7" r="1.8"/><circle cx="362.9" cy="309.1" r="1.8"/><circle cx="362.8" cy="272.6" r="1.8"/><circle cx="426.8" cy="289.1" r="1.8"/><circle cx="357.4" cy="270.8" r="1.8"/><circle cx="383.4" cy="266.6" r="1.8"/><circle cx="408.8" cy="313.0" r="1.8"/><circle cx="408.7" cy="310.2" r="1.8"/><circle cx="435.2" cy="273.2" r="1.8"/><circle cx="384.0" cy="322.5" r="1.8"/><circle cx="390.5" cy="266.4" r="1.8"/><circle cx="373.5" cy="326.7" r="1.8"/><circle cx="363.9" cy="252.8" r="1.8"/><circle cx="376.1" cy="253.0" r="1.8"/><circle cx="428.1" cy="286.0" r="1.8"/><circle cx="358.0" cy="282.2" r="1.8"/><circle cx="341.5" cy="283.8" r="1.8"/><circle cx="394.2" cy="316.4" r="1.8"/><circle cx="350.1" cy="270.9" r="1.8"/><circle cx="360.4" cy="305.5" r="1.8"/><circle cx="392.7" cy="264.3" r="1.8"/><circle cx="382.9" cy="250.6" r="1.8"/><circle cx="379.4" cy="318.2" r="1.8"/><circle cx="389.4" cy="329.8" r="1.8"/><circle cx="335.8" cy="285.5" r="1.8"/><circle cx="360.5" cy="297.2" r="1.8"/><circle cx="418.7" cy="284.1" r="1.8"/><circle cx="384.4" cy="245.6" r="1.8"/><circle cx="340.7" cy="284.9" r="1.8"/><circle cx="421.3" cy="290.2" r="1.8"/><circle cx="386.6" cy="317.5" r="1.8"/><circle cx="397.8" cy="330.1" r="1.8"/><circle cx="355.4" cy="255.4" r="1.8"/><circle cx="331.6" cy="284.2" r="1.8"/><circle cx="403.2" cy="307.9" r="1.8"/><circle cx="392.3" cy="320.6" r="1.8"/><circle cx="429.6" cy="281.7" r="1.8"/><circle cx="382.2" cy="328.5" r="1.8"/><circle cx="357.9" cy="284.7" r="1.8"/><circle cx="379.9" cy="335.8" r="1.8"/><circle cx="374.7" cy="275.0" r="1.8"/><circle cx="383.5" cy="314.5" r="1.8"/><circle cx="442.5" cy="285.6" r="1.8"/><circle cx="368.8" cy="250.8" r="1.8"/><circle cx="424.6" cy="310.7" r="1.8"/><circle cx="380.0" cy="256.2" r="1.8"/><circle cx="405.5" cy="272.6" r="1.8"/><circle cx="396.5" cy="263.9" r="1.8"/><circle cx="424.8" cy="284.0" r="1.8"/><circle cx="358.3" cy="290.3" r="1.8"/><circle cx="366.0" cy="264.6" r="1.8"/><circle cx="405.0" cy="314.1" r="1.8"/><circle cx="359.3" cy="304.3" r="1.8"/><circle cx="373.8" cy="302.8" r="1.8"/><circle cx="411.0" cy="323.2" r="1.8"/><circle cx="434.1" cy="290.0" r="1.8"/><circle cx="406.0" cy="261.7" r="1.8"/><circle cx="384.5" cy="253.5" r="1.8"/><circle cx="420.5" cy="274.8" r="1.8"/><circle cx="392.8" cy="312.3" r="1.8"/><circle cx="365.6" cy="268.7" r="1.8"/><circle cx="379.8" cy="322.1" r="1.8"/><circle cx="410.6" cy="308.1" r="1.8"/><circle cx="391.2" cy="263.8" r="1.8"/><circle cx="349.4" cy="315.2" r="1.8"/><circle cx="379.2" cy="309.1" r="1.8"/><circle cx="397.2" cy="264.7" r="1.8"/><circle cx="391.2" cy="308.9" r="1.8"/><circle cx="427.5" cy="299.1" r="1.8"/><circle cx="374.7" cy="261.8" r="1.8"/><circle cx="360.6" cy="278.8" r="1.8"/><circle cx="441.4" cy="277.1" r="1.8"/><circle cx="369.9" cy="313.0" r="1.8"/><circle cx="410.7" cy="268.0" r="1.8"/><circle cx="364.4" cy="266.0" r="1.8"/><circle cx="359.7" cy="274.4" r="1.8"/><circle cx="369.7" cy="270.1" r="1.8"/><circle cx="417.8" cy="277.8" r="1.8"/><circle cx="356.8" cy="300.7" r="1.8"/><circle cx="379.8" cy="272.5" r="1.8"/><circle cx="410.1" cy="323.8" r="1.8"/><circle cx="383.8" cy="269.6" r="1.8"/><circle cx="318.0" cy="293.5" r="1.8"/><circle cx="425.8" cy="263.2" r="1.8"/><circle cx="407.8" cy="301.4" r="1.8"/><circle cx="372.4" cy="258.0" r="1.8"/><circle cx="356.2" cy="266.7" r="1.8"/><circle cx="428.1" cy="287.0" r="1.8"/><circle cx="357.5" cy="309.2" r="1.8"/><circle cx="375.9" cy="312.5" r="1.8"/><circle cx="431.6" cy="294.0" r="1.8"/><circle cx="390.0" cy="254.6" r="1.8"/><circle cx="363.1" cy="309.9" r="1.8"/><circle cx="400.8" cy="323.0" r="1.8"/><circle cx="380.2" cy="266.2" r="1.8"/><circle cx="429.2" cy="281.6" r="1.8"/><circle cx="436.9" cy="283.9" r="1.8"/><circle cx="430.1" cy="283.8" r="1.8"/><circle cx="366.2" cy="269.9" r="1.8"/><circle cx="365.9" cy="270.9" r="1.8"/><circle cx="362.0" cy="271.9" r="1.8"/><circle cx="409.2" cy="250.1" r="1.8"/><circle cx="409.0" cy="316.3" r="1.8"/><circle cx="352.9" cy="299.1" r="1.8"/><circle cx="433.3" cy="287.6" r="1.8"/><circle cx="352.6" cy="303.6" r="1.8"/><circle cx="366.2" cy="272.8" r="1.8"/><circle cx="382.0" cy="307.7" r="1.8"/><circle cx="411.9" cy="270.9" r="1.8"/><circle cx="422.4" cy="263.6" r="1.8"/><circle cx="345.5" cy="266.5" r="1.8"/><circle cx="397.7" cy="262.9" r="1.8"/><circle cx="330.4" cy="280.6" r="1.8"/><circle cx="372.3" cy="260.0" r="1.8"/><circle cx="397.7" cy="264.3" r="1.8"/><circle cx="371.3" cy="272.3" r="1.8"/><circle cx="398.2" cy="314.9" r="1.8"/><circle cx="365.3" cy="264.5" r="1.8"/><circle cx="429.0" cy="289.0" r="1.8"/><circle cx="421.5" cy="268.4" r="1.8"/><circle cx="368.8" cy="272.2" r="1.8"/><circle cx="419.9" cy="284.2" r="1.8"/><circle cx="342.3" cy="269.2" r="1.8"/><circle cx="413.1" cy="312.3" r="1.8"/><circle cx="352.1" cy="301.1" r="1.8"/><circle cx="395.5" cy="253.3" r="1.8"/><circle cx="396.5" cy="255.9" r="1.8"/><circle cx="383.6" cy="313.6" r="1.8"/><circle cx="423.4" cy="298.2" r="1.8"/><circle cx="394.1" cy="265.3" r="1.8"/><circle cx="415.7" cy="280.1" r="1.8"/><circle cx="349.3" cy="287.0" r="1.8"/><circle cx="410.9" cy="309.6" r="1.8"/><circle cx="373.8" cy="314.1" r="1.8"/><circle cx="350.2" cy="279.7" r="1.8"/><circle cx="381.6" cy="265.9" r="1.8"/><circle cx="406.7" cy="335.4" r="1.8"/><circle cx="377.0" cy="315.7" r="1.8"/><g fill="#fff"><ellipse cx="394.1" cy="281.8" rx="1.7" ry="1.4"/><ellipse cx="380.9" cy="283.4" rx="1.0" ry="1.3" transform="rotate(30 380.9 283.4)"/><circle cx="372.7" cy="285.9" r="1"/><ellipse cx="378.2" cy="288.6" rx="1.2" ry="0.6"/><circle cx="385.9" cy="280.5" r="0.6"/><circle cx="400" cy="283.6" r="0.9"/><circle cx="403.6" cy="285.5" r="0.9"/><circle cx="369.5" cy="290.5" r="0.6"/><ellipse cx="383.2" cy="298.2" rx="1.6" ry="1.3"/><circle cx="376.8" cy="296.4" r="0.6"/><circle cx="391.4" cy="299.5" r="0.6"/><circle cx="395.9" cy="296.8" r="1"/><ellipse cx="401" cy="293.3" rx="4" ry="1.6" transform="rotate(-15 401 293.3)"/><circle cx="406.8" cy="289.5" r="0.7"/></g></g>
<g fill="none" stroke="#1c1c1c" stroke-width="1.1">
<rect x="256.3" y="213.7" width="264.8" height="151.9"/>
<line x1="322.50" y1="365.6" x2="322.50" y2="362.1"/><line x1="322.50" y1="213.7" x2="322.50" y2="217.2"/><line x1="388.70" y1="365.6" x2="388.70" y2="362.1"/><line x1="388.70" y1="213.7" x2="388.70" y2="217.2"/><line x1="454.90" y1="365.6" x2="454.90" y2="362.1"/><line x1="454.90" y1="213.7" x2="454.90" y2="217.2"/><line x1="256.3" y1="251.68" x2="259.8" y2="251.68"/><line x1="521.1" y1="251.68" x2="517.6" y2="251.68"/><line x1="256.3" y1="289.65" x2="259.8" y2="289.65"/><line x1="521.1" y1="289.65" x2="517.6" y2="289.65"/><line x1="256.3" y1="327.62" x2="259.8" y2="327.62"/><line x1="521.1" y1="327.62" x2="517.6" y2="327.62"/>
</g>
<g class="sans" font-size="10.5" fill="#262626">
<text x="256.30" y="380.5" text-anchor="middle">-2</text><text x="322.50" y="380.5" text-anchor="middle">-1</text><text x="388.70" y="380.5" text-anchor="middle">0</text><text x="454.90" y="380.5" text-anchor="middle">1</text><text x="521.10" y="380.5" text-anchor="middle">2</text><text x="251.5" y="218.30" text-anchor="end">2</text><text x="251.5" y="256.28" text-anchor="end">1</text><text x="251.5" y="294.25" text-anchor="end">0</text><text x="251.5" y="332.23" text-anchor="end">-1</text><text x="251.5" y="370.20" text-anchor="end">-2</text><text x="256.8" y="212.4" font-size="10.5">×10</text><text x="276.4" y="207" font-size="9.5">-5</text><text x="493" y="398.2" font-size="10.5">×10</text><text x="512.6" y="393" font-size="9.5">-5</text>
</g>
<text class="serif" x="267.2" y="234.3" font-size="12.8" fill="#111" textLength="71.3" lengthAdjust="spacingAndGlyphs">Static modes</text>
<g class="serif" fill="#111">
<g transform="translate(339.8,394.6) rotate(0)"><text x="0" y="0" font-size="12.5">Re</text><text x="14.5" y="0" font-size="12.5">(</text><text x="19.8" y="0" font-size="12.0" font-style="italic">ω</text><text x="26.6" y="2.0" font-size="9.6" font-style="italic">m</text><text x="34.5" y="0" font-size="12.5">)</text><text x="46.4" y="0" font-size="12.5" font-style="italic">c</text><text x="59.0" y="0" font-size="12.5">(</text><text x="63.8" y="0" font-size="12.5" font-style="italic">μ</text><text x="69.3" y="0" font-size="13.2">m</text><text x="86.8" y="-3.8" font-size="9.0">1</text><text x="93.5" y="0" font-size="12.5">)</text><path d="M21.2 -7.0 Q22.5 -8.6 24.0 -7.7 Q25.5 -6.8 26.6 -8.3" fill="none" stroke="#111" stroke-width="0.75"/><path d="M80.3 -6.4 H86.3" stroke="#111" stroke-width="0.8"/><path d="M40.2 3.3 L44.6 -9.3" stroke="#111" stroke-width="0.85"/></g><g transform="translate(234.6,339.2) rotate(-90)"><text x="0" y="0" font-size="12.5">Im</text><text x="14.5" y="0" font-size="12.5">(</text><text x="19.8" y="0" font-size="12.0" font-style="italic">ω</text><text x="26.6" y="2.0" font-size="9.6" font-style="italic">m</text><text x="34.5" y="0" font-size="12.5">)</text><text x="46.4" y="0" font-size="12.5" font-style="italic">c</text><text x="59.0" y="0" font-size="12.5">(</text><text x="63.8" y="0" font-size="12.5" font-style="italic">μ</text><text x="69.3" y="0" font-size="13.2">m</text><text x="86.8" y="-3.8" font-size="9.0">1</text><text x="93.5" y="0" font-size="12.5">)</text><path d="M21.2 -7.0 Q22.5 -8.6 24.0 -7.7 Q25.5 -6.8 26.6 -8.3" fill="none" stroke="#111" stroke-width="0.75"/><path d="M80.3 -6.4 H86.3" stroke="#111" stroke-width="0.8"/><path d="M40.2 3.3 L44.6 -9.3" stroke="#111" stroke-width="0.85"/></g>
</g>
</svg>
</body></html>
